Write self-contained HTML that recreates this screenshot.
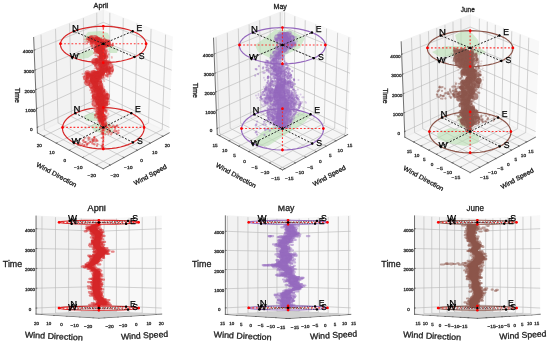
<!DOCTYPE html><html><head><meta charset="utf-8"><title>Wind rose time series: April, May, June</title><style>html,body{margin:0;padding:0;background:#fff;overflow:hidden;font-family:"Liberation Sans",sans-serif}svg{display:block;will-change:transform}svg text{font-family:"Liberation Sans",sans-serif}</style></head><body><svg width="550" height="343" viewBox="0 0 396 246.96" version="1.1"><defs><style type="text/css">*{stroke-linejoin: round; stroke-linecap: butt}</style></defs><g id="figure_1"><g id="patch_1"><path d="M 0 246.96 L 396 246.96 L 396 0 L 0 0 z " style="fill: #ffffff"/></g><g id="patch_2"><path d="M 12.2805 124.38558 L 133.207596 124.38558 L 133.207596 3.458484 L 12.2805 3.458484 z " style="fill: #ffffff"/></g><g id="pane3d_1"><g id="patch_3"><path d="M 121.82124 95.666407 L 74.378198 72.889933 L 74.378198 7.389167 L 124.516092 27.013395 " style="fill: #f2f2f2; opacity: 0.5; stroke: #f2f2f2; stroke-linejoin: miter"/></g></g><g id="pane3d_2"><g id="patch_4"><path d="M 26.935155 95.666407 L 74.378198 72.889933 L 74.378198 7.389167 L 24.240303 27.013395 " style="fill: #e6e6e6; opacity: 0.5; stroke: #e6e6e6; stroke-linejoin: miter"/></g></g><g id="pane3d_3"><g id="patch_5"><path d="M 74.378198 121.569504 L 121.82124 95.666407 L 74.378198 72.889933 L 26.935155 95.666407 " style="fill: #ececec; opacity: 0.5; stroke: #ececec; stroke-linejoin: miter"/></g></g><g id="grid3d_1"><g id="Line3DCollection_1"><path d="M 79.395223 118.830293 L 31.933664 93.266721 L 29.538932 24.939485 " style="fill: none; stroke: #b8b8b8; stroke-width: 0.45"/><path d="M 89.272217 113.437622 L 41.786966 88.536344 L 39.972647 20.855676 " style="fill: none; stroke: #b8b8b8; stroke-width: 0.45"/><path d="M 98.886796 108.188225 L 51.394774 83.923824 L 50.132125 16.879204 " style="fill: none; stroke: #b8b8b8; stroke-width: 0.45"/><path d="M 108.249282 103.076467 L 60.766149 79.424811 L 60.028039 13.005893 " style="fill: none; stroke: #b8b8b8; stroke-width: 0.45"/><path d="M 117.36946 98.097004 L 69.909714 75.035165 L 69.670514 9.231779 " style="fill: none; stroke: #b8b8b8; stroke-width: 0.45"/></g></g><g id="grid3d_2"><g id="Line3DCollection_2"><path d="M 119.217464 24.939485 L 116.822731 93.266721 L 69.361173 118.830293 " style="fill: none; stroke: #b8b8b8; stroke-width: 0.45"/><path d="M 108.783749 20.855676 L 106.96943 88.536344 L 59.484179 113.437622 " style="fill: none; stroke: #b8b8b8; stroke-width: 0.45"/><path d="M 98.624271 16.879204 L 97.361622 83.923824 L 49.8696 108.188225 " style="fill: none; stroke: #b8b8b8; stroke-width: 0.45"/><path d="M 88.728357 13.005893 L 87.990247 79.424811 L 40.507114 103.076467 " style="fill: none; stroke: #b8b8b8; stroke-width: 0.45"/><path d="M 79.085882 9.231779 L 78.846682 75.035165 L 31.386936 98.097004 " style="fill: none; stroke: #b8b8b8; stroke-width: 0.45"/></g></g><g id="grid3d_3"><g id="Line3DCollection_3"><path d="M 26.78089 91.736401 L 74.378198 69.12826 L 121.975506 91.736401 " style="fill: none; stroke: #b8b8b8; stroke-width: 0.45"/><path d="M 26.253651 78.304659 L 74.378198 56.282972 L 122.502745 78.304659 " style="fill: none; stroke: #b8b8b8; stroke-width: 0.45"/><path d="M 25.7146 64.572014 L 74.378198 43.167706 L 123.041796 64.572014 " style="fill: none; stroke: #b8b8b8; stroke-width: 0.45"/><path d="M 25.163337 50.528241 L 74.378198 29.77386 L 123.593059 50.528241 " style="fill: none; stroke: #b8b8b8; stroke-width: 0.45"/><path d="M 24.599441 36.162645 L 74.378198 16.092464 L 124.156955 36.162645 " style="fill: none; stroke: #b8b8b8; stroke-width: 0.45"/></g></g><g id="axis3d_1"><g id="line2d_1"><path d="M 121.82124 95.666407 L 74.378198 121.569504 " style="fill: none; stroke: #555555; stroke-width: 0.6; stroke-linecap: square"/></g><g id="xtick_1"><g id="line2d_2"><path d="M 78.787356 118.502886 L 79.395223 118.830293 " style="fill: none; stroke: #333333; stroke-width: 0.4; stroke-linecap: square"/></g><g id="text_1"><text style="stroke: #333333; stroke-width: 0.216; font-size: 3.12912px; font-family: 'Liberation Sans'; text-anchor: middle; fill: #333333" x="82.599046" y="127.131459" transform="rotate(-0 82.599046 127.131459)" textLength="6.23" lengthAdjust="spacingAndGlyphs">−20</text></g></g><g id="xtick_2"><g id="line2d_3"><path d="M 88.664562 113.118968 L 89.272217 113.437622 " style="fill: none; stroke: #333333; stroke-width: 0.4; stroke-linecap: square"/></g><g id="text_2"><text style="stroke: #333333; stroke-width: 0.216; font-size: 3.12912px; font-family: 'Liberation Sans'; text-anchor: middle; fill: #333333" x="92.439765" y="121.653741" transform="rotate(-0 92.439765 121.653741)" textLength="6.23" lengthAdjust="spacingAndGlyphs">−10</text></g></g><g id="xtick_3"><g id="line2d_4"><path d="M 98.279557 107.877977 L 98.886796 108.188225 " style="fill: none; stroke: #333333; stroke-width: 0.4; stroke-linecap: square"/></g><g id="text_3"><text style="stroke: #333333; stroke-width: 0.216; font-size: 3.12912px; font-family: 'Liberation Sans'; text-anchor: middle; fill: #333333" x="102.018853" y="116.321657" transform="rotate(-0 102.018853 116.321657)" textLength="1.88" lengthAdjust="spacingAndGlyphs">0</text></g></g><g id="xtick_4"><g id="line2d_5"><path d="M 107.642645 102.774297 L 108.249282 103.076467 " style="fill: none; stroke: #333333; stroke-width: 0.4; stroke-linecap: square"/></g><g id="text_4"><text style="stroke: #333333; stroke-width: 0.216; font-size: 3.12912px; font-family: 'Liberation Sans'; text-anchor: middle; fill: #333333" x="111.346608" y="111.129475" transform="rotate(-0 111.346608 111.129475)" textLength="3.76" lengthAdjust="spacingAndGlyphs">10</text></g></g><g id="xtick_5"><g id="line2d_6"><path d="M 116.763598 97.802601 L 117.36946 98.097004 " style="fill: none; stroke: #333333; stroke-width: 0.4; stroke-linecap: square"/></g><g id="text_5"><text style="stroke: #333333; stroke-width: 0.216; font-size: 3.12912px; font-family: 'Liberation Sans'; text-anchor: middle; fill: #333333" x="120.432792" y="106.071759" transform="rotate(-0 120.432792 106.071759)" textLength="3.76" lengthAdjust="spacingAndGlyphs">20</text></g></g></g><g id="axis3d_2"><g id="line2d_7"><path d="M 26.935155 95.666407 L 74.378198 121.569504 " style="fill: none; stroke: #555555; stroke-width: 0.6; stroke-linecap: square"/></g><g id="xtick_6"><g id="line2d_8"><path d="M 69.96904 118.502886 L 69.361173 118.830293 " style="fill: none; stroke: #333333; stroke-width: 0.4; stroke-linecap: square"/></g><g id="text_6"><text style="stroke: #333333; stroke-width: 0.216; font-size: 3.12912px; font-family: 'Liberation Sans'; text-anchor: middle; fill: #333333" x="66.15735" y="127.131459" transform="rotate(-0 66.15735 127.131459)" textLength="6.23" lengthAdjust="spacingAndGlyphs">−20</text></g></g><g id="xtick_7"><g id="line2d_9"><path d="M 60.091834 113.118968 L 59.484179 113.437622 " style="fill: none; stroke: #333333; stroke-width: 0.4; stroke-linecap: square"/></g><g id="text_7"><text style="stroke: #333333; stroke-width: 0.216; font-size: 3.12912px; font-family: 'Liberation Sans'; text-anchor: middle; fill: #333333" x="56.316631" y="121.653741" transform="rotate(-0 56.316631 121.653741)" textLength="6.23" lengthAdjust="spacingAndGlyphs">−10</text></g></g><g id="xtick_8"><g id="line2d_10"><path d="M 50.476839 107.877977 L 49.8696 108.188225 " style="fill: none; stroke: #333333; stroke-width: 0.4; stroke-linecap: square"/></g><g id="text_8"><text style="stroke: #333333; stroke-width: 0.216; font-size: 3.12912px; font-family: 'Liberation Sans'; text-anchor: middle; fill: #333333" x="46.737543" y="116.321657" transform="rotate(-0 46.737543 116.321657)" textLength="1.88" lengthAdjust="spacingAndGlyphs">0</text></g></g><g id="xtick_9"><g id="line2d_11"><path d="M 41.113751 102.774297 L 40.507114 103.076467 " style="fill: none; stroke: #333333; stroke-width: 0.4; stroke-linecap: square"/></g><g id="text_9"><text style="stroke: #333333; stroke-width: 0.216; font-size: 3.12912px; font-family: 'Liberation Sans'; text-anchor: middle; fill: #333333" x="37.409788" y="111.129475" transform="rotate(-0 37.409788 111.129475)" textLength="3.76" lengthAdjust="spacingAndGlyphs">10</text></g></g><g id="xtick_10"><g id="line2d_12"><path d="M 31.992798 97.802601 L 31.386936 98.097004 " style="fill: none; stroke: #333333; stroke-width: 0.4; stroke-linecap: square"/></g><g id="text_10"><text style="stroke: #333333; stroke-width: 0.216; font-size: 3.12912px; font-family: 'Liberation Sans'; text-anchor: middle; fill: #333333" x="28.323604" y="106.071759" transform="rotate(-0 28.323604 106.071759)" textLength="3.76" lengthAdjust="spacingAndGlyphs">20</text></g></g></g><g id="axis3d_3"><g id="line2d_13"><path d="M 26.935155 95.666407 L 24.240303 27.013395 " style="fill: none; stroke: #555555; stroke-width: 0.6; stroke-linecap: square"/></g><g id="xtick_11"><g id="line2d_14"><path d="M 27.388393 91.447845 L 26.78089 91.736401 " style="fill: none; stroke: #333333; stroke-width: 0.4; stroke-linecap: square"/></g><g id="text_11"><text style="stroke: #333333; stroke-width: 0.216; font-size: 3.12912px; font-family: 'Liberation Sans'; text-anchor: middle; fill: #333333" x="22.548867" y="94.004036" transform="rotate(-0 22.548867 94.004036)" textLength="1.88" lengthAdjust="spacingAndGlyphs">0</text></g></g><g id="xtick_12"><g id="line2d_15"><path d="M 26.868289 78.023401 L 26.253651 78.304659 " style="fill: none; stroke: #333333; stroke-width: 0.4; stroke-linecap: square"/></g><g id="text_12"><text style="stroke: #333333; stroke-width: 0.216; font-size: 3.12912px; font-family: 'Liberation Sans'; text-anchor: middle; fill: #333333" x="21.974749" y="80.572293" transform="rotate(-0 21.974749 80.572293)" textLength="7.51" lengthAdjust="spacingAndGlyphs">1000</text></g></g><g id="xtick_13"><g id="line2d_16"><path d="M 26.336544 64.298457 L 25.7146 64.572014 " style="fill: none; stroke: #333333; stroke-width: 0.4; stroke-linecap: square"/></g><g id="text_13"><text style="stroke: #333333; stroke-width: 0.216; font-size: 3.12912px; font-family: 'Liberation Sans'; text-anchor: middle; fill: #333333" x="21.38777" y="66.839648" transform="rotate(-0 21.38777 66.839648)" textLength="7.51" lengthAdjust="spacingAndGlyphs">2000</text></g></g><g id="xtick_14"><g id="line2d_17"><path d="M 25.792761 50.262807 L 25.163337 50.528241 " style="fill: none; stroke: #333333; stroke-width: 0.4; stroke-linecap: square"/></g><g id="text_14"><text style="stroke: #333333; stroke-width: 0.216; font-size: 3.12912px; font-family: 'Liberation Sans'; text-anchor: middle; fill: #333333" x="20.787492" y="52.795875" transform="rotate(-0 20.787492 52.795875)" textLength="7.51" lengthAdjust="spacingAndGlyphs">3000</text></g></g><g id="xtick_15"><g id="line2d_18"><path d="M 25.236526 35.90578 L 24.599441 36.162645 " style="fill: none; stroke: #333333; stroke-width: 0.4; stroke-linecap: square"/></g><g id="text_15"><text style="stroke: #333333; stroke-width: 0.216; font-size: 3.12912px; font-family: 'Liberation Sans'; text-anchor: middle; fill: #333333" x="20.173459" y="38.430279" transform="rotate(-0 20.173459 38.430279)" textLength="7.51" lengthAdjust="spacingAndGlyphs">4000</text></g></g></g><g id="axes_1"/><g id="patch_6"><path d="M 141.453792 125.052192 L 262.018656 125.052192 L 262.018656 4.487328 L 141.453792 4.487328 z " style="fill: #ffffff"/></g><g id="pane3d_4"><g id="patch_7"><path d="M 250.309485 96.85353 L 203.365479 74.398826 L 203.365479 8.22967 L 252.991628 27.501289 " style="fill: #f2f2f2; opacity: 0.5; stroke: #f2f2f2; stroke-linejoin: miter"/></g></g><g id="pane3d_5"><g id="patch_8"><path d="M 156.421473 96.85353 L 203.365479 74.398826 L 203.365479 8.22967 L 153.73933 27.501289 " style="fill: #e6e6e6; opacity: 0.5; stroke: #e6e6e6; stroke-linejoin: miter"/></g></g><g id="pane3d_6"><g id="patch_9"><path d="M 203.365479 122.371086 L 250.309485 96.85353 L 203.365479 74.398826 L 156.421473 96.85353 " style="fill: #ececec; opacity: 0.5; stroke: #ececec; stroke-linejoin: miter"/></g></g><g id="grid3d_4"><g id="Line3DCollection_4"><path d="M 205.07174 121.443606 L 158.12103 96.040581 L 155.541928 26.801275 " style="fill: none; stroke: #b8b8b8; stroke-width: 0.45"/><path d="M 212.742113 117.274188 L 165.767494 92.383052 L 163.64645 23.653998 " style="fill: none; stroke: #b8b8b8; stroke-width: 0.45"/><path d="M 220.253738 113.191062 L 173.265591 88.796491 L 171.584936 20.571198 " style="fill: none; stroke: #b8b8b8; stroke-width: 0.45"/><path d="M 227.611491 109.191576 L 180.619597 85.278853 L 179.362437 17.550914 " style="fill: none; stroke: #b8b8b8; stroke-width: 0.45"/><path d="M 234.820054 105.273186 L 187.833625 81.82817 L 186.983801 14.591265 " style="fill: none; stroke: #b8b8b8; stroke-width: 0.45"/><path d="M 241.883918 101.433451 L 194.911636 78.442549 L 194.453681 11.690442 " style="fill: none; stroke: #b8b8b8; stroke-width: 0.45"/><path d="M 248.807397 97.670026 L 201.85744 75.120166 L 201.776552 8.846708 " style="fill: none; stroke: #b8b8b8; stroke-width: 0.45"/></g></g><g id="grid3d_5"><g id="Line3DCollection_5"><path d="M 251.18903 26.801275 L 248.609927 96.040581 L 201.659218 121.443606 " style="fill: none; stroke: #b8b8b8; stroke-width: 0.45"/><path d="M 243.084508 23.653998 L 240.963463 92.383052 L 193.988845 117.274188 " style="fill: none; stroke: #b8b8b8; stroke-width: 0.45"/><path d="M 235.146021 20.571198 L 233.465367 88.796491 L 186.47722 113.191062 " style="fill: none; stroke: #b8b8b8; stroke-width: 0.45"/><path d="M 227.368521 17.550914 L 226.111361 85.278853 L 179.119467 109.191576 " style="fill: none; stroke: #b8b8b8; stroke-width: 0.45"/><path d="M 219.747157 14.591265 L 218.897332 81.82817 L 171.910904 105.273186 " style="fill: none; stroke: #b8b8b8; stroke-width: 0.45"/><path d="M 212.277276 11.690442 L 211.819321 78.442549 L 164.84704 101.433451 " style="fill: none; stroke: #b8b8b8; stroke-width: 0.45"/><path d="M 204.954406 8.846708 L 204.873518 75.120166 L 157.923561 97.670026 " style="fill: none; stroke: #b8b8b8; stroke-width: 0.45"/></g></g><g id="grid3d_6"><g id="Line3DCollection_6"><path d="M 156.254953 92.547811 L 203.365479 70.27752 L 250.476005 92.547811 " style="fill: none; stroke: #b8b8b8; stroke-width: 0.45"/><path d="M 155.753044 79.569939 L 203.365479 57.866091 L 250.977914 79.569939 " style="fill: none; stroke: #b8b8b8; stroke-width: 0.45"/><path d="M 155.240325 66.312561 L 203.365479 45.203776 L 251.490633 66.312561 " style="fill: none; stroke: #b8b8b8; stroke-width: 0.45"/><path d="M 154.716444 52.766548 L 203.365479 32.28289 L 252.014514 52.766548 " style="fill: none; stroke: #b8b8b8; stroke-width: 0.45"/><path d="M 154.181031 38.92237 L 203.365479 19.095432 L 252.549927 38.92237 " style="fill: none; stroke: #b8b8b8; stroke-width: 0.45"/></g></g><g id="axis3d_4"><g id="line2d_19"><path d="M 250.309485 96.85353 L 203.365479 122.371086 " style="fill: none; stroke: #555555; stroke-width: 0.6; stroke-linecap: square"/></g><g id="xtick_16"><g id="line2d_20"><path d="M 204.470486 121.118294 L 205.07174 121.443606 " style="fill: none; stroke: #333333; stroke-width: 0.4; stroke-linecap: square"/></g><g id="text_16"><text style="stroke: #333333; stroke-width: 0.216; font-size: 3.12912px; font-family: 'Liberation Sans'; text-anchor: middle; fill: #333333" x="208.261868" y="129.806987" transform="rotate(-0 208.261868 129.806987)" textLength="6.23" lengthAdjust="spacingAndGlyphs">−15</text></g></g><g id="xtick_17"><g id="line2d_21"><path d="M 212.140949 116.955641 L 212.742113 117.274188 " style="fill: none; stroke: #333333; stroke-width: 0.4; stroke-linecap: square"/></g><g id="text_17"><text style="stroke: #333333; stroke-width: 0.216; font-size: 3.12912px; font-family: 'Liberation Sans'; text-anchor: middle; fill: #333333" x="215.903915" y="125.571041" transform="rotate(-0 215.903915 125.571041)" textLength="6.23" lengthAdjust="spacingAndGlyphs">−10</text></g></g><g id="xtick_18"><g id="line2d_22"><path d="M 219.652788 112.87907 L 220.253738 113.191062 " style="fill: none; stroke: #333333; stroke-width: 0.4; stroke-linecap: square"/></g><g id="text_18"><text style="stroke: #333333; stroke-width: 0.216; font-size: 3.12912px; font-family: 'Liberation Sans'; text-anchor: middle; fill: #333333" x="223.387696" y="121.422821" transform="rotate(-0 223.387696 121.422821)" textLength="4.35" lengthAdjust="spacingAndGlyphs">−5</text></g></g><g id="xtick_19"><g id="line2d_23"><path d="M 227.010873 108.88594 L 227.611491 109.191576 " style="fill: none; stroke: #333333; stroke-width: 0.4; stroke-linecap: square"/></g><g id="text_19"><text style="stroke: #333333; stroke-width: 0.216; font-size: 3.12912px; font-family: 'Liberation Sans'; text-anchor: middle; fill: #333333" x="230.718078" y="117.359629" transform="rotate(-0 230.718078 117.359629)" textLength="1.88" lengthAdjust="spacingAndGlyphs">0</text></g></g><g id="xtick_20"><g id="line2d_24"><path d="M 234.219878 104.973714 L 234.820054 105.273186 " style="fill: none; stroke: #333333; stroke-width: 0.4; stroke-linecap: square"/></g><g id="text_20"><text style="stroke: #333333; stroke-width: 0.216; font-size: 3.12912px; font-family: 'Liberation Sans'; text-anchor: middle; fill: #333333" x="237.899729" y="113.378878" transform="rotate(-0 237.899729 113.378878)" textLength="1.88" lengthAdjust="spacingAndGlyphs">5</text></g></g><g id="xtick_21"><g id="line2d_25"><path d="M 241.284287 101.139958 L 241.883918 101.433451 " style="fill: none; stroke: #333333; stroke-width: 0.4; stroke-linecap: square"/></g><g id="text_21"><text style="stroke: #333333; stroke-width: 0.216; font-size: 3.12912px; font-family: 'Liberation Sans'; text-anchor: middle; fill: #333333" x="244.93713" y="109.478084" transform="rotate(-0 244.93713 109.478084)" textLength="3.76" lengthAdjust="spacingAndGlyphs">10</text></g></g><g id="xtick_22"><g id="line2d_26"><path d="M 248.208408 97.382334 L 248.807397 97.670026 " style="fill: none; stroke: #333333; stroke-width: 0.4; stroke-linecap: square"/></g><g id="text_22"><text style="stroke: #333333; stroke-width: 0.216; font-size: 3.12912px; font-family: 'Liberation Sans'; text-anchor: middle; fill: #333333" x="251.834584" y="105.654862" transform="rotate(-0 251.834584 105.654862)" textLength="3.76" lengthAdjust="spacingAndGlyphs">15</text></g></g></g><g id="axis3d_5"><g id="line2d_27"><path d="M 156.421473 96.85353 L 203.365479 122.371086 " style="fill: none; stroke: #555555; stroke-width: 0.6; stroke-linecap: square"/></g><g id="xtick_23"><g id="line2d_28"><path d="M 202.260471 121.118294 L 201.659218 121.443606 " style="fill: none; stroke: #333333; stroke-width: 0.4; stroke-linecap: square"/></g><g id="text_23"><text style="stroke: #333333; stroke-width: 0.216; font-size: 3.12912px; font-family: 'Liberation Sans'; text-anchor: middle; fill: #333333" x="198.46909" y="129.806987" transform="rotate(-0 198.46909 129.806987)" textLength="6.23" lengthAdjust="spacingAndGlyphs">−15</text></g></g><g id="xtick_24"><g id="line2d_29"><path d="M 194.590009 116.955641 L 193.988845 117.274188 " style="fill: none; stroke: #333333; stroke-width: 0.4; stroke-linecap: square"/></g><g id="text_24"><text style="stroke: #333333; stroke-width: 0.216; font-size: 3.12912px; font-family: 'Liberation Sans'; text-anchor: middle; fill: #333333" x="190.827043" y="125.571041" transform="rotate(-0 190.827043 125.571041)" textLength="6.23" lengthAdjust="spacingAndGlyphs">−10</text></g></g><g id="xtick_25"><g id="line2d_30"><path d="M 187.07817 112.87907 L 186.47722 113.191062 " style="fill: none; stroke: #333333; stroke-width: 0.4; stroke-linecap: square"/></g><g id="text_25"><text style="stroke: #333333; stroke-width: 0.216; font-size: 3.12912px; font-family: 'Liberation Sans'; text-anchor: middle; fill: #333333" x="183.343262" y="121.422821" transform="rotate(-0 183.343262 121.422821)" textLength="4.35" lengthAdjust="spacingAndGlyphs">−5</text></g></g><g id="xtick_26"><g id="line2d_31"><path d="M 179.720084 108.88594 L 179.119467 109.191576 " style="fill: none; stroke: #333333; stroke-width: 0.4; stroke-linecap: square"/></g><g id="text_26"><text style="stroke: #333333; stroke-width: 0.216; font-size: 3.12912px; font-family: 'Liberation Sans'; text-anchor: middle; fill: #333333" x="176.01288" y="117.359629" transform="rotate(-0 176.01288 117.359629)" textLength="1.88" lengthAdjust="spacingAndGlyphs">0</text></g></g><g id="xtick_27"><g id="line2d_32"><path d="M 172.51108 104.973714 L 171.910904 105.273186 " style="fill: none; stroke: #333333; stroke-width: 0.4; stroke-linecap: square"/></g><g id="text_27"><text style="stroke: #333333; stroke-width: 0.216; font-size: 3.12912px; font-family: 'Liberation Sans'; text-anchor: middle; fill: #333333" x="168.831229" y="113.378878" transform="rotate(-0 168.831229 113.378878)" textLength="1.88" lengthAdjust="spacingAndGlyphs">5</text></g></g><g id="xtick_28"><g id="line2d_33"><path d="M 165.446671 101.139958 L 164.84704 101.433451 " style="fill: none; stroke: #333333; stroke-width: 0.4; stroke-linecap: square"/></g><g id="text_28"><text style="stroke: #333333; stroke-width: 0.216; font-size: 3.12912px; font-family: 'Liberation Sans'; text-anchor: middle; fill: #333333" x="161.793828" y="109.478084" transform="rotate(-0 161.793828 109.478084)" textLength="3.76" lengthAdjust="spacingAndGlyphs">10</text></g></g><g id="xtick_29"><g id="line2d_34"><path d="M 158.52255 97.382334 L 157.923561 97.670026 " style="fill: none; stroke: #333333; stroke-width: 0.4; stroke-linecap: square"/></g><g id="text_29"><text style="stroke: #333333; stroke-width: 0.216; font-size: 3.12912px; font-family: 'Liberation Sans'; text-anchor: middle; fill: #333333" x="154.896374" y="105.654862" transform="rotate(-0 154.896374 105.654862)" textLength="3.76" lengthAdjust="spacingAndGlyphs">15</text></g></g></g><g id="axis3d_6"><g id="line2d_35"><path d="M 156.421473 96.85353 L 153.73933 27.501289 " style="fill: none; stroke: #555555; stroke-width: 0.6; stroke-linecap: square"/></g><g id="xtick_30"><g id="line2d_36"><path d="M 156.856039 92.263663 L 156.254953 92.547811 " style="fill: none; stroke: #333333; stroke-width: 0.4; stroke-linecap: square"/></g><g id="text_30"><text style="stroke: #333333; stroke-width: 0.216; font-size: 3.12912px; font-family: 'Liberation Sans'; text-anchor: middle; fill: #333333" x="152.053626" y="94.815445" transform="rotate(-0 152.053626 94.815445)" textLength="1.88" lengthAdjust="spacingAndGlyphs">0</text></g></g><g id="xtick_31"><g id="line2d_37"><path d="M 156.360919 79.292843 L 155.753044 79.569939 " style="fill: none; stroke: #333333; stroke-width: 0.4; stroke-linecap: square"/></g><g id="text_31"><text style="stroke: #333333; stroke-width: 0.216; font-size: 3.12912px; font-family: 'Liberation Sans'; text-anchor: middle; fill: #333333" x="151.506957" y="81.837574" transform="rotate(-0 151.506957 81.837574)" textLength="7.51" lengthAdjust="spacingAndGlyphs">1000</text></g></g><g id="xtick_32"><g id="line2d_38"><path d="M 155.855143 66.042888 L 155.240325 66.312561 " style="fill: none; stroke: #333333; stroke-width: 0.4; stroke-linecap: square"/></g><g id="text_32"><text style="stroke: #333333; stroke-width: 0.216; font-size: 3.12912px; font-family: 'Liberation Sans'; text-anchor: middle; fill: #333333" x="150.948514" y="68.580195" transform="rotate(-0 150.948514 68.580195)" textLength="7.51" lengthAdjust="spacingAndGlyphs">2000</text></g></g><g id="xtick_33"><g id="line2d_39"><path d="M 155.338365 52.504688 L 154.716444 52.766548 " style="fill: none; stroke: #333333; stroke-width: 0.4; stroke-linecap: square"/></g><g id="text_33"><text style="stroke: #333333; stroke-width: 0.216; font-size: 3.12912px; font-family: 'Liberation Sans'; text-anchor: middle; fill: #333333" x="150.377913" y="55.034182" transform="rotate(-0 150.377913 55.034182)" textLength="7.51" lengthAdjust="spacingAndGlyphs">3000</text></g></g><g id="xtick_34"><g id="line2d_40"><path d="M 154.810221 38.668735 L 154.181031 38.92237 " style="fill: none; stroke: #333333; stroke-width: 0.4; stroke-linecap: square"/></g><g id="text_34"><text style="stroke: #333333; stroke-width: 0.216; font-size: 3.12912px; font-family: 'Liberation Sans'; text-anchor: middle; fill: #333333" x="149.794752" y="41.190004" transform="rotate(-0 149.794752 41.190004)" textLength="7.51" lengthAdjust="spacingAndGlyphs">4000</text></g></g></g><g id="axes_2"/><g id="patch_10"><path d="M 276.810768 127.079568 L 396.9432 127.079568 L 396.9432 6.947136 L 276.810768 6.947136 z " style="fill: #ffffff"/></g><g id="pane3d_7"><g id="patch_11"><path d="M 385.506136 98.789312 L 338.500395 76.402145 L 338.500395 10.896877 L 388.161589 30.10377 " style="fill: #f2f2f2; opacity: 0.5; stroke: #f2f2f2; stroke-linejoin: miter"/></g></g><g id="pane3d_8"><g id="patch_12"><path d="M 291.494654 98.789312 L 338.500395 76.402145 L 338.500395 10.896877 L 288.839202 30.10377 " style="fill: #e6e6e6; opacity: 0.5; stroke: #e6e6e6; stroke-linejoin: miter"/></g></g><g id="pane3d_9"><g id="patch_13"><path d="M 338.500395 124.249643 L 385.506136 98.789312 L 338.500395 76.402145 L 291.494654 98.789312 " style="fill: #ececec; opacity: 0.5; stroke: #ececec; stroke-linejoin: miter"/></g></g><g id="grid3d_7"><g id="Line3DCollection_7"><path d="M 345.542274 120.435458 L 298.51182 95.447284 L 296.274273 27.228192 " style="fill: none; stroke: #b8b8b8; stroke-width: 0.45"/><path d="M 351.381812 117.272513 L 304.33745 92.672743 L 302.441104 24.843117 " style="fill: none; stroke: #b8b8b8; stroke-width: 0.45"/><path d="M 357.128009 114.160126 L 310.0758 89.939771 L 308.510453 22.495744 " style="fill: none; stroke: #b8b8b8; stroke-width: 0.45"/><path d="M 362.783084 111.097094 L 315.728815 87.247441 L 314.484614 20.185186 " style="fill: none; stroke: #b8b8b8; stroke-width: 0.45"/><path d="M 368.349188 108.082253 L 321.298385 84.594852 L 320.365809 17.910584 " style="fill: none; stroke: #b8b8b8; stroke-width: 0.45"/><path d="M 373.828403 105.114474 L 326.786344 81.981132 L 326.156191 15.671104 " style="fill: none; stroke: #b8b8b8; stroke-width: 0.45"/><path d="M 379.22275 102.192664 L 332.194472 79.405432 L 331.857847 13.46594 " style="fill: none; stroke: #b8b8b8; stroke-width: 0.45"/></g></g><g id="grid3d_8"><g id="Line3DCollection_8"><path d="M 380.726517 27.228192 L 378.488971 95.447284 L 331.458517 120.435458 " style="fill: none; stroke: #b8b8b8; stroke-width: 0.45"/><path d="M 374.559686 24.843117 L 372.66334 92.672743 L 325.618978 117.272513 " style="fill: none; stroke: #b8b8b8; stroke-width: 0.45"/><path d="M 368.490337 22.495744 L 366.924991 89.939771 L 319.872781 114.160126 " style="fill: none; stroke: #b8b8b8; stroke-width: 0.45"/><path d="M 362.516176 20.185186 L 361.271976 87.247441 L 314.217707 111.097094 " style="fill: none; stroke: #b8b8b8; stroke-width: 0.45"/><path d="M 356.634981 17.910584 L 355.702406 84.594852 L 308.651603 108.082253 " style="fill: none; stroke: #b8b8b8; stroke-width: 0.45"/><path d="M 350.8446 15.671104 L 350.214447 81.981132 L 303.172387 105.114474 " style="fill: none; stroke: #b8b8b8; stroke-width: 0.45"/><path d="M 345.142944 13.46594 L 344.806318 79.405432 L 297.77804 102.192664 " style="fill: none; stroke: #b8b8b8; stroke-width: 0.45"/></g></g><g id="grid3d_9"><g id="Line3DCollection_9"><path d="M 291.337542 94.725474 L 338.500395 72.514042 L 385.663248 94.725474 " style="fill: none; stroke: #b8b8b8; stroke-width: 0.45"/><path d="M 290.818033 81.287943 L 338.500395 59.668754 L 386.182757 81.287943 " style="fill: none; stroke: #b8b8b8; stroke-width: 0.45"/><path d="M 290.286953 67.551081 L 338.500395 46.555013 L 386.713838 67.551081 " style="fill: none; stroke: #b8b8b8; stroke-width: 0.45"/><path d="M 289.743908 53.504772 L 338.500395 33.164314 L 387.256882 53.504772 " style="fill: none; stroke: #b8b8b8; stroke-width: 0.45"/><path d="M 289.188491 39.138442 L 338.500395 19.487789 L 387.812299 39.138442 " style="fill: none; stroke: #b8b8b8; stroke-width: 0.45"/></g></g><g id="axis3d_7"><g id="line2d_41"><path d="M 385.506136 98.789312 L 338.500395 124.249643 " style="fill: none; stroke: #555555; stroke-width: 0.6; stroke-linecap: square"/></g><g id="xtick_35"><g id="line2d_42"><path d="M 344.940036 120.115478 L 345.542274 120.435458 " style="fill: none; stroke: #333333; stroke-width: 0.4; stroke-linecap: square"/></g><g id="text_35"><text style="stroke: #333333; stroke-width: 0.216; font-size: 3.12912px; font-family: 'Liberation Sans'; text-anchor: middle; fill: #333333" x="348.730128" y="128.734008" transform="rotate(-0 348.730128 128.734008)" textLength="6.23" lengthAdjust="spacingAndGlyphs">−15</text></g></g><g id="xtick_36"><g id="line2d_43"><path d="M 350.779702 116.957666 L 351.381812 117.272513 " style="fill: none; stroke: #333333; stroke-width: 0.4; stroke-linecap: square"/></g><g id="text_36"><text style="stroke: #333333; stroke-width: 0.216; font-size: 3.12912px; font-family: 'Liberation Sans'; text-anchor: middle; fill: #333333" x="354.548184" y="125.520154" transform="rotate(-0 354.548184 125.520154)" textLength="6.23" lengthAdjust="spacingAndGlyphs">−10</text></g></g><g id="xtick_37"><g id="line2d_44"><path d="M 356.526098 113.850289 L 357.128009 114.160126 " style="fill: none; stroke: #333333; stroke-width: 0.4; stroke-linecap: square"/></g><g id="text_37"><text style="stroke: #333333; stroke-width: 0.216; font-size: 3.12912px; font-family: 'Liberation Sans'; text-anchor: middle; fill: #333333" x="360.273174" y="122.357708" transform="rotate(-0 360.273174 122.357708)" textLength="4.35" lengthAdjust="spacingAndGlyphs">−5</text></g></g><g id="xtick_38"><g id="line2d_45"><path d="M 362.181442 110.792149 L 362.783084 111.097094 " style="fill: none; stroke: #333333; stroke-width: 0.4; stroke-linecap: square"/></g><g id="text_38"><text style="stroke: #333333; stroke-width: 0.216; font-size: 3.12912px; font-family: 'Liberation Sans'; text-anchor: middle; fill: #333333" x="365.907314" y="119.245448" transform="rotate(-0 365.907314 119.245448)" textLength="1.88" lengthAdjust="spacingAndGlyphs">0</text></g></g><g id="xtick_39"><g id="line2d_46"><path d="M 367.747881 107.782085 L 368.349188 108.082253 " style="fill: none; stroke: #333333; stroke-width: 0.4; stroke-linecap: square"/></g><g id="text_39"><text style="stroke: #333333; stroke-width: 0.216; font-size: 3.12912px; font-family: 'Liberation Sans'; text-anchor: middle; fill: #333333" x="371.45275" y="116.182186" transform="rotate(-0 371.45275 116.182186)" textLength="1.88" lengthAdjust="spacingAndGlyphs">5</text></g></g><g id="xtick_40"><g id="line2d_47"><path d="M 373.227494 104.818972 L 373.828403 105.114474 " style="fill: none; stroke: #333333; stroke-width: 0.4; stroke-linecap: square"/></g><g id="text_40"><text style="stroke: #333333; stroke-width: 0.216; font-size: 3.12912px; font-family: 'Liberation Sans'; text-anchor: middle; fill: #333333" x="376.911561" y="113.166777" transform="rotate(-0 376.911561 113.166777)" textLength="3.76" lengthAdjust="spacingAndGlyphs">10</text></g></g><g id="xtick_41"><g id="line2d_48"><path d="M 378.622299 101.901719 L 379.22275 102.192664 " style="fill: none; stroke: #333333; stroke-width: 0.4; stroke-linecap: square"/></g><g id="text_41"><text style="stroke: #333333; stroke-width: 0.216; font-size: 3.12912px; font-family: 'Liberation Sans'; text-anchor: middle; fill: #333333" x="382.285759" y="110.198106" transform="rotate(-0 382.285759 110.198106)" textLength="3.76" lengthAdjust="spacingAndGlyphs">15</text></g></g></g><g id="axis3d_8"><g id="line2d_49"><path d="M 291.494654 98.789312 L 338.500395 124.249643 " style="fill: none; stroke: #555555; stroke-width: 0.6; stroke-linecap: square"/></g><g id="xtick_42"><g id="line2d_50"><path d="M 332.060754 120.115478 L 331.458517 120.435458 " style="fill: none; stroke: #333333; stroke-width: 0.4; stroke-linecap: square"/></g><g id="text_42"><text style="stroke: #333333; stroke-width: 0.216; font-size: 3.12912px; font-family: 'Liberation Sans'; text-anchor: middle; fill: #333333" x="328.270662" y="128.734008" transform="rotate(-0 328.270662 128.734008)" textLength="6.23" lengthAdjust="spacingAndGlyphs">−15</text></g></g><g id="xtick_43"><g id="line2d_51"><path d="M 326.221089 116.957666 L 325.618978 117.272513 " style="fill: none; stroke: #333333; stroke-width: 0.4; stroke-linecap: square"/></g><g id="text_43"><text style="stroke: #333333; stroke-width: 0.216; font-size: 3.12912px; font-family: 'Liberation Sans'; text-anchor: middle; fill: #333333" x="322.452607" y="125.520154" transform="rotate(-0 322.452607 125.520154)" textLength="6.23" lengthAdjust="spacingAndGlyphs">−10</text></g></g><g id="xtick_44"><g id="line2d_52"><path d="M 320.474693 113.850289 L 319.872781 114.160126 " style="fill: none; stroke: #333333; stroke-width: 0.4; stroke-linecap: square"/></g><g id="text_44"><text style="stroke: #333333; stroke-width: 0.216; font-size: 3.12912px; font-family: 'Liberation Sans'; text-anchor: middle; fill: #333333" x="316.727617" y="122.357708" transform="rotate(-0 316.727617 122.357708)" textLength="4.35" lengthAdjust="spacingAndGlyphs">−5</text></g></g><g id="xtick_45"><g id="line2d_53"><path d="M 314.819349 110.792149 L 314.217707 111.097094 " style="fill: none; stroke: #333333; stroke-width: 0.4; stroke-linecap: square"/></g><g id="text_45"><text style="stroke: #333333; stroke-width: 0.216; font-size: 3.12912px; font-family: 'Liberation Sans'; text-anchor: middle; fill: #333333" x="311.093476" y="119.245448" transform="rotate(-0 311.093476 119.245448)" textLength="1.88" lengthAdjust="spacingAndGlyphs">0</text></g></g><g id="xtick_46"><g id="line2d_54"><path d="M 309.25291 107.782085 L 308.651603 108.082253 " style="fill: none; stroke: #333333; stroke-width: 0.4; stroke-linecap: square"/></g><g id="text_46"><text style="stroke: #333333; stroke-width: 0.216; font-size: 3.12912px; font-family: 'Liberation Sans'; text-anchor: middle; fill: #333333" x="305.54804" y="116.182186" transform="rotate(-0 305.54804 116.182186)" textLength="1.88" lengthAdjust="spacingAndGlyphs">5</text></g></g><g id="xtick_47"><g id="line2d_55"><path d="M 303.773296 104.818972 L 303.172387 105.114474 " style="fill: none; stroke: #333333; stroke-width: 0.4; stroke-linecap: square"/></g><g id="text_47"><text style="stroke: #333333; stroke-width: 0.216; font-size: 3.12912px; font-family: 'Liberation Sans'; text-anchor: middle; fill: #333333" x="300.08923" y="113.166777" transform="rotate(-0 300.08923 113.166777)" textLength="3.76" lengthAdjust="spacingAndGlyphs">10</text></g></g><g id="xtick_48"><g id="line2d_56"><path d="M 298.378492 101.901719 L 297.77804 102.192664 " style="fill: none; stroke: #333333; stroke-width: 0.4; stroke-linecap: square"/></g><g id="text_48"><text style="stroke: #333333; stroke-width: 0.216; font-size: 3.12912px; font-family: 'Liberation Sans'; text-anchor: middle; fill: #333333" x="294.715032" y="110.198106" transform="rotate(-0 294.715032 110.198106)" textLength="3.76" lengthAdjust="spacingAndGlyphs">15</text></g></g></g><g id="axis3d_9"><g id="line2d_57"><path d="M 291.494654 98.789312 L 288.839202 30.10377 " style="fill: none; stroke: #555555; stroke-width: 0.6; stroke-linecap: square"/></g><g id="xtick_49"><g id="line2d_58"><path d="M 291.939503 94.44198 L 291.337542 94.725474 " style="fill: none; stroke: #333333; stroke-width: 0.4; stroke-linecap: square"/></g><g id="text_49"><text style="stroke: #333333; stroke-width: 0.216; font-size: 3.12912px; font-family: 'Liberation Sans'; text-anchor: middle; fill: #333333" x="287.116409" y="96.993109" transform="rotate(-0 287.116409 96.993109)" textLength="1.88" lengthAdjust="spacingAndGlyphs">0</text></g></g><g id="xtick_50"><g id="line2d_59"><path d="M 291.427025 81.011826 L 290.818033 81.287943 " style="fill: none; stroke: #333333; stroke-width: 0.4; stroke-linecap: square"/></g><g id="text_50"><text style="stroke: #333333; stroke-width: 0.216; font-size: 3.12912px; font-family: 'Liberation Sans'; text-anchor: middle; fill: #333333" x="286.550404" y="83.555578" transform="rotate(-0 286.550404 83.555578)" textLength="7.51" lengthAdjust="spacingAndGlyphs">1000</text></g></g><g id="xtick_51"><g id="line2d_60"><path d="M 290.903141 67.282742 L 290.286953 67.551081 " style="fill: none; stroke: #333333; stroke-width: 0.4; stroke-linecap: square"/></g><g id="text_51"><text style="stroke: #333333; stroke-width: 0.216; font-size: 3.12912px; font-family: 'Liberation Sans'; text-anchor: middle; fill: #333333" x="285.97179" y="69.818715" transform="rotate(-0 285.97179 69.818715)" textLength="7.51" lengthAdjust="spacingAndGlyphs">2000</text></g></g><g id="xtick_52"><g id="line2d_61"><path d="M 290.367466 53.244634 L 289.743908 53.504772 " style="fill: none; stroke: #333333; stroke-width: 0.4; stroke-linecap: square"/></g><g id="text_52"><text style="stroke: #333333; stroke-width: 0.216; font-size: 3.12912px; font-family: 'Liberation Sans'; text-anchor: middle; fill: #333333" x="285.380143" y="55.772406" transform="rotate(-0 285.380143 55.772406)" textLength="7.51" lengthAdjust="spacingAndGlyphs">3000</text></g></g><g id="xtick_53"><g id="line2d_62"><path d="M 289.819595 38.886949 L 289.188491 39.138442 " style="fill: none; stroke: #333333; stroke-width: 0.4; stroke-linecap: square"/></g><g id="text_53"><text style="stroke: #333333; stroke-width: 0.216; font-size: 3.12912px; font-family: 'Liberation Sans'; text-anchor: middle; fill: #333333" x="284.775015" y="41.406077" transform="rotate(-0 284.775015 41.406077)" textLength="7.51" lengthAdjust="spacingAndGlyphs">4000</text></g></g></g><g id="axes_3"/><g id="patch_14"><path d="M 13.994712 248.049216 L 125.36244 248.049216 L 125.36244 136.681488 L 13.994712 136.681488 z " style="fill: #ffffff"/></g><g id="pane3d_10"><g id="patch_15"><path d="M 116.408085 226.139137 L 71.183545 223.637295 L 71.183545 158.006928 L 116.412711 155.57802 " style="fill: #f2f2f2; opacity: 0.5; stroke: #f2f2f2; stroke-linejoin: miter"/></g></g><g id="pane3d_11"><g id="patch_16"><path d="M 25.959006 226.139137 L 71.183545 223.637295 L 71.183545 158.006928 L 25.95438 155.57802 " style="fill: #e6e6e6; opacity: 0.5; stroke: #e6e6e6; stroke-linejoin: miter"/></g></g><g id="pane3d_12"><g id="patch_17"><path d="M 71.183545 229.047416 L 116.408085 226.139137 L 71.183545 223.637295 L 25.959006 226.139137 " style="fill: #ececec; opacity: 0.5; stroke: #ececec; stroke-linejoin: miter"/></g></g><g id="grid3d_10"><g id="Line3DCollection_10"><path d="M 75.490525 228.770445 L 30.243981 225.90209 L 30.239821 155.808157 " style="fill: none; stroke: #b8b8b8; stroke-width: 0.45"/><path d="M 85.240946 228.143419 L 39.961634 225.364505 L 39.95851 156.330073 " style="fill: none; stroke: #b8b8b8; stroke-width: 0.45"/><path d="M 94.678342 227.536523 L 49.389903 224.842929 L 49.387754 156.836445 " style="fill: none; stroke: #b8b8b8; stroke-width: 0.45"/><path d="M 103.817548 226.948804 L 58.541523 224.336657 L 58.540295 157.327957 " style="fill: none; stroke: #b8b8b8; stroke-width: 0.45"/><path d="M 112.672478 226.379365 L 67.428496 223.845026 L 67.428136 157.805255 " style="fill: none; stroke: #b8b8b8; stroke-width: 0.45"/></g></g><g id="grid3d_11"><g id="Line3DCollection_11"><path d="M 112.127269 155.808157 L 112.123109 225.90209 L 66.876565 228.770445 " style="fill: none; stroke: #b8b8b8; stroke-width: 0.45"/><path d="M 102.408581 156.330073 L 102.405456 225.364505 L 57.126144 228.143419 " style="fill: none; stroke: #b8b8b8; stroke-width: 0.45"/><path d="M 92.979336 156.836445 L 92.977188 224.842929 L 47.688748 227.536523 " style="fill: none; stroke: #b8b8b8; stroke-width: 0.45"/><path d="M 83.826795 157.327957 L 83.825567 224.336657 L 38.549542 226.948804 " style="fill: none; stroke: #b8b8b8; stroke-width: 0.45"/><path d="M 74.938954 157.805255 L 74.938595 223.845026 L 29.694613 226.379365 " style="fill: none; stroke: #b8b8b8; stroke-width: 0.45"/></g></g><g id="grid3d_12"><g id="Line3DCollection_12"><path d="M 25.958723 221.821211 L 71.183545 219.621075 L 116.408368 221.821211 " style="fill: none; stroke: #b8b8b8; stroke-width: 0.45"/><path d="M 25.957786 207.538472 L 71.183545 206.336337 L 116.409304 207.538472 " style="fill: none; stroke: #b8b8b8; stroke-width: 0.45"/><path d="M 25.95685 193.25514 L 71.183545 193.051087 L 116.410241 193.25514 " style="fill: none; stroke: #b8b8b8; stroke-width: 0.45"/><path d="M 25.955913 178.971218 L 71.183545 179.765326 L 116.411177 178.971218 " style="fill: none; stroke: #b8b8b8; stroke-width: 0.45"/><path d="M 25.954977 164.686703 L 71.183545 166.479052 L 116.412114 164.686703 " style="fill: none; stroke: #b8b8b8; stroke-width: 0.45"/></g></g><g id="axis3d_10"><g id="line2d_63"><path d="M 116.408085 226.139137 L 71.183545 229.047416 " style="fill: none; stroke: #555555; stroke-width: 0.6; stroke-linecap: square"/></g><g id="xtick_54"><g id="line2d_64"><path d="M 74.904347 228.733285 L 75.490525 228.770445 " style="fill: none; stroke: #333333; stroke-width: 0.4; stroke-linecap: square"/></g><g id="text_54"><text style="stroke: #333333; stroke-width: 0.216; font-size: 2.97648px; font-family: 'Liberation Sans'; text-anchor: middle; fill: #333333" x="78.881195" y="236.394582" transform="rotate(-0 78.881195 236.394582)" textLength="5.93" lengthAdjust="spacingAndGlyphs">−20</text></g></g><g id="xtick_55"><g id="line2d_65"><path d="M 84.655048 228.107461 L 85.240946 228.143419 " style="fill: none; stroke: #333333; stroke-width: 0.4; stroke-linecap: square"/></g><g id="text_55"><text style="stroke: #333333; stroke-width: 0.216; font-size: 2.97648px; font-family: 'Liberation Sans'; text-anchor: middle; fill: #333333" x="88.629559" y="235.674432" transform="rotate(-0 88.629559 235.674432)" textLength="5.93" lengthAdjust="spacingAndGlyphs">−10</text></g></g><g id="xtick_56"><g id="line2d_66"><path d="M 94.093008 227.50171 L 94.678342 227.536523 " style="fill: none; stroke: #333333; stroke-width: 0.4; stroke-linecap: square"/></g><g id="text_56"><text style="stroke: #333333; stroke-width: 0.216; font-size: 2.97648px; font-family: 'Liberation Sans'; text-anchor: middle; fill: #333333" x="98.063273" y="234.977528" transform="rotate(-0 98.063273 234.977528)" textLength="1.79" lengthAdjust="spacingAndGlyphs">0</text></g></g><g id="xtick_57"><g id="line2d_67"><path d="M 103.233035 226.915081 L 103.817548 226.948804 " style="fill: none; stroke: #333333; stroke-width: 0.4; stroke-linecap: square"/></g><g id="text_57"><text style="stroke: #333333; stroke-width: 0.216; font-size: 2.97648px; font-family: 'Liberation Sans'; text-anchor: middle; fill: #333333" x="107.197328" y="234.30276" transform="rotate(-0 107.197328 234.30276)" textLength="3.57" lengthAdjust="spacingAndGlyphs">10</text></g></g><g id="xtick_58"><g id="line2d_68"><path d="M 112.089018 226.346682 L 112.672478 226.379365 " style="fill: none; stroke: #333333; stroke-width: 0.4; stroke-linecap: square"/></g><g id="text_58"><text style="stroke: #333333; stroke-width: 0.216; font-size: 2.97648px; font-family: 'Liberation Sans'; text-anchor: middle; fill: #333333" x="116.045779" y="233.649091" transform="rotate(-0 116.045779 233.649091)" textLength="3.57" lengthAdjust="spacingAndGlyphs">20</text></g></g></g><g id="axis3d_11"><g id="line2d_69"><path d="M 25.959006 226.139137 L 71.183545 229.047416 " style="fill: none; stroke: #555555; stroke-width: 0.6; stroke-linecap: square"/></g><g id="xtick_59"><g id="line2d_70"><path d="M 67.462744 228.733285 L 66.876565 228.770445 " style="fill: none; stroke: #333333; stroke-width: 0.4; stroke-linecap: square"/></g><g id="text_59"><text style="stroke: #333333; stroke-width: 0.216; font-size: 2.97648px; font-family: 'Liberation Sans'; text-anchor: middle; fill: #333333" x="63.485896" y="236.394582" transform="rotate(-0 63.485896 236.394582)" textLength="5.93" lengthAdjust="spacingAndGlyphs">−20</text></g></g><g id="xtick_60"><g id="line2d_71"><path d="M 57.712043 228.107461 L 57.126144 228.143419 " style="fill: none; stroke: #333333; stroke-width: 0.4; stroke-linecap: square"/></g><g id="text_60"><text style="stroke: #333333; stroke-width: 0.216; font-size: 2.97648px; font-family: 'Liberation Sans'; text-anchor: middle; fill: #333333" x="53.737532" y="235.674432" transform="rotate(-0 53.737532 235.674432)" textLength="5.93" lengthAdjust="spacingAndGlyphs">−10</text></g></g><g id="xtick_61"><g id="line2d_72"><path d="M 48.274083 227.50171 L 47.688748 227.536523 " style="fill: none; stroke: #333333; stroke-width: 0.4; stroke-linecap: square"/></g><g id="text_61"><text style="stroke: #333333; stroke-width: 0.216; font-size: 2.97648px; font-family: 'Liberation Sans'; text-anchor: middle; fill: #333333" x="44.303818" y="234.977528" transform="rotate(-0 44.303818 234.977528)" textLength="1.79" lengthAdjust="spacingAndGlyphs">0</text></g></g><g id="xtick_62"><g id="line2d_73"><path d="M 39.134055 226.915081 L 38.549542 226.948804 " style="fill: none; stroke: #333333; stroke-width: 0.4; stroke-linecap: square"/></g><g id="text_62"><text style="stroke: #333333; stroke-width: 0.216; font-size: 2.97648px; font-family: 'Liberation Sans'; text-anchor: middle; fill: #333333" x="35.169763" y="234.30276" transform="rotate(-0 35.169763 234.30276)" textLength="3.57" lengthAdjust="spacingAndGlyphs">10</text></g></g><g id="xtick_63"><g id="line2d_74"><path d="M 30.278072 226.346682 L 29.694613 226.379365 " style="fill: none; stroke: #333333; stroke-width: 0.4; stroke-linecap: square"/></g><g id="text_63"><text style="stroke: #333333; stroke-width: 0.216; font-size: 2.97648px; font-family: 'Liberation Sans'; text-anchor: middle; fill: #333333" x="26.321312" y="233.649091" transform="rotate(-0 26.321312 233.649091)" textLength="3.57" lengthAdjust="spacingAndGlyphs">20</text></g></g></g><g id="axis3d_12"><g id="line2d_75"><path d="M 25.959006 226.139137 L 25.95438 155.57802 " style="fill: none; stroke: #555555; stroke-width: 0.6; stroke-linecap: square"/></g><g id="xtick_64"><g id="line2d_76"><path d="M 26.541666 221.792852 L 25.958723 221.821211 " style="fill: none; stroke: #333333; stroke-width: 0.4; stroke-linecap: square"/></g><g id="text_64"><text style="stroke: #333333; stroke-width: 0.216; font-size: 2.97648px; font-family: 'Liberation Sans'; text-anchor: middle; fill: #333333" x="21.592491" y="223.978229" transform="rotate(-0 21.592491 223.978229)" textLength="1.79" lengthAdjust="spacingAndGlyphs">0</text></g></g><g id="xtick_65"><g id="line2d_77"><path d="M 26.540742 207.522976 L 25.957786 207.538472 " style="fill: none; stroke: #333333; stroke-width: 0.4; stroke-linecap: square"/></g><g id="text_65"><text style="stroke: #333333; stroke-width: 0.216; font-size: 2.97648px; font-family: 'Liberation Sans'; text-anchor: middle; fill: #333333" x="21.591464" y="209.695489" transform="rotate(-0 21.591464 209.695489)" textLength="7.15" lengthAdjust="spacingAndGlyphs">1000</text></g></g><g id="xtick_66"><g id="line2d_78"><path d="M 26.539819 193.25251 L 25.95685 193.25514 " style="fill: none; stroke: #333333; stroke-width: 0.4; stroke-linecap: square"/></g><g id="text_66"><text style="stroke: #333333; stroke-width: 0.216; font-size: 2.97648px; font-family: 'Liberation Sans'; text-anchor: middle; fill: #333333" x="21.590437" y="195.412158" transform="rotate(-0 21.590437 195.412158)" textLength="7.15" lengthAdjust="spacingAndGlyphs">2000</text></g></g><g id="xtick_67"><g id="line2d_79"><path d="M 26.538895 178.981454 L 25.955913 178.971218 " style="fill: none; stroke: #333333; stroke-width: 0.4; stroke-linecap: square"/></g><g id="text_67"><text style="stroke: #333333; stroke-width: 0.216; font-size: 2.97648px; font-family: 'Liberation Sans'; text-anchor: middle; fill: #333333" x="21.589411" y="181.128235" transform="rotate(-0 21.589411 181.128235)" textLength="7.15" lengthAdjust="spacingAndGlyphs">3000</text></g></g><g id="xtick_68"><g id="line2d_80"><path d="M 26.537971 164.709806 L 25.954977 164.686703 " style="fill: none; stroke: #333333; stroke-width: 0.4; stroke-linecap: square"/></g><g id="text_68"><text style="stroke: #333333; stroke-width: 0.216; font-size: 2.97648px; font-family: 'Liberation Sans'; text-anchor: middle; fill: #333333" x="21.588384" y="166.843721" transform="rotate(-0 21.588384 166.843721)" textLength="7.15" lengthAdjust="spacingAndGlyphs">4000</text></g></g></g><g id="axes_4"/><g id="patch_18"><path d="M 150.169968 248.139288 L 261.64728 248.139288 L 261.64728 136.661976 L 150.169968 136.661976 z " style="fill: #ffffff"/></g><g id="pane3d_13"><g id="patch_19"><path d="M 252.568506 226.355332 L 207.415074 223.846683 L 207.415074 157.865211 L 252.573144 155.429389 " style="fill: #f2f2f2; opacity: 0.5; stroke: #f2f2f2; stroke-linejoin: miter"/></g></g><g id="pane3d_14"><g id="patch_20"><path d="M 162.261643 226.355332 L 207.415074 223.846683 L 207.415074 157.865211 L 162.257004 155.429389 " style="fill: #e6e6e6; opacity: 0.5; stroke: #e6e6e6; stroke-linejoin: miter"/></g></g><g id="pane3d_15"><g id="patch_21"><path d="M 207.415074 229.270399 L 252.568506 226.355332 L 207.415074 223.846683 L 162.261643 226.355332 " style="fill: #ececec; opacity: 0.5; stroke: #ececec; stroke-linejoin: miter"/></g></g><g id="grid3d_13"><g id="Line3DCollection_13"><path d="M 208.9781 229.169491 L 163.816194 226.268964 L 163.811726 155.51325 " style="fill: none; stroke: #b8b8b8; stroke-width: 0.45"/><path d="M 216.457219 228.686646 L 171.263137 225.855224 L 171.259475 155.914981 " style="fill: none; stroke: #b8b8b8; stroke-width: 0.45"/><path d="M 223.752483 228.21567 L 178.540389 225.450912 L 178.537498 156.307557 " style="fill: none; stroke: #b8b8b8; stroke-width: 0.45"/><path d="M 230.870592 227.756131 L 185.653687 225.055709 L 185.651532 156.691287 " style="fill: none; stroke: #b8b8b8; stroke-width: 0.45"/><path d="M 237.817918 227.307617 L 192.608507 224.669311 L 192.607058 157.066468 " style="fill: none; stroke: #b8b8b8; stroke-width: 0.45"/><path d="M 244.600537 226.869737 L 199.410089 224.291427 L 199.409314 157.433381 " style="fill: none; stroke: #b8b8b8; stroke-width: 0.45"/><path d="M 251.224237 226.442117 L 206.063442 223.921778 L 206.063313 157.792297 " style="fill: none; stroke: #b8b8b8; stroke-width: 0.45"/></g></g><g id="grid3d_14"><g id="Line3DCollection_14"><path d="M 251.018422 155.51325 L 251.013955 226.268964 L 205.852049 229.169491 " style="fill: none; stroke: #b8b8b8; stroke-width: 0.45"/><path d="M 243.570674 155.914981 L 243.567012 225.855224 L 198.37293 228.686646 " style="fill: none; stroke: #b8b8b8; stroke-width: 0.45"/><path d="M 236.29265 156.307557 L 236.289759 225.450912 L 191.077665 228.21567 " style="fill: none; stroke: #b8b8b8; stroke-width: 0.45"/><path d="M 229.178616 156.691287 L 229.176462 225.055709 L 183.959557 227.756131 " style="fill: none; stroke: #b8b8b8; stroke-width: 0.45"/><path d="M 222.223091 157.066468 L 222.221641 224.669311 L 177.01223 227.307617 " style="fill: none; stroke: #b8b8b8; stroke-width: 0.45"/><path d="M 215.420834 157.433381 L 215.420059 224.291427 L 170.229611 226.869737 " style="fill: none; stroke: #b8b8b8; stroke-width: 0.45"/><path d="M 208.766836 157.792297 L 208.766706 223.921778 L 163.605911 226.442117 " style="fill: none; stroke: #b8b8b8; stroke-width: 0.45"/></g></g><g id="grid3d_15"><g id="Line3DCollection_15"><path d="M 162.261337 221.674669 L 207.415074 219.492295 L 252.568812 221.674669 " style="fill: none; stroke: #b8b8b8; stroke-width: 0.45"/><path d="M 162.260435 207.884467 L 207.415074 206.66339 L 252.569714 207.884467 " style="fill: none; stroke: #b8b8b8; stroke-width: 0.45"/><path d="M 162.259533 194.093715 L 207.415074 193.834008 L 252.570615 194.093715 " style="fill: none; stroke: #b8b8b8; stroke-width: 0.45"/><path d="M 162.258631 180.302412 L 207.415074 181.004149 L 252.571517 180.302412 " style="fill: none; stroke: #b8b8b8; stroke-width: 0.45"/><path d="M 162.257729 166.510558 L 207.415074 168.173814 L 252.572419 166.510558 " style="fill: none; stroke: #b8b8b8; stroke-width: 0.45"/></g></g><g id="axis3d_13"><g id="line2d_81"><path d="M 252.568506 226.355332 L 207.415074 229.270399 " style="fill: none; stroke: #555555; stroke-width: 0.6; stroke-linecap: square"/></g><g id="xtick_69"><g id="line2d_82"><path d="M 208.392939 229.131909 L 208.9781 229.169491 " style="fill: none; stroke: #333333; stroke-width: 0.4; stroke-linecap: square"/></g><g id="text_69"><text style="stroke: #333333; stroke-width: 0.216; font-size: 2.97648px; font-family: 'Liberation Sans'; text-anchor: middle; fill: #333333" x="212.359595" y="236.840971" transform="rotate(-0 212.359595 236.840971)" textLength="5.93" lengthAdjust="spacingAndGlyphs">−15</text></g></g><g id="xtick_70"><g id="line2d_83"><path d="M 215.872178 228.649993 L 216.457219 228.686646 " style="fill: none; stroke: #333333; stroke-width: 0.4; stroke-linecap: square"/></g><g id="text_70"><text style="stroke: #333333; stroke-width: 0.216; font-size: 2.97648px; font-family: 'Liberation Sans'; text-anchor: middle; fill: #333333" x="219.837684" y="236.286459" transform="rotate(-0 219.837684 236.286459)" textLength="5.93" lengthAdjust="spacingAndGlyphs">−10</text></g></g><g id="xtick_71"><g id="line2d_84"><path d="M 223.167735 228.179912 L 223.752483 228.21567 " style="fill: none; stroke: #333333; stroke-width: 0.4; stroke-linecap: square"/></g><g id="text_71"><text style="stroke: #333333; stroke-width: 0.216; font-size: 2.97648px; font-family: 'Liberation Sans'; text-anchor: middle; fill: #333333" x="227.130941" y="235.745653" transform="rotate(-0 227.130941 235.745653)" textLength="4.14" lengthAdjust="spacingAndGlyphs">−5</text></g></g><g id="xtick_72"><g id="line2d_85"><path d="M 230.286293 227.721236 L 230.870592 227.756131 " style="fill: none; stroke: #333333; stroke-width: 0.4; stroke-linecap: square"/></g><g id="text_72"><text style="stroke: #333333; stroke-width: 0.216; font-size: 2.97648px; font-family: 'Liberation Sans'; text-anchor: middle; fill: #333333" x="234.246137" y="235.21805" transform="rotate(-0 234.246137 235.21805)" textLength="1.79" lengthAdjust="spacingAndGlyphs">0</text></g></g><g id="xtick_73"><g id="line2d_86"><path d="M 237.234216 227.273554 L 237.817918 227.307617 " style="fill: none; stroke: #333333; stroke-width: 0.4; stroke-linecap: square"/></g><g id="text_73"><text style="stroke: #333333; stroke-width: 0.216; font-size: 2.97648px; font-family: 'Liberation Sans'; text-anchor: middle; fill: #333333" x="241.189714" y="234.703173" transform="rotate(-0 241.189714 234.703173)" textLength="1.79" lengthAdjust="spacingAndGlyphs">5</text></g></g><g id="xtick_74"><g id="line2d_87"><path d="M 244.017568 226.836476 L 244.600537 226.869737 " style="fill: none; stroke: #333333; stroke-width: 0.4; stroke-linecap: square"/></g><g id="text_74"><text style="stroke: #333333; stroke-width: 0.216; font-size: 2.97648px; font-family: 'Liberation Sans'; text-anchor: middle; fill: #333333" x="247.967806" y="234.200567" transform="rotate(-0 247.967806 234.200567)" textLength="3.57" lengthAdjust="spacingAndGlyphs">10</text></g></g><g id="xtick_75"><g id="line2d_88"><path d="M 250.642126 226.40963 L 251.224237 226.442117 " style="fill: none; stroke: #333333; stroke-width: 0.4; stroke-linecap: square"/></g><g id="text_75"><text style="stroke: #333333; stroke-width: 0.216; font-size: 2.97648px; font-family: 'Liberation Sans'; text-anchor: middle; fill: #333333" x="254.58626" y="233.709798" transform="rotate(-0 254.58626 233.709798)" textLength="3.57" lengthAdjust="spacingAndGlyphs">15</text></g></g></g><g id="axis3d_14"><g id="line2d_89"><path d="M 162.261643 226.355332 L 207.415074 229.270399 " style="fill: none; stroke: #555555; stroke-width: 0.6; stroke-linecap: square"/></g><g id="xtick_76"><g id="line2d_90"><path d="M 206.43721 229.131909 L 205.852049 229.169491 " style="fill: none; stroke: #333333; stroke-width: 0.4; stroke-linecap: square"/></g><g id="text_76"><text style="stroke: #333333; stroke-width: 0.216; font-size: 2.97648px; font-family: 'Liberation Sans'; text-anchor: middle; fill: #333333" x="202.470553" y="236.840971" transform="rotate(-0 202.470553 236.840971)" textLength="5.93" lengthAdjust="spacingAndGlyphs">−15</text></g></g><g id="xtick_77"><g id="line2d_91"><path d="M 198.95797 228.649993 L 198.37293 228.686646 " style="fill: none; stroke: #333333; stroke-width: 0.4; stroke-linecap: square"/></g><g id="text_77"><text style="stroke: #333333; stroke-width: 0.216; font-size: 2.97648px; font-family: 'Liberation Sans'; text-anchor: middle; fill: #333333" x="194.992465" y="236.286459" transform="rotate(-0 194.992465 236.286459)" textLength="5.93" lengthAdjust="spacingAndGlyphs">−10</text></g></g><g id="xtick_78"><g id="line2d_92"><path d="M 191.662413 228.179912 L 191.077665 228.21567 " style="fill: none; stroke: #333333; stroke-width: 0.4; stroke-linecap: square"/></g><g id="text_78"><text style="stroke: #333333; stroke-width: 0.216; font-size: 2.97648px; font-family: 'Liberation Sans'; text-anchor: middle; fill: #333333" x="187.699207" y="235.745653" transform="rotate(-0 187.699207 235.745653)" textLength="4.14" lengthAdjust="spacingAndGlyphs">−5</text></g></g><g id="xtick_79"><g id="line2d_93"><path d="M 184.543856 227.721236 L 183.959557 227.756131 " style="fill: none; stroke: #333333; stroke-width: 0.4; stroke-linecap: square"/></g><g id="text_79"><text style="stroke: #333333; stroke-width: 0.216; font-size: 2.97648px; font-family: 'Liberation Sans'; text-anchor: middle; fill: #333333" x="180.584011" y="235.21805" transform="rotate(-0 180.584011 235.21805)" textLength="1.79" lengthAdjust="spacingAndGlyphs">0</text></g></g><g id="xtick_80"><g id="line2d_94"><path d="M 177.595932 227.273554 L 177.01223 227.307617 " style="fill: none; stroke: #333333; stroke-width: 0.4; stroke-linecap: square"/></g><g id="text_80"><text style="stroke: #333333; stroke-width: 0.216; font-size: 2.97648px; font-family: 'Liberation Sans'; text-anchor: middle; fill: #333333" x="173.640434" y="234.703173" transform="rotate(-0 173.640434 234.703173)" textLength="1.79" lengthAdjust="spacingAndGlyphs">5</text></g></g><g id="xtick_81"><g id="line2d_95"><path d="M 170.812581 226.836476 L 170.229611 226.869737 " style="fill: none; stroke: #333333; stroke-width: 0.4; stroke-linecap: square"/></g><g id="text_81"><text style="stroke: #333333; stroke-width: 0.216; font-size: 2.97648px; font-family: 'Liberation Sans'; text-anchor: middle; fill: #333333" x="166.862342" y="234.200567" transform="rotate(-0 166.862342 234.200567)" textLength="3.57" lengthAdjust="spacingAndGlyphs">10</text></g></g><g id="xtick_82"><g id="line2d_96"><path d="M 164.188023 226.40963 L 163.605911 226.442117 " style="fill: none; stroke: #333333; stroke-width: 0.4; stroke-linecap: square"/></g><g id="text_82"><text style="stroke: #333333; stroke-width: 0.216; font-size: 2.97648px; font-family: 'Liberation Sans'; text-anchor: middle; fill: #333333" x="160.243888" y="233.709798" transform="rotate(-0 160.243888 233.709798)" textLength="3.57" lengthAdjust="spacingAndGlyphs">15</text></g></g></g><g id="axis3d_15"><g id="line2d_97"><path d="M 162.261643 226.355332 L 162.257004 155.429389 " style="fill: none; stroke: #555555; stroke-width: 0.6; stroke-linecap: square"/></g><g id="xtick_83"><g id="line2d_98"><path d="M 162.843261 221.646543 L 162.261337 221.674669 " style="fill: none; stroke: #333333; stroke-width: 0.4; stroke-linecap: square"/></g><g id="text_83"><text style="stroke: #333333; stroke-width: 0.216; font-size: 2.97648px; font-family: 'Liberation Sans'; text-anchor: middle; fill: #333333" x="157.906253" y="223.831687" transform="rotate(-0 157.906253 223.831687)" textLength="1.79" lengthAdjust="spacingAndGlyphs">0</text></g></g><g id="xtick_84"><g id="line2d_99"><path d="M 162.842371 207.868731 L 162.260435 207.884467 " style="fill: none; stroke: #333333; stroke-width: 0.4; stroke-linecap: square"/></g><g id="text_84"><text style="stroke: #333333; stroke-width: 0.216; font-size: 2.97648px; font-family: 'Liberation Sans'; text-anchor: middle; fill: #333333" x="157.905264" y="210.041485" transform="rotate(-0 157.905264 210.041485)" textLength="7.15" lengthAdjust="spacingAndGlyphs">1000</text></g></g><g id="xtick_85"><g id="line2d_100"><path d="M 162.841482 194.090368 L 162.259533 194.093715 " style="fill: none; stroke: #333333; stroke-width: 0.4; stroke-linecap: square"/></g><g id="text_85"><text style="stroke: #333333; stroke-width: 0.216; font-size: 2.97648px; font-family: 'Liberation Sans'; text-anchor: middle; fill: #333333" x="157.904276" y="196.250733" transform="rotate(-0 157.904276 196.250733)" textLength="7.15" lengthAdjust="spacingAndGlyphs">2000</text></g></g><g id="xtick_86"><g id="line2d_101"><path d="M 162.840592 180.311456 L 162.258631 180.302412 " style="fill: none; stroke: #333333; stroke-width: 0.4; stroke-linecap: square"/></g><g id="text_86"><text style="stroke: #333333; stroke-width: 0.216; font-size: 2.97648px; font-family: 'Liberation Sans'; text-anchor: middle; fill: #333333" x="157.903287" y="182.45943" transform="rotate(-0 157.903287 182.45943)" textLength="7.15" lengthAdjust="spacingAndGlyphs">3000</text></g></g><g id="xtick_87"><g id="line2d_102"><path d="M 162.839703 166.531993 L 162.257729 166.510558 " style="fill: none; stroke: #333333; stroke-width: 0.4; stroke-linecap: square"/></g><g id="text_87"><text style="stroke: #333333; stroke-width: 0.216; font-size: 2.97648px; font-family: 'Liberation Sans'; text-anchor: middle; fill: #333333" x="157.902298" y="168.667576" transform="rotate(-0 157.902298 168.667576)" textLength="7.15" lengthAdjust="spacingAndGlyphs">4000</text></g></g></g><g id="axes_5"/><g id="patch_22"><path d="M 286.418304 248.144328 L 397.991088 248.144328 L 397.991088 136.571544 L 286.418304 136.571544 z " style="fill: #ffffff"/></g><g id="pane3d_16"><g id="patch_23"><path d="M 388.957719 226.273904 L 343.712436 223.765091 L 343.712436 157.858698 L 388.962358 155.422855 " style="fill: #f2f2f2; opacity: 0.5; stroke: #f2f2f2; stroke-linejoin: miter"/></g></g><g id="pane3d_17"><g id="patch_24"><path d="M 298.467154 226.273904 L 343.712436 223.765091 L 343.712436 157.858698 L 298.462515 155.422855 " style="fill: #e6e6e6; opacity: 0.5; stroke: #e6e6e6; stroke-linejoin: miter"/></g></g><g id="pane3d_18"><g id="patch_25"><path d="M 343.712436 229.189679 L 388.957719 226.273904 L 343.712436 223.765091 L 298.467154 226.273904 " style="fill: #ececec; opacity: 0.5; stroke: #ececec; stroke-linejoin: miter"/></g></g><g id="grid3d_16"><g id="Line3DCollection_16"><path d="M 350.503137 228.752061 L 305.225344 225.899168 L 305.221439 155.786694 " style="fill: none; stroke: #b8b8b8; stroke-width: 0.45"/><path d="M 356.180424 228.386196 L 310.884226 225.585388 L 310.880925 156.091349 " style="fill: none; stroke: #b8b8b8; stroke-width: 0.45"/><path d="M 361.750625 228.027231 L 316.444157 225.277094 L 316.441439 156.390676 " style="fill: none; stroke: #b8b8b8; stroke-width: 0.45"/><path d="M 367.216744 227.674974 L 321.907708 224.974145 L 321.905554 156.684814 " style="fill: none; stroke: #b8b8b8; stroke-width: 0.45"/><path d="M 372.581669 227.329238 L 327.277365 224.676402 L 327.275755 156.973897 " style="fill: none; stroke: #b8b8b8; stroke-width: 0.45"/><path d="M 377.848186 226.989844 L 332.555528 224.383732 L 332.554444 157.258053 " style="fill: none; stroke: #b8b8b8; stroke-width: 0.45"/><path d="M 383.018977 226.656619 L 337.744514 224.096007 L 337.743939 157.537408 " style="fill: none; stroke: #b8b8b8; stroke-width: 0.45"/></g></g><g id="grid3d_17"><g id="Line3DCollection_17"><path d="M 382.203434 155.786694 L 382.199529 225.899168 L 336.921735 228.752061 " style="fill: none; stroke: #b8b8b8; stroke-width: 0.45"/><path d="M 376.543948 156.091349 L 376.540647 225.585388 L 331.244449 228.386196 " style="fill: none; stroke: #b8b8b8; stroke-width: 0.45"/><path d="M 370.983434 156.390676 L 370.980716 225.277094 L 325.674247 228.027231 " style="fill: none; stroke: #b8b8b8; stroke-width: 0.45"/><path d="M 365.519319 156.684814 L 365.517164 224.974145 L 320.208129 227.674974 " style="fill: none; stroke: #b8b8b8; stroke-width: 0.45"/><path d="M 360.149117 156.973897 L 360.147507 224.676402 L 314.843204 227.329238 " style="fill: none; stroke: #b8b8b8; stroke-width: 0.45"/><path d="M 354.870429 157.258053 L 354.869345 224.383732 L 309.576687 226.989844 " style="fill: none; stroke: #b8b8b8; stroke-width: 0.45"/><path d="M 349.680933 157.537408 L 349.680359 224.096007 L 304.405896 226.656619 " style="fill: none; stroke: #b8b8b8; stroke-width: 0.45"/></g></g><g id="grid3d_18"><g id="Line3DCollection_18"><path d="M 298.466859 221.775295 L 343.712436 219.580408 L 388.958014 221.775295 " style="fill: none; stroke: #b8b8b8; stroke-width: 0.45"/><path d="M 298.465924 207.501103 L 343.712436 206.302341 L 388.958948 207.501103 " style="fill: none; stroke: #b8b8b8; stroke-width: 0.45"/><path d="M 298.46499 193.226322 L 343.712436 193.023763 L 388.959883 193.226322 " style="fill: none; stroke: #b8b8b8; stroke-width: 0.45"/><path d="M 298.464055 178.950951 L 343.712436 179.744676 L 388.960817 178.950951 " style="fill: none; stroke: #b8b8b8; stroke-width: 0.45"/><path d="M 298.463121 164.67499 L 343.712436 166.465077 L 388.961752 164.67499 " style="fill: none; stroke: #b8b8b8; stroke-width: 0.45"/></g></g><g id="axis3d_16"><g id="line2d_103"><path d="M 388.957719 226.273904 L 343.712436 229.189679 " style="fill: none; stroke: #555555; stroke-width: 0.6; stroke-linecap: square"/></g><g id="xtick_88"><g id="line2d_104"><path d="M 349.916796 228.715117 L 350.503137 228.752061 " style="fill: none; stroke: #333333; stroke-width: 0.4; stroke-linecap: square"/></g><g id="text_88"><text style="stroke: #333333; stroke-width: 0.216; font-size: 2.97648px; font-family: 'Liberation Sans'; text-anchor: middle; fill: #333333" x="353.888332" y="236.363865" transform="rotate(-0 353.888332 236.363865)" textLength="5.93" lengthAdjust="spacingAndGlyphs">−15</text></g></g><g id="xtick_89"><g id="line2d_105"><path d="M 355.594254 228.349951 L 356.180424 228.386196 " style="fill: none; stroke: #333333; stroke-width: 0.4; stroke-linecap: square"/></g><g id="text_89"><text style="stroke: #333333; stroke-width: 0.216; font-size: 2.97648px; font-family: 'Liberation Sans'; text-anchor: middle; fill: #333333" x="359.56438" y="235.943772" transform="rotate(-0 359.56438 235.943772)" textLength="5.93" lengthAdjust="spacingAndGlyphs">−10</text></g></g><g id="xtick_90"><g id="line2d_106"><path d="M 361.164724 227.991667 L 361.750625 228.027231 " style="fill: none; stroke: #333333; stroke-width: 0.4; stroke-linecap: square"/></g><g id="text_90"><text style="stroke: #333333; stroke-width: 0.216; font-size: 2.97648px; font-family: 'Liberation Sans'; text-anchor: middle; fill: #333333" x="365.132784" y="235.531646" transform="rotate(-0 365.132784 235.531646)" textLength="4.14" lengthAdjust="spacingAndGlyphs">−5</text></g></g><g id="xtick_91"><g id="line2d_107"><path d="M 366.631203 227.640071 L 367.216744 227.674974 " style="fill: none; stroke: #333333; stroke-width: 0.4; stroke-linecap: square"/></g><g id="text_91"><text style="stroke: #333333; stroke-width: 0.216; font-size: 2.97648px; font-family: 'Liberation Sans'; text-anchor: middle; fill: #333333" x="370.596578" y="235.127263" transform="rotate(-0 370.596578 235.127263)" textLength="1.79" lengthAdjust="spacingAndGlyphs">0</text></g></g><g id="xtick_92"><g id="line2d_108"><path d="M 371.996577 227.294978 L 372.581669 227.329238 " style="fill: none; stroke: #333333; stroke-width: 0.4; stroke-linecap: square"/></g><g id="text_92"><text style="stroke: #333333; stroke-width: 0.216; font-size: 2.97648px; font-family: 'Liberation Sans'; text-anchor: middle; fill: #333333" x="375.958683" y="234.730405" transform="rotate(-0 375.958683 234.730405)" textLength="1.79" lengthAdjust="spacingAndGlyphs">5</text></g></g><g id="xtick_93"><g id="line2d_109"><path d="M 377.263623 226.956209 L 377.848186 226.989844 " style="fill: none; stroke: #333333; stroke-width: 0.4; stroke-linecap: square"/></g><g id="text_93"><text style="stroke: #333333; stroke-width: 0.216; font-size: 2.97648px; font-family: 'Liberation Sans'; text-anchor: middle; fill: #333333" x="381.22191" y="234.340865" transform="rotate(-0 381.22191 234.340865)" textLength="3.57" lengthAdjust="spacingAndGlyphs">10</text></g></g><g id="xtick_94"><g id="line2d_110"><path d="M 382.435022 226.623592 L 383.018977 226.656619 " style="fill: none; stroke: #333333; stroke-width: 0.4; stroke-linecap: square"/></g><g id="text_94"><text style="stroke: #333333; stroke-width: 0.216; font-size: 2.97648px; font-family: 'Liberation Sans'; text-anchor: middle; fill: #333333" x="386.388971" y="233.958443" transform="rotate(-0 386.388971 233.958443)" textLength="3.57" lengthAdjust="spacingAndGlyphs">15</text></g></g></g><g id="axis3d_17"><g id="line2d_111"><path d="M 298.467154 226.273904 L 343.712436 229.189679 " style="fill: none; stroke: #555555; stroke-width: 0.6; stroke-linecap: square"/></g><g id="xtick_95"><g id="line2d_112"><path d="M 337.508076 228.715117 L 336.921735 228.752061 " style="fill: none; stroke: #333333; stroke-width: 0.4; stroke-linecap: square"/></g><g id="text_95"><text style="stroke: #333333; stroke-width: 0.216; font-size: 2.97648px; font-family: 'Liberation Sans'; text-anchor: middle; fill: #333333" x="333.536541" y="236.363865" transform="rotate(-0 333.536541 236.363865)" textLength="5.93" lengthAdjust="spacingAndGlyphs">−15</text></g></g><g id="xtick_96"><g id="line2d_113"><path d="M 331.830619 228.349951 L 331.244449 228.386196 " style="fill: none; stroke: #333333; stroke-width: 0.4; stroke-linecap: square"/></g><g id="text_96"><text style="stroke: #333333; stroke-width: 0.216; font-size: 2.97648px; font-family: 'Liberation Sans'; text-anchor: middle; fill: #333333" x="327.860493" y="235.943772" transform="rotate(-0 327.860493 235.943772)" textLength="5.93" lengthAdjust="spacingAndGlyphs">−10</text></g></g><g id="xtick_97"><g id="line2d_114"><path d="M 326.260149 227.991667 L 325.674247 228.027231 " style="fill: none; stroke: #333333; stroke-width: 0.4; stroke-linecap: square"/></g><g id="text_97"><text style="stroke: #333333; stroke-width: 0.216; font-size: 2.97648px; font-family: 'Liberation Sans'; text-anchor: middle; fill: #333333" x="322.292088" y="235.531646" transform="rotate(-0 322.292088 235.531646)" textLength="4.14" lengthAdjust="spacingAndGlyphs">−5</text></g></g><g id="xtick_98"><g id="line2d_115"><path d="M 320.793669 227.640071 L 320.208129 227.674974 " style="fill: none; stroke: #333333; stroke-width: 0.4; stroke-linecap: square"/></g><g id="text_98"><text style="stroke: #333333; stroke-width: 0.216; font-size: 2.97648px; font-family: 'Liberation Sans'; text-anchor: middle; fill: #333333" x="316.828294" y="235.127263" transform="rotate(-0 316.828294 235.127263)" textLength="1.79" lengthAdjust="spacingAndGlyphs">0</text></g></g><g id="xtick_99"><g id="line2d_116"><path d="M 315.428296 227.294978 L 314.843204 227.329238 " style="fill: none; stroke: #333333; stroke-width: 0.4; stroke-linecap: square"/></g><g id="text_99"><text style="stroke: #333333; stroke-width: 0.216; font-size: 2.97648px; font-family: 'Liberation Sans'; text-anchor: middle; fill: #333333" x="311.46619" y="234.730405" transform="rotate(-0 311.46619 234.730405)" textLength="1.79" lengthAdjust="spacingAndGlyphs">5</text></g></g><g id="xtick_100"><g id="line2d_117"><path d="M 310.161249 226.956209 L 309.576687 226.989844 " style="fill: none; stroke: #333333; stroke-width: 0.4; stroke-linecap: square"/></g><g id="text_100"><text style="stroke: #333333; stroke-width: 0.216; font-size: 2.97648px; font-family: 'Liberation Sans'; text-anchor: middle; fill: #333333" x="306.202962" y="234.340865" transform="rotate(-0 306.202962 234.340865)" textLength="3.57" lengthAdjust="spacingAndGlyphs">10</text></g></g><g id="xtick_101"><g id="line2d_118"><path d="M 304.989851 226.623592 L 304.405896 226.656619 " style="fill: none; stroke: #333333; stroke-width: 0.4; stroke-linecap: square"/></g><g id="text_101"><text style="stroke: #333333; stroke-width: 0.216; font-size: 2.97648px; font-family: 'Liberation Sans'; text-anchor: middle; fill: #333333" x="301.035902" y="233.958443" transform="rotate(-0 301.035902 233.958443)" textLength="3.57" lengthAdjust="spacingAndGlyphs">15</text></g></g></g><g id="axis3d_18"><g id="line2d_119"><path d="M 298.467154 226.273904 L 298.462515 155.422855 " style="fill: none; stroke: #555555; stroke-width: 0.6; stroke-linecap: square"/></g><g id="xtick_102"><g id="line2d_120"><path d="M 299.050014 221.747005 L 298.466859 221.775295 " style="fill: none; stroke: #333333; stroke-width: 0.4; stroke-linecap: square"/></g><g id="text_102"><text style="stroke: #333333; stroke-width: 0.216; font-size: 2.97648px; font-family: 'Liberation Sans'; text-anchor: middle; fill: #333333" x="294.106652" y="223.932312" transform="rotate(-0 294.106652 223.932312)" textLength="1.79" lengthAdjust="spacingAndGlyphs">0</text></g></g><g id="xtick_103"><g id="line2d_121"><path d="M 299.049092 207.485653 L 298.465924 207.501103 " style="fill: none; stroke: #333333; stroke-width: 0.4; stroke-linecap: square"/></g><g id="text_103"><text style="stroke: #333333; stroke-width: 0.216; font-size: 2.97648px; font-family: 'Liberation Sans'; text-anchor: middle; fill: #333333" x="294.105627" y="209.658121" transform="rotate(-0 294.105627 209.658121)" textLength="7.15" lengthAdjust="spacingAndGlyphs">1000</text></g></g><g id="xtick_104"><g id="line2d_122"><path d="M 299.048171 193.223711 L 298.46499 193.226322 " style="fill: none; stroke: #333333; stroke-width: 0.4; stroke-linecap: square"/></g><g id="text_104"><text style="stroke: #333333; stroke-width: 0.216; font-size: 2.97648px; font-family: 'Liberation Sans'; text-anchor: middle; fill: #333333" x="294.104603" y="195.38334" transform="rotate(-0 294.104603 195.38334)" textLength="7.15" lengthAdjust="spacingAndGlyphs">2000</text></g></g><g id="xtick_105"><g id="line2d_123"><path d="M 299.047249 178.961181 L 298.464055 178.950951 " style="fill: none; stroke: #333333; stroke-width: 0.4; stroke-linecap: square"/></g><g id="text_105"><text style="stroke: #333333; stroke-width: 0.216; font-size: 2.97648px; font-family: 'Liberation Sans'; text-anchor: middle; fill: #333333" x="294.103578" y="181.107969" transform="rotate(-0 294.103578 181.107969)" textLength="7.15" lengthAdjust="spacingAndGlyphs">3000</text></g></g><g id="xtick_106"><g id="line2d_124"><path d="M 299.046327 164.698062 L 298.463121 164.67499 " style="fill: none; stroke: #333333; stroke-width: 0.4; stroke-linecap: square"/></g><g id="text_106"><text style="stroke: #333333; stroke-width: 0.216; font-size: 2.97648px; font-family: 'Liberation Sans'; text-anchor: middle; fill: #333333" x="294.102553" y="166.832008" transform="rotate(-0 294.102553 166.832008)" textLength="7.15" lengthAdjust="spacingAndGlyphs">4000</text></g></g></g><g id="axes_6"/><g id="text_107"><text style="stroke: #222222; stroke-width: 0.216; font-size: 4.88448px; font-family: 'Liberation Sans'; text-anchor: middle; fill: #222222" x="72.684" y="5.472" transform="rotate(-0 72.684 5.472)" textLength="10.53" lengthAdjust="spacingAndGlyphs">April</text></g><g id="text_108"><text style="stroke: #222222; stroke-width: 0.216; font-size: 4.73184px; font-family: 'Liberation Sans'; text-anchor: middle; fill: #222222" x="10.944376" y="68.616" transform="rotate(-270 10.944376 68.616)" textLength="10.92" lengthAdjust="spacingAndGlyphs">Time</text></g><g id="text_109"><text style="stroke: #222222; stroke-width: 0.216; font-size: 4.65552px; font-family: 'Liberation Sans'; text-anchor: middle; fill: #222222" x="39.957865" y="127.199986" transform="rotate(-331.3 39.957865 127.199986)" textLength="32.28" lengthAdjust="spacingAndGlyphs">Wind Direction</text></g><g id="text_110"><text style="stroke: #222222; stroke-width: 0.216; font-size: 4.65552px; font-family: 'Liberation Sans'; text-anchor: middle; fill: #222222" x="108.938135" y="127.271986" transform="rotate(-28.7 108.938135 127.271986)" textLength="26.20" lengthAdjust="spacingAndGlyphs">Wind Speed</text></g><g id="text_111"><text style="stroke: #222222; stroke-width: 0.216; font-size: 4.88448px; font-family: 'Liberation Sans'; text-anchor: middle; fill: #222222" x="201.78" y="6.408" transform="rotate(-0 201.78 6.408)" textLength="9.53" lengthAdjust="spacingAndGlyphs">May</text></g><g id="text_112"><text style="stroke: #222222; stroke-width: 0.216; font-size: 4.73184px; font-family: 'Liberation Sans'; text-anchor: middle; fill: #222222" x="139.212376" y="64.98" transform="rotate(-270 139.212376 64.98)" textLength="10.92" lengthAdjust="spacingAndGlyphs">Time</text></g><g id="text_113"><text style="stroke: #222222; stroke-width: 0.216; font-size: 4.65552px; font-family: 'Liberation Sans'; text-anchor: middle; fill: #222222" x="169.197865" y="127.703986" transform="rotate(-331.3 169.197865 127.703986)" textLength="32.28" lengthAdjust="spacingAndGlyphs">Wind Direction</text></g><g id="text_114"><text style="stroke: #222222; stroke-width: 0.216; font-size: 4.65552px; font-family: 'Liberation Sans'; text-anchor: middle; fill: #222222" x="237.746135" y="127.919986" transform="rotate(-28.7 237.746135 127.919986)" textLength="26.20" lengthAdjust="spacingAndGlyphs">Wind Speed</text></g><g id="text_115"><text style="stroke: #222222; stroke-width: 0.216; font-size: 4.88448px; font-family: 'Liberation Sans'; text-anchor: middle; fill: #222222" x="336.78" y="8.352" transform="rotate(-0 336.78 8.352)" textLength="10.04" lengthAdjust="spacingAndGlyphs">June</text></g><g id="text_116"><text style="stroke: #222222; stroke-width: 0.216; font-size: 4.73184px; font-family: 'Liberation Sans'; text-anchor: middle; fill: #222222" x="275.868376" y="69.084" transform="rotate(-270 275.868376 69.084)" textLength="10.92" lengthAdjust="spacingAndGlyphs">Time</text></g><g id="text_117"><text style="stroke: #222222; stroke-width: 0.216; font-size: 4.65552px; font-family: 'Liberation Sans'; text-anchor: middle; fill: #222222" x="304.197865" y="129.863986" transform="rotate(-331.3 304.197865 129.863986)" textLength="32.28" lengthAdjust="spacingAndGlyphs">Wind Direction</text></g><g id="text_118"><text style="stroke: #222222; stroke-width: 0.216; font-size: 4.65552px; font-family: 'Liberation Sans'; text-anchor: middle; fill: #222222" x="373.106135" y="129.935986" transform="rotate(-28.7 373.106135 129.935986)" textLength="26.20" lengthAdjust="spacingAndGlyphs">Wind Speed</text></g><g id="text_119"><text style="stroke: #222222; stroke-width: 0.216; font-size: 6.1056px; font-family: 'Liberation Sans'; text-anchor: middle; fill: #222222" x="69.624" y="151.92" transform="rotate(-0 69.624 151.92)" textLength="13.17" lengthAdjust="spacingAndGlyphs">April</text></g><g id="text_120"><text style="stroke: #222222; stroke-width: 0.216; font-size: 6.02928px; font-family: 'Liberation Sans'; text-anchor: middle; fill: #222222" x="9" y="192.431134" transform="rotate(-0 9 192.431134)" textLength="13.92" lengthAdjust="spacingAndGlyphs">Time</text></g><g id="text_121"><text style="stroke: #222222; stroke-width: 0.216; font-size: 6.02928px; font-family: 'Liberation Sans'; text-anchor: middle; fill: #222222" x="38.615684" y="244.124853" transform="rotate(-356.9 38.615684 244.124853)" textLength="41.80" lengthAdjust="spacingAndGlyphs">Wind Direction</text></g><g id="text_122"><text style="stroke: #222222; stroke-width: 0.216; font-size: 6.02928px; font-family: 'Liberation Sans'; text-anchor: middle; fill: #222222" x="104.207183" y="243.548226" transform="rotate(-3.5 104.207183 243.548226)" textLength="33.93" lengthAdjust="spacingAndGlyphs">Wind Speed</text></g><g id="text_123"><text style="stroke: #222222; stroke-width: 0.216; font-size: 6.1056px; font-family: 'Liberation Sans'; text-anchor: middle; fill: #222222" x="206.028" y="151.92" transform="rotate(-0 206.028 151.92)" textLength="11.91" lengthAdjust="spacingAndGlyphs">May</text></g><g id="text_124"><text style="stroke: #222222; stroke-width: 0.216; font-size: 6.02928px; font-family: 'Liberation Sans'; text-anchor: middle; fill: #222222" x="145.224" y="192.431134" transform="rotate(-0 145.224 192.431134)" textLength="13.92" lengthAdjust="spacingAndGlyphs">Time</text></g><g id="text_125"><text style="stroke: #222222; stroke-width: 0.216; font-size: 6.02928px; font-family: 'Liberation Sans'; text-anchor: middle; fill: #222222" x="174.587684" y="243.908853" transform="rotate(-356.9 174.587684 243.908853)" textLength="41.80" lengthAdjust="spacingAndGlyphs">Wind Direction</text></g><g id="text_126"><text style="stroke: #222222; stroke-width: 0.216; font-size: 6.02928px; font-family: 'Liberation Sans'; text-anchor: middle; fill: #222222" x="240.359183" y="243.332226" transform="rotate(-3.5 240.359183 243.332226)" textLength="33.93" lengthAdjust="spacingAndGlyphs">Wind Speed</text></g><g id="text_127"><text style="stroke: #222222; stroke-width: 0.216; font-size: 6.1056px; font-family: 'Liberation Sans'; text-anchor: middle; fill: #222222" x="342.108" y="151.92" transform="rotate(-0 342.108 151.92)" textLength="12.54" lengthAdjust="spacingAndGlyphs">June</text></g><g id="text_128"><text style="stroke: #222222; stroke-width: 0.216; font-size: 6.02928px; font-family: 'Liberation Sans'; text-anchor: middle; fill: #222222" x="281.52" y="192.431134" transform="rotate(-0 281.52 192.431134)" textLength="13.92" lengthAdjust="spacingAndGlyphs">Time</text></g><g id="text_129"><text style="stroke: #222222; stroke-width: 0.216; font-size: 6.02928px; font-family: 'Liberation Sans'; text-anchor: middle; fill: #222222" x="310.955684" y="243.908853" transform="rotate(-356.9 310.955684 243.908853)" textLength="41.80" lengthAdjust="spacingAndGlyphs">Wind Direction</text></g><g id="text_130"><text style="stroke: #222222; stroke-width: 0.216; font-size: 6.02928px; font-family: 'Liberation Sans'; text-anchor: middle; fill: #222222" x="376.655183" y="243.332226" transform="rotate(-3.5 376.655183 243.332226)" textLength="33.93" lengthAdjust="spacingAndGlyphs">Wind Speed</text></g></g><g transform="scale(0.72)"><path d="M36.1 314.1L99.1 311.3L161.8 314.1L99.1 317.7Z" fill="#d0d0d0"/><path d="M225.2 314.4L288.1 311.3L350.7 314.4L288.1 317.9Z" fill="#d0d0d0"/><path d="M414.5 314.4L477.8 311.3L540.2 314.4L477.8 317.4Z" fill="#d0d0d0"/><path d="M84 37 L88 32 L100 31 L108 33 L110 38 L104 42 L92 42 L85 41Z" fill="#b9dfb3" fill-opacity="0.6"/><path d="M77 56 L84 51 L92 50 L95 53 L88 58 L80 59Z" fill="#b9dfb3" fill-opacity="0.6"/><path d="M106 46 L112 46 L118 49 L117 53 L110 53Z" fill="#b9dfb3" fill-opacity="0.6"/><path d="M84 116 L90 113 L100 113 L102 118 L97 121 L86 121Z" fill="#b9dfb3" fill-opacity="0.6"/><path d="M90 126 L97 123 L106 122 L113 126 L113 132 L104 134 L94 131Z" fill="#b9dfb3" fill-opacity="0.6"/><path d="M262 40 L275 30 L290 30 L305 38 L300 48 L285 55 L270 58 L258 52 L255 45Z" fill="#b9dfb3" fill-opacity="0.6"/><path d="M255 140 L262 132 L300 112 L312 114 L305 122 L268 146 L258 146Z" fill="#b9dfb3" fill-opacity="0.6"/><path d="M455 35 L462 31 L472 33 L478 40 L480 47 L470 48 L458 45Z" fill="#b9dfb3" fill-opacity="0.6"/><path d="M432 52 L445 46 L468 46 L470 50 L455 56 L440 57Z" fill="#b9dfb3" fill-opacity="0.6"/><path d="M471 49 L480 48 L486 52 L480 55 L472 54Z" fill="#b9dfb3" fill-opacity="0.6"/><path d="M457 116 L464 114 L470 118 L470 128 L460 127Z" fill="#b9dfb3" fill-opacity="0.6"/><path d="M437 133 L450 128 L470 131 L480 136 L478 143 L465 146 L448 143 L438 139Z" fill="#b9dfb3" fill-opacity="0.6"/><path d="M91.8 37.7L91.5 39L99.4 39L98.2 37.7Z" fill="#d62728" fill-opacity="0.9"/><path d="M91.5 38.4L93.6 42L103.8 42L99.4 38.4Z" fill="#d62728" fill-opacity="0.9"/><path d="M93.6 41.4L96.4 44.9L107.6 44.9L103.8 41.4Z" fill="#d62728" fill-opacity="0.9"/><path d="M96.4 44.3L96.5 47.8L103 47.8L107.6 44.3Z" fill="#d62728" fill-opacity="0.9"/><path d="M96.5 47.2L98.4 52.2L103.3 52.2L103 47.2Z" fill="#d62728" fill-opacity="0.9"/><path d="M98.4 51.6L99.4 56.5L106 56.5L103.3 51.6Z" fill="#d62728" fill-opacity="0.9"/><path d="M99.4 55.9L98 60.9L104.5 60.9L106 55.9Z" fill="#d62728" fill-opacity="0.79"/><path d="M98 60.3L100 65.3L107.4 65.3L104.5 60.3Z" fill="#d62728" fill-opacity="0.68"/><path d="M100 64.7L101.3 69.7L108.5 69.7L107.4 64.7Z" fill="#d62728" fill-opacity="0.68"/><path d="M101.3 69.1L92.4 74L104.2 74L108.5 69.1Z" fill="#d62728" fill-opacity="0.79"/><path d="M92.4 73.4L90.8 76.9L100.8 76.9L104.2 73.4Z" fill="#d62728" fill-opacity="0.9"/><path d="M90.8 76.3L89.9 78.4L98.6 78.4L100.8 76.3Z" fill="#d62728" fill-opacity="0.9"/><path d="M89.9 77.8L90.6 81.7L97.8 81.7L98.6 77.8Z" fill="#d62728" fill-opacity="0.9"/><path d="M90.6 81.1L93.3 86.5L98.3 86.5L97.8 81.1Z" fill="#d62728" fill-opacity="0.9"/><path d="M93.3 85.9L96.1 91.3L101.9 91.3L98.3 85.9Z" fill="#d62728" fill-opacity="0.9"/><path d="M96.1 90.7L96.8 96.1L103.7 96.1L101.9 90.7Z" fill="#d62728" fill-opacity="0.9"/><path d="M96.8 95.5L97.6 100.9L104.5 100.9L103.7 95.5Z" fill="#d62728" fill-opacity="0.9"/><path d="M97.6 100.3L98.3 105.7L103.7 105.7L104.5 100.3Z" fill="#d62728" fill-opacity="0.9"/><path d="M98.3 105.1L98.7 110.6L103.4 110.6L103.7 105.1Z" fill="#d62728" fill-opacity="0.9"/><path d="M98.7 110L98.2 115.3L103.5 115.3L103.4 110Z" fill="#d62728" fill-opacity="0.9"/><path d="M98.2 114.7L99.7 120.2L103.3 120.2L103.5 114.7Z" fill="#d62728" fill-opacity="0.9"/><path d="M99.7 119.6L101.7 125L104.3 125L103.3 119.6Z" fill="#d62728" fill-opacity="0.86"/><path d="M101.7 124.4L102.6 128.3L104.4 128.3L104.3 124.4Z" fill="#d62728" fill-opacity="0.77"/><path d="M105.2 102.2h0M97.9 89.4h0M109.6 73.4h0M94.3 108.7h0M106.2 92.8h0M106 122.9h0M90.1 90.2h0M100.6 112.2h0M85.1 79.6h0M100.5 94.3h0M94.4 105.7h0M112.9 43.3h0M86.7 75.1h0M98.1 84.1h0M103.2 41.5h0M97.4 100.8h0M94.3 94.8h0M107 116.2h0M94.7 68.6h0M89.1 74.8h0M98.3 113.5h0M103.6 71.9h0M98.8 104.9h0M88 72.4h0M105.3 65.1h0M106.3 58.7h0M104.4 52.7h0M99 73h0M96 47.5h0M92.6 104.3h0M102.4 121.7h0M105.1 43.6h0M96.6 41.4h0M104 38.1h0M96.5 115.7h0M109.3 42.4h0M103.1 91.7h0M109.9 61.6h0M107.3 51h0M97.5 55.9h0M107.2 92.6h0M93.5 39.1h0M103.7 108.2h0M104.3 80.9h0M103.9 54.9h0M102.2 52.2h0M90.7 89.2h0M97.5 86.5h0M97.2 63.1h0M101.1 64.7h0M93.4 74.6h0M108.1 113.4h0M97.7 78.8h0M104.6 105.5h0M91.7 87.8h0M89.7 80.5h0M108.3 75.9h0M92.4 91.7h0M110.5 76h0M98.7 95.7h0M98.3 49.4h0M103.2 63.5h0M100.2 109.1h0M102.1 70.7h0M99.8 105.8h0M103.9 116.4h0M89.6 81.7h0M90.3 43.9h0M99.3 98.2h0M91.6 90.3h0M100.4 60.1h0M100.9 108h0M105.8 75.5h0M86.7 41.5h0M96 42.1h0M106.7 54.2h0M92.4 84.5h0M107.2 103.1h0M108.1 43.7h0M84.6 39.4h0M93.9 85.8h0M109.1 71.7h0M99.5 73.5h0M104.1 103.6h0M108.5 114.3h0M103.5 120.5h0M101.9 100h0M101.7 38.1h0M98.8 46.7h0M84.7 82.5h0M98.6 118.6h0M103 42.8h0M107.7 77.3h0M105.5 70.8h0M95.4 71.6h0M111.9 57.8h0M100.1 58h0M97.2 55.2h0M103 43.9h0M90.5 79.9h0M84.6 73.7h0M104.2 94.6h0M99.8 87.7h0M107.1 118.3h0M95.7 65.3h0M106.9 110.2h0M111 69.9h0M94.1 89.8h0M100.6 102.1h0M106.1 70.9h0M91.7 73.7h0M90.1 86.7h0M112.9 44.3h0M85.6 78.4h0M100.5 43.5h0M100.6 53.9h0M102 85.8h0M102.5 121.3h0M103 127.8h0M111.8 57.1h0M96.9 46.4h0M101.1 77.6h0M89.4 73.5h0M110.4 69.3h0M106 99.1h0M106.3 94.3h0M93.9 80.5h0M91.2 85.7h0M97.1 82h0M106.3 91.4h0M97.9 115.2h0M94.9 117.5h0M99.5 122.7h0M107.6 107.6h0M85.1 44h0M82.5 74h0M92.7 100.2h0M109 60.5h0M93 84.2h0M104.1 41.4h0M103.9 51.6h0M100.5 71.1h0M106.5 42.2h0M98.7 72.6h0M102.7 54.4h0M98.1 107.8h0M92.1 63.2h0M106.8 69.5h0M96.5 101.9h0M89 80.3h0M109.1 41.1h0M99.2 53.2h0M88.4 84.6h0M102.7 51.2h0M103.4 56h0M88.8 85.8h0M91.5 76.2h0M104.3 57.9h0M89.1 80.3h0M103.9 87h0M105.7 40.5h0M102.1 58.3h0M110.5 62h0M94.3 109.7h0M90.1 41.2h0M113.2 66.1h0M100.7 50.7h0M93.4 93.1h0M102.3 102.7h0M105.4 41.5h0M102.6 108h0M91 93.1h0M93.9 53.1h0M99.5 114h0M91.9 60.4h0M92.5 100.7h0M104 42.5h0M95.8 74.2h0M83.3 76.8h0M106.5 111.8h0M98.8 105.1h0M103.6 79.4h0M101.4 41.2h0M103.5 72.9h0M103.1 68.9h0M104.4 126.5h0M94.6 91.7h0M94.9 71.4h0M112.7 67.8h0M94.7 99.1h0M97.1 43.6h0M105.5 103.2h0M95.9 90.8h0M94.6 73.2h0M107.9 94.4h0M94.8 70.9h0M94.1 46.1h0M112.4 72.2h0M91.5 41.2h0M94.9 43.1h0M111.9 73.4h0M97.9 104h0M108.2 51.7h0M105.6 76.5h0M105.5 122.6h0M96.3 104.2h0M96.7 112.4h0M103.4 91.2h0M101.1 82.6h0M88.7 82h0M89.5 83.7h0M88.8 74.6h0M96.4 67.4h0M100.8 55.2h0M99.1 42h0M107.4 68.3h0M91.6 99.2h0M86.9 79.8h0M92.4 47.7h0M96.8 103h0M88.7 40.6h0M107.5 115.6h0M95.5 88.9h0M85.7 80h0M106 71.9h0M109.3 104h0M101.5 38.3h0M99.4 39h0M91.4 77.7h0M99.5 60.8h0M96.7 71.2h0M102 78.7h0M106.3 40.7h0M102.5 123.4h0M105.5 91.4h0M106 43.7h0M104.2 96.7h0M88.3 78.5h0M94.6 92.3h0M94.8 96.6h0M106.2 125.3h0M111.8 44.7h0M105.9 126.7h0M107.5 75.2h0M105.4 51.3h0M103.3 68.7h0M110.3 67.8h0M96.1 111.7h0M98.6 77.9h0M85 42h0" stroke="#d62728" stroke-width="2.0" style="stroke-linecap:round;stroke-opacity:0.3;fill:none"/><path d="M100.4 49.3h0M88.3 73.4h0M101.9 107.7h0M107.1 75.6h0M91.1 74.8h0M99.3 113.1h0M96.5 43.6h0M98.6 51.9h0M91.8 44.5h0M102.1 120h0M99.9 106.8h0M99.6 94.1h0M99 117.4h0M101.2 51.4h0M102.6 115.8h0M106.2 69.8h0M98.9 113.6h0" stroke="#d62728" stroke-width="3" style="stroke-linecap:round;stroke-opacity:0.6;fill:none"/><path d="M99.4 47.8h0M91.1 80.8h0M100.1 110.6h0M104.8 67.3h0M104.3 55.1h0M96.9 38h0M101.7 98.1h0M96.5 60.3h0M103.8 117.3h0M90.9 86.4h0M98.3 105.9h0M97 72.7h0M102.1 49h0M105.7 56.6h0M101.1 120.6h0M102.1 99.5h0M95 81.9h0M94 74.7h0M98.7 102.8h0M97.9 51.4h0M98.6 112.9h0M102 114.2h0M109.1 71.1h0M88.3 38.3h0M108.3 70.1h0M99.4 82.7h0M99.5 45.5h0M94.1 72h0M97.4 72.7h0M99.9 49.6h0M104.1 110.4h0M99.3 75.7h0M106.4 95.9h0M102.9 67.5h0M101.5 95.9h0M96.2 98.2h0M92.2 80.8h0M105.7 66.6h0M98.9 101h0M100 101.3h0M104.7 54.6h0M106.3 96.9h0M102.1 64.6h0M93.3 91.6h0M100 109h0M102 49.4h0M97 43.7h0M98.7 94.7h0M98.5 113h0M87.8 77.4h0M95.2 86.5h0M100.9 112.6h0M102 104.8h0M104.4 124.9h0M87.8 76.5h0M101.3 69.1h0M99.5 39.6h0M101.3 100.7h0M98.2 77.2h0M91.7 38h0M99.5 49.4h0M102.1 121h0M93.7 88h0M103.9 109.9h0M109.3 45h0M100.6 102.5h0M101.4 57.2h0M91.9 42h0M91.5 75.8h0M93.3 92.4h0" stroke="#d62728" stroke-width="4" style="stroke-linecap:round;stroke-opacity:0.6;fill:none"/><path d="M102.1 120.2h0M98.4 109.8h0M101.6 99.1h0M99.8 103.9h0M98 40.6h0M108.3 72.4h0M100.9 85.4h0M101.5 95.4h0M100.5 52.5h0M99.2 79.9h0M102.4 119.5h0M98.5 74.3h0M100.5 108.7h0M99.9 77h0M87.9 75.2h0M90.4 38.7h0M97.1 87.7h0M111.5 69.8h0M105.2 104.6h0M96.5 40h0M102 72.5h0M98.5 59.8h0M98.9 95h0M105.8 99.4h0M92.7 78.9h0M99.8 60.7h0M98.1 102.4h0M100.4 84.3h0M100.9 117.2h0M102.4 63.4h0M101.8 70.6h0M95.7 79.8h0M101.1 53.3h0M103.5 43.4h0M106.8 62.3h0M99.8 48.1h0M102.7 47.9h0M95.9 86.2h0M107.8 67.9h0M101.8 114h0M93.7 83.5h0M101.9 118h0M100.5 49.9h0M96.6 88.9h0M100.6 113.2h0M100.3 92.5h0M103.1 97.4h0M94.4 81h0M100.6 106.6h0M100.3 68.3h0M102.4 101.7h0M97.6 101.1h0M97.6 86.6h0M95.6 77.5h0M102 43.5h0M85.5 77.9h0M94.4 76.7h0M99.8 58.1h0M100.2 119h0M97.5 43.4h0M101 88.2h0M103 97.5h0M103.3 102.3h0M101.3 109.9h0M102.4 99.1h0M103.1 56h0M99 72.4h0" stroke="#d62728" stroke-width="5" style="stroke-linecap:round;stroke-opacity:0.6;fill:none"/><path d="M95.9 80.5h0M95.7 38.7h0M100.2 45.4h0M97 91.3h0M100.1 88.3h0M100.7 98.6h0M95.4 89.4h0M100.4 47.5h0M107.8 42.3h0M100.1 111.4h0M100.2 49.1h0M93.7 38.2h0M110 66h0M93.4 89.1h0M103.2 51.1h0M99.7 96.3h0M105.4 103.6h0M95.2 61.9h0M96.4 75.9h0M95.4 73.8h0M101.7 122.2h0M102.4 72.4h0M102.4 105.9h0M100.3 43.6h0M96.8 64.7h0M103.5 99.3h0M105 45.6h0M98.2 88.2h0M104.4 63.6h0M97.6 48.7h0M98.4 97.2h0M102.7 98.1h0M92.7 40.3h0M94.2 81.5h0M87.5 73.3h0M107 96h0M106.1 67.7h0M104.6 124.2h0M94.8 96.3h0M103.5 120.6h0M93.3 40.4h0M91 74.6h0M101.3 110.8h0M101.7 68.9h0M101.2 46.3h0M91.8 38h0M97.9 90.8h0M95.6 78.7h0M95 38h0M100.4 115.8h0M102.8 93.3h0" stroke="#d62728" stroke-width="6" style="stroke-linecap:round;stroke-opacity:0.6;fill:none"/><path d="M97.1 49h0M101.9 91h0M87.8 82.4h0M101.9 63.9h0M96.1 75.1h0M95 61.3h0M100.7 75.3h0M102.5 56h0M102 104.2h0M106.7 43.6h0M95.3 96.9h0M103.5 117.3h0M95 103.6h0M101.4 108h0M97.2 78.9h0" stroke="#d62728" stroke-width="7" style="stroke-linecap:round;stroke-opacity:0.6;fill:none"/><path d="M93.9 81.7h0M91.7 38.3h0M103.4 114.5h0M102.6 144.1h0M94.7 140.8h0M90.6 74.7h0M102.6 114.2h0M103.9 42h0M98.5 76.3h0M102.7 74.3h0M82.3 144.4h0M95.3 75.4h0M93.6 74.9h0M102.6 70.7h0M95.2 99.2h0M101 82.1h0M98.8 91.8h0M100.8 46.9h0M96.8 101.7h0M102.6 132.6h0M106.4 42.5h0M101.5 85.7h0M97 89.8h0M102.8 146.6h0M101.1 109.1h0M109.6 131.3h0M98 83.8h0M91.7 39h0M106.3 51.8h0M110.4 62.9h0M96.9 104.2h0M98.9 56.9h0M97.7 88.8h0M96.8 98.2h0M110.5 68.8h0M96.7 94.6h0M100.2 45.1h0M83.6 141.8h0M98.6 119.6h0M98.2 87.8h0M101.8 47h0M102.1 97.8h0M94.2 40.2h0M89.7 76.7h0M98.4 40.2h0M91.8 76.7h0M93.3 86.6h0M96.1 90h0M104.8 106.2h0M105 56.5h0M96.9 95.3h0M99 45.8h0M99.4 104.1h0M107.6 64.3h0M107.2 45.9h0M88.1 77.3h0M99.9 96.5h0M92 76.9h0M104.5 125.8h0M103.1 71.5h0M90.8 142h0M101.1 71.7h0M105.4 54.4h0M107.5 57.6h0M96.8 87.3h0M100.1 94.2h0M99.8 75.1h0M92.9 77h0M102.9 127h0M97.1 102.1h0M96.1 77.3h0M105.8 69.2h0M99.4 111.8h0M100.2 47.8h0M106.8 45.9h0M96.3 87.9h0M105.7 70.1h0M91.5 46.3h0M95.1 91.5h0M103.7 90.6h0M102.5 47.9h0M102.9 126.9h0M98 73.8h0M103.3 139.7h0M86.8 39.3h0M105.5 102.3h0M92.2 73.8h0M97.7 97.8h0M91.4 80.9h0M102.2 73.7h0M100.6 54h0M102.4 55.3h0M102.2 111.9h0M96.5 46.7h0M108.5 129.9h0M99 86.4h0M99.4 94.4h0M94.8 73.6h0M78.3 144.9h0M104 114.6h0M96.1 40.7h0M89.2 84.7h0M96.5 68.3h0M96.7 82.7h0M99.7 121.4h0M91.7 81.8h0M108.5 73.7h0M93.6 144.1h0M100.3 40.1h0M102.4 97.9h0M101.6 110.2h0M106.4 51h0M103 148.1h0M102.7 123.2h0M100.9 50.8h0M99.8 109.1h0M89.3 38.9h0M94.5 49.6h0M87.2 76.7h0M102.4 45.1h0M97.3 50.3h0M101.3 56.7h0M92.3 81h0M102.4 46h0M102.1 92.9h0M98.5 89.7h0M107.8 99.3h0M101.9 88.1h0M101.4 68.9h0M103.3 147.6h0M103 134h0M105.4 108.2h0M102.2 70.1h0M95.6 80.7h0M104 49.9h0M105.3 109.7h0M92 72.2h0M98.1 92.3h0M80.3 145.5h0M93.5 98.4h0M106.8 101.9h0M104.9 40.3h0M97.8 70.1h0M105.9 59.9h0M104.1 69.6h0M96.6 49.5h0M102.6 120.5h0M99.6 50.4h0M105 116.5h0M101 120.9h0M101.6 116.5h0M107.2 131.9h0M99 83.7h0M100.1 98.9h0M99.7 73.2h0M101.5 39.3h0M97.5 114.7h0M96.7 62.3h0M99.9 105.8h0M87.6 73.8h0M79.7 143.2h0M98.3 72.4h0M82.9 140.7h0M95.9 139.1h0M108.4 134h0M101.8 56.1h0M99.8 95.6h0M97.1 82.1h0M99.9 57.9h0M102.7 147.2h0M108.7 70.6h0M101.7 56.5h0M86.9 73.1h0M97.1 47.1h0M97.2 98.1h0M100.4 66.7h0M100 49.6h0M100.6 50.4h0M98.3 43.6h0M96.9 85.3h0M100.5 69.3h0M99.3 64.9h0M102 127.8h0M99.3 63.5h0M115.2 127.2h0M102.6 47.4h0M96.8 45.3h0M93.6 140.2h0M94.2 82.7h0M86.6 81.9h0M100.1 84.7h0M95.4 55.3h0M101.1 118h0M95.9 141.2h0M99 43.9h0M96.1 87.5h0M100.6 62.8h0M105 107.6h0M104 72.4h0M99.9 62.5h0M96.4 47.7h0M105.3 55.7h0M105 61.3h0M102.2 45.4h0M96.7 93.7h0M99.5 105.9h0M104.4 130.6h0M98 62.3h0M102 108.4h0M98.1 40.1h0M109.5 45.1h0M99.8 99.4h0M98.4 56.4h0M97.9 79.6h0M94.4 85.2h0M97.6 50.4h0M86.2 81.4h0M102.6 124.5h0M103.8 109.9h0M99.2 82.6h0M94.3 77.7h0M96.9 103.1h0M98.5 101.9h0M106.4 51h0M106.1 112.7h0M93.6 39.2h0M98.9 113.9h0M102 42.8h0M97.2 49.6h0M100.9 104h0M98.2 116.8h0M94.2 83.6h0M110.1 62.6h0M99.8 77.4h0M107.5 42h0M87.8 42.2h0M105.9 50.8h0M102.1 69.5h0M103.9 97.6h0M97.4 49.8h0M108.4 62.6h0M101.2 99.4h0M94.2 137.3h0M100.1 43.4h0M102.8 126.4h0M106.4 111.5h0M89.5 77.7h0M112.6 45.3h0M89.4 74.7h0M98.1 74.2h0M102.1 97.7h0M99.1 49.6h0" stroke="#d62728" stroke-width="2.2" style="stroke-linecap:round;stroke-opacity:0.5;fill:none"/><path d="M95.3 74h0M97.7 38.1h0M93.4 100.3h0M100.9 65.7h0M102.8 40.1h0M102.5 58.1h0M96.8 87.4h0M102.4 97.6h0M101.1 109.7h0M107.4 104.4h0M99.8 79h0M87.4 77.7h0M96.5 59.2h0M93.3 88.4h0M95.3 87.2h0M104.1 72.4h0M102.3 147.2h0M92.9 80.6h0M100.8 74.7h0M102.8 114.7h0M105.6 54.1h0M98.9 90.1h0M89.3 42h0M90.8 78.9h0M101.3 81.8h0M103.4 137.7h0M98.9 89.5h0M95.9 78.7h0M94.9 46.1h0M102.7 117.6h0M104 74.7h0M115.8 131h0M102 97.2h0M97.5 140.9h0M106.2 63.7h0M88.3 39.7h0M97.4 71.9h0M103.8 120.6h0M92.7 38.5h0M99.2 40.2h0M103.9 52.8h0M99.7 91.3h0M94.6 90.3h0M102.8 132.7h0M96.6 83.3h0M100.6 86.7h0M88.6 139.4h0M88.3 81.5h0M99.8 59.4h0M106.6 71h0M108.9 128.4h0M94 72.7h0M102.3 94.1h0M114.3 130.7h0M101.9 110h0M102.1 45.6h0M101.3 57.8h0M98.3 95.5h0M105.7 64.3h0M97.6 79.6h0M105.1 75.1h0M97.8 114.2h0M102.6 118h0M93.2 41.1h0M103 51.3h0M93.2 79.4h0M101.8 125.3h0M98.2 46.7h0M100.7 64.9h0M97.7 79.8h0M96.6 60.3h0M92.7 141.8h0M95.2 83.1h0M98.4 120.9h0M106.9 45.5h0M95.9 100.5h0M107.5 56.4h0M93.9 86.2h0M102.5 118.2h0M102.8 66.9h0M101 42.4h0M102.5 64.6h0M101.9 125.1h0M97.1 103.9h0M97.4 44.6h0M100.1 59.3h0M114.1 132h0M103 95.2h0M107 68.9h0M83.8 140h0M96.9 81h0M96 75.2h0M99.5 100.6h0M99.8 59.1h0M101.6 86.7h0M104.8 57.9h0M104.5 96.1h0M109.3 71.5h0M98.2 39.7h0M101.8 119.1h0M100.9 116.4h0M105.7 63.1h0M106.5 61.6h0M102.7 114h0M91.1 88h0M99.1 92.8h0M91.3 41.6h0M107.3 104.6h0M101.3 39.6h0M103.9 91.5h0M95 80.2h0M99.9 107.7h0M84.7 138h0M100.6 94.6h0M99 61.8h0M102.7 64.4h0M103.4 106h0M101.6 47.5h0M86.8 145.2h0M102.7 61.1h0M95.8 39.6h0M92 81.4h0M91.2 75.8h0M102.3 93.2h0M102.2 45.7h0M104 44.4h0M101.7 133.8h0M112.2 71.4h0M94.1 138.1h0M101.9 74.3h0M104.4 98.4h0M90.3 73.8h0M92.5 41.1h0M101.2 95.8h0M95.7 75.2h0M104.5 38.9h0M115.2 128.8h0M98.5 87.7h0M93.5 40.5h0M103.1 130.2h0M96.5 87.5h0M99.3 102.9h0M99.9 85.6h0M91.7 83.6h0M101.2 104.8h0M106 53.6h0M98 80.2h0M95.4 52.7h0M109 70.1h0M99.7 77.9h0M103.2 56.7h0M97 48.4h0M96.6 113.8h0M100.9 98.1h0M95.6 98.1h0M103 117.2h0M96.8 102h0M92.1 39.6h0M95.4 86.1h0M100.4 73.5h0M102.8 142h0M106.3 58.7h0M101.4 119.6h0M100.9 106.5h0M100.5 104.5h0M100.5 94.9h0M98.5 42.6h0M95.7 109.6h0M97.1 103.3h0M107.5 41.1h0M97.5 52.1h0M100.3 53.9h0M93.2 81.5h0M99.7 74.2h0M87.6 81.8h0M100.1 98.2h0M102.9 68.6h0M102.6 60.3h0M103 45.7h0M96.4 47.6h0M99.5 42.4h0M99.1 73.4h0M96.3 93.1h0M100.3 116.4h0M92.9 76.1h0M87.6 74.1h0M93.2 78.8h0M95.4 52.9h0M101.7 99.1h0M98.1 45.7h0M99.1 53.3h0M105.9 96.2h0M101.2 125.5h0M101.7 71.8h0M103.6 56h0M87.3 82.7h0M102.1 45.8h0M99.6 103.2h0M98.3 65.1h0M100.3 98.5h0M95.6 51.8h0M106.3 110.4h0M96.8 85.4h0M103 46.9h0M100.2 49.9h0M98.7 41.8h0M101.8 110.9h0M99.3 41.2h0M94.2 39.8h0M103.6 105.5h0M93.6 38.2h0M115 131.7h0M99.9 43.6h0M104.9 65h0M117.1 125.4h0M109.8 73.1h0M105 61.5h0M100.3 77.2h0M101.5 40.6h0M101.8 112.5h0M105.8 127.6h0M103.9 108.4h0M96.3 84h0M86.3 73.3h0M108.4 99.1h0M102.7 73.7h0M102.7 72.3h0M94.3 79.6h0M102.5 74.8h0M103.3 133.2h0M103.1 108.4h0M98.8 47.1h0M104.4 51.6h0M96.8 101.5h0M100.9 52.9h0M103.4 102h0M106.7 49.6h0M99.3 114.4h0M96.2 87.6h0M92.5 40.5h0M103.3 74.8h0M99.6 118.2h0M101 89.9h0M98.1 91.5h0M101.7 145.9h0M98.3 109.5h0M90.4 74.3h0M95.5 76.8h0M98.6 46.3h0M88 80.6h0M86.4 79h0" stroke="#d62728" stroke-width="2.2" style="stroke-linecap:round;stroke-opacity:0.5;fill:none"/><path d="M97.4 79.9h0M91.3 42.2h0M103.7 99.7h0M104.5 43.1h0M96.5 113.7h0M98.2 53.1h0M101.7 73.8h0M100.7 68.7h0M101.2 113.2h0M103.4 134.4h0M97.8 42.4h0M103.5 65.8h0M98.2 63.3h0M110.8 74h0M97.6 77.6h0M90.1 141.7h0M107.3 97.7h0M99.9 63.5h0M98.2 117h0M109.4 132.3h0M88.4 137.4h0M107.3 94.7h0M103.6 45.4h0M99.8 71.3h0M97.4 98.8h0M104.5 89.9h0M95.4 115.7h0M97.4 94.1h0M94.6 137.1h0M93.3 81.3h0M105.9 126.6h0M103.8 115.9h0M91.9 82h0M107 68.5h0M89.8 83.1h0M99.4 113.4h0M106.6 63.6h0M108.5 54.4h0M104.2 96.1h0M109.2 71.5h0M112.6 45.3h0M105 97h0M91.1 80.8h0M92.2 76.3h0M103.6 63.6h0M104.8 55h0M99.5 95.4h0M94.2 76h0M99.2 51.3h0M102.2 93.7h0M106.1 103.2h0M92.2 143.4h0M98.5 79.1h0M101.4 118.4h0M106.5 69.3h0M101.9 51.1h0M104 64.8h0M92.6 38.8h0M95.1 94.3h0M92.1 42.8h0M93.8 72.4h0M102.4 57.7h0M99.8 57.6h0M98 61.9h0M103.1 96.5h0M100.3 50.2h0M96.9 87.8h0M93.2 70.8h0M104.8 98.7h0M102.4 55.9h0M109.2 44.7h0M109.5 67.5h0M112.4 67h0M103 119.8h0M99.5 52.3h0M99.3 59.6h0M95.5 79.7h0M97.4 47.5h0M108.4 101.5h0M96.6 74.8h0M94.9 73.2h0M102.7 125.7h0M100.6 52.9h0M100.3 109.2h0M104.8 56.3h0M103.4 69.2h0M92.3 82.7h0M103.1 98h0M96.9 52.8h0M103.8 77.4h0M92.7 85.5h0M112.3 45.4h0M104.1 98.8h0M94.9 91.5h0M100.6 102.8h0M101.6 102.7h0M104.9 128.8h0M95.6 38.2h0M87.3 143.9h0M102.7 40.2h0M100 113.9h0M109.5 61.9h0M94.5 83.4h0M102.9 43.4h0M94 80.3h0M98.2 40.8h0M92.6 95.3h0M96.2 111.8h0M100.8 98.2h0M95.3 91.9h0M96.8 45.4h0M102.5 54.7h0M101.2 131.3h0M104.8 94.2h0M98.7 74.9h0M100 50.9h0M105.3 43.6h0M102.5 111h0M97 86.4h0M104.6 104.5h0M109.2 44.4h0M95 40.6h0M103.1 45.3h0M105 42.7h0M99.9 87.2h0M113.2 125.9h0M102.3 111.3h0M108.3 98.3h0M92.6 46.5h0M88.9 77.9h0M90.9 76.9h0M101.3 112.9h0M103 130.8h0M92.8 72.5h0M93 140.8h0M99 45.1h0M103.3 141.6h0M93.4 84.4h0M105.9 39.9h0M95.6 86.5h0M101.1 65.2h0M104.8 116.2h0M102.9 114.7h0M99.2 42.8h0M93.5 86.4h0M98.8 72.8h0M97.3 91.3h0M105.1 119.4h0M97.5 144.4h0M104.5 69h0M98.1 103.2h0M109.5 125.7h0M95.5 65.3h0M103 144.8h0M89.1 39.9h0M103.9 50.3h0M100.9 102h0M92.4 139.4h0M99.1 40.2h0M92.9 84.3h0M106.7 70.5h0M118.5 132.8h0M101.8 55.8h0M106.4 72.1h0M99.6 103.1h0M102.3 107.9h0M102.8 65.9h0M92.4 74.9h0M105.8 93.7h0M101.5 40.1h0M104.1 64.9h0M102.7 51.5h0M95.1 51.4h0M94.4 78.7h0M99.4 38.1h0M101.1 58h0M98 69.1h0M94.9 44.4h0M101.1 89.5h0M96.6 68.6h0M96.2 64.1h0M97.5 78.1h0M98 68.5h0M102.6 109.2h0M92.4 83.9h0M99.9 106.9h0M92.3 42.1h0M99.6 44.4h0M93.1 86.9h0M107.3 43.8h0M98.3 51.5h0M100.7 77.3h0M102.5 59.3h0M101.1 92.8h0M106 70h0M97.7 95.7h0M102.5 57.5h0M118.6 130.5h0M116.5 126.2h0M95.3 101.4h0M108.2 64.6h0M103.8 119.5h0M99.3 90.7h0M96.9 117.7h0M102 127.6h0M108.7 62.3h0M102 126.5h0M91.3 42.1h0M97.6 97.9h0M98.9 113.9h0M93 87.2h0M101.6 58.3h0M105.4 95.3h0M102 97.7h0M95.5 96.7h0M93.3 77.2h0M101.9 55.8h0M94.1 139.6h0M90.4 75.8h0M92.3 43.3h0M92.2 81.2h0M101.7 107h0M96.8 80.5h0M92.7 85.5h0M97.7 47.9h0M98.9 106.5h0M102.1 44.1h0M95.7 84.7h0M101.1 57.7h0M102.8 114.8h0M85.1 142.1h0M105.3 101.1h0M100.7 114.1h0M84.6 145.1h0M103.5 49.6h0M100.4 91.3h0M100.6 103.6h0M103.5 58.4h0M114.5 126.8h0M99.6 64h0M100 51h0M96.8 140.2h0M99 94.5h0M96.8 73.3h0M100 116.1h0M109.6 43.3h0M88.7 143.2h0M100.9 45h0M103.2 104.5h0M102.6 49.3h0M100.1 42h0" stroke="#d62728" stroke-width="2.2" style="stroke-linecap:round;stroke-opacity:0.5;fill:none"/><path d="M84 145.7h0M105.4 134.3h0M98 108.9h0M99.8 118.4h0M91 79.3h0M101.9 95.8h0M101.7 56.6h0M108.2 45.5h0M98.2 80.2h0M104.8 95.2h0M98.5 100.9h0M100.4 40.9h0M94.1 79.7h0M94.7 41.5h0M95 79.9h0M96.8 44.6h0M98.7 38.7h0M100 86.5h0M94.9 86.8h0M107.7 101.1h0M102.5 97.5h0M103.2 135.9h0M100.2 53.4h0M99.4 79.5h0M101.9 120.2h0M96.6 43h0M94.6 84.6h0M103.4 124.9h0M109.7 68.3h0M93.7 41.9h0M101.6 45.6h0M93.9 77.9h0M93 82.4h0M100.4 105h0M98.5 112.1h0M101.4 48.9h0M107.4 101.1h0M93.5 73.3h0M97.4 40.5h0M86.6 77.8h0M101.8 84h0M90.4 81.1h0M92.6 92.2h0M100.3 49.1h0M102 111.4h0M101.3 72.9h0M98.3 79.4h0M102.1 122.9h0M89.6 138h0M107.2 68.7h0M103 133.7h0M99.1 113.9h0M95 114.8h0M112 133h0M92.7 140h0M106 124.7h0M101.4 99.1h0M102.2 90.9h0M102.2 100.2h0M102.1 110.4h0M102.3 46.1h0M102.4 56.4h0M102.3 101.9h0M111.4 133.2h0M91.5 71.4h0M102.8 64.7h0M103.5 91.5h0M93.2 42.5h0M101.6 45h0M106.8 55.9h0M102.8 128h0M94.2 47.9h0M86.1 81.2h0M101.9 52.9h0M105.7 46.6h0M104 103.1h0M104.6 48.6h0M100.5 40.4h0M99.2 71.3h0M100.9 108.9h0M100.4 128.6h0M97.3 40.1h0M93.4 41.5h0M95.6 74.1h0M94.1 89.4h0M101 92.3h0M98.8 43.8h0M104.1 104.3h0M101.7 90.9h0M101.8 120.7h0M102.7 112.9h0M93.5 79.3h0M107 94.1h0M96.4 77.4h0M99.2 42.6h0M93.8 96.6h0M97.2 43.4h0M102.1 59.8h0M101.8 64.6h0M100.9 110.4h0M95.5 84.5h0M103.1 138.2h0M102.3 112h0M106.4 103.3h0M99.7 44.1h0M109.6 45.8h0M101.8 69.4h0M95.9 90.7h0M107 127.3h0M98.7 98.5h0M98.9 106.2h0M104.9 99.8h0M100.9 66.2h0M104.8 71.5h0M107 99.2h0M97.8 99.8h0M96.9 76.8h0M117.3 133.5h0M109.4 125.2h0M102.2 101.5h0M101 68.6h0M101.8 110.7h0M91.7 74.7h0M94.1 41.8h0M105.2 110.5h0M95 84.3h0M103 121.2h0M97.8 117.3h0M104.7 67.7h0M97.2 74.8h0M93.7 73.6h0M98.9 74.1h0M100.9 57.6h0M102.8 115.3h0M97.7 69.1h0M97.8 90.2h0M84.7 76.2h0M98.3 38.1h0M102.8 92h0M103.5 40.8h0M94.2 48.6h0M101.6 122.7h0M100 64.5h0M99.4 74h0M106 61.2h0M95.7 89.5h0M101.2 81.1h0M101.4 98h0M101 116.7h0M96.8 107.7h0M97.1 97.3h0M105 104.2h0M102.5 146h0M102 75.6h0M96.4 97h0M101.1 75.9h0M100.3 98.5h0M96 41.7h0M95.5 106h0M101.6 93.3h0M99.3 106.7h0M110 130.9h0M103.7 115.1h0M98 98.5h0M102.8 69.5h0M105.1 57.7h0M92.7 96.3h0M106.3 52.6h0M103 46.9h0M98.9 96h0M101.1 48.9h0M107 101.7h0M99.1 47.9h0M93.5 74.6h0M89.6 83h0M112.6 70.3h0M102.7 61.2h0M101.7 119.3h0M105.1 56.8h0M96.9 107.9h0M103.3 114.4h0M98.3 58.8h0M102.3 110.6h0M101.7 69.1h0M100.6 51.6h0M116.8 131.3h0M102.6 132.8h0M100.4 117.2h0M107.5 61.8h0M107.3 102.2h0M90.1 75.1h0M107.9 41.8h0M98.5 48.5h0M107.1 62.8h0M103.3 44.5h0M103.4 58.1h0M100.4 115.3h0M97.5 87.2h0M106.8 71.8h0M94.2 74.6h0M103.1 75.1h0M101.1 71.3h0M104.3 42.1h0M98.7 58.8h0M98.2 43.8h0M98.2 102.6h0M101.3 73h0M93.1 77.6h0M96.9 145.9h0M103.2 58.8h0M92.6 74.3h0M103.8 99h0M96.5 62.7h0M101.6 138h0M98.3 77.8h0M96.9 49.1h0M102.4 129.9h0M93.5 77.6h0M107.5 45h0M99.6 117.9h0M103.3 96.8h0M95.9 91.7h0M98.5 101.9h0M103.5 122.6h0M101.9 98.2h0M103.7 60.7h0M96.4 91.1h0M85.7 142.4h0M95.3 71.9h0M96.2 43h0M111.1 134.5h0M112.4 127h0M108 63.1h0M104.9 61.6h0M105.5 103.4h0M104.3 48.1h0M87.4 143.8h0M99.8 45.9h0M94.7 144.4h0M99.8 42.6h0M104.8 62.5h0M89.9 40h0M98.8 53.1h0M105.8 56h0M100.7 88.1h0M100.1 66.6h0M103 49.6h0M101.5 102.4h0M104.8 70.8h0M93.6 43.8h0M96.1 60.3h0" stroke="#d62728" stroke-width="2.2" style="stroke-linecap:round;stroke-opacity:0.5;fill:none"/><path d="M282.2 32.7L282 34.4L286.2 34.4L285.8 32.7Z" fill="#9467bd" fill-opacity="0.88"/><path d="M282 33.8L282.5 38.8L289.2 38.8L286.2 33.8Z" fill="#9467bd" fill-opacity="0.94"/><path d="M282.5 38.2L282.9 44L289.2 44L289.2 38.2Z" fill="#9467bd" fill-opacity="0.98"/><path d="M282.9 43.4L280.5 49.3L285 49.3L289.2 43.4Z" fill="#9467bd" fill-opacity="0.94"/><path d="M280.5 48.7L276.4 53.6L280.3 53.6L285 48.7Z" fill="#9467bd" fill-opacity="0.74"/><path d="M276.4 53L273.1 58.9L278.3 58.9L280.3 53Z" fill="#9467bd" fill-opacity="0.49"/><path d="M273.1 58.3L272.9 63.3L279.7 63.3L278.3 58.3Z" fill="#9467bd" fill-opacity="0.38"/><path d="M272.9 62.7L273.8 68.5L280.7 68.5L279.7 62.7Z" fill="#9467bd" fill-opacity="0.35"/><path d="M273.8 67.9L276 73.8L283.4 73.8L280.7 67.9Z" fill="#9467bd" fill-opacity="0.35"/><path d="M276 73.2L276 79L285.2 79L283.4 73.2Z" fill="#9467bd" fill-opacity="0.38"/><path d="M276 78.4L276.4 84.3L286.1 84.3L285.2 78.4Z" fill="#9467bd" fill-opacity="0.49"/><path d="M276.4 83.7L274.9 87.3L283.7 87.3L286.1 83.7Z" fill="#9467bd" fill-opacity="0.6"/><path d="M274.9 86.7L273.6 92.5L285 92.5L283.7 86.7Z" fill="#9467bd" fill-opacity="0.66"/><path d="M273.6 91.9L272.4 97.8L285.3 97.8L285 91.9Z" fill="#9467bd" fill-opacity="0.7"/><path d="M272.4 97.2L277.1 103L289.3 103L285.3 97.2Z" fill="#9467bd" fill-opacity="0.7"/><path d="M277.1 102.4L277.7 108.3L288.8 108.3L289.3 102.4Z" fill="#9467bd" fill-opacity="0.7"/><path d="M277.7 107.7L276.6 113.5L286.4 113.5L288.8 107.7Z" fill="#9467bd" fill-opacity="0.74"/><path d="M276.6 112.9L276.1 118.8L284.3 118.8L286.4 112.9Z" fill="#9467bd" fill-opacity="0.77"/><path d="M276.1 118.2L277.2 124L284 124L284.3 118.2Z" fill="#9467bd" fill-opacity="0.8"/><path d="M277.2 123.4L280.2 128.4L284.5 128.4L284 123.4Z" fill="#9467bd" fill-opacity="0.84"/><path d="M291.1 36.6h0M281.1 41.8h0M278.7 70.7h0M274.6 53.6h0M273.2 103.9h0M295.2 43.3h0M292.7 41.4h0M258.5 95.2h0M292.9 39.3h0M299 111.2h0M287.8 78.8h0M285.7 74.8h0M268.6 99h0M285.7 125.3h0M275.3 71.1h0M284.3 58.9h0M288.7 83.1h0M275.3 110.2h0M291.4 121.4h0M289.8 46.7h0M278.6 36.4h0M271.2 75.4h0M263.9 77.7h0M294.7 108.1h0M264.1 103.9h0M273.7 108.1h0M288.8 85.4h0M272.1 88.5h0M274.5 122.1h0M274.8 38h0M275.9 35.5h0M285.8 35h0M267.8 112.7h0M300.6 94.5h0M261.7 104.8h0M274.1 102.3h0M269.6 112.4h0M297.8 95.2h0M289.5 78.7h0M276.5 43h0M264 87.1h0M273 52h0M287.4 120.8h0M293.1 109.1h0M282.4 71.4h0M278.6 94.1h0M277.7 91.5h0M285.1 99.5h0M269.8 122.5h0M285.8 69.6h0M294.4 100h0M287.4 93.7h0M273.6 123.2h0M271.2 57.1h0M305.4 102h0M297.2 41.3h0M290.9 96h0M288 123.7h0M281.4 106.3h0M293.2 36.5h0M285.5 126.1h0M276 95.8h0M288.3 98.1h0M269 122.4h0M274.4 98.3h0M282.7 57.7h0M278.5 88.6h0M285.6 108.2h0M282.3 85.7h0M291.4 48.3h0M269.7 85.1h0M290.5 42.2h0M284.7 42h0M279.6 43.7h0M258.5 94h0M284.2 77.7h0M276.6 49.6h0M286.8 107.5h0M277.4 99.9h0M278 112.9h0M291.4 47.4h0M261.4 100.4h0M278.6 66.9h0M275.4 93.1h0M265.5 89.9h0M274.3 98.3h0M297 97.5h0M271.3 120.1h0M290.1 100.6h0M272.5 81.4h0M282.9 111.2h0M284.7 47.5h0M265.1 109.9h0M294.4 97.9h0M273.7 66.3h0M270.9 108.4h0M278.9 43.1h0M296.2 36.9h0M289.3 68.8h0M277.8 93.7h0M270.7 101h0M287.1 76.7h0M257.2 98h0M289.2 125.7h0M273.8 127.9h0M263.4 106.4h0M274.9 74.8h0M277.4 92h0M262.7 112.1h0M273.4 117.7h0M293.5 122.9h0M290.6 84.9h0M265 79.9h0M294.2 79.6h0M281 110.6h0M293.4 123.5h0M270.1 97.1h0M271.8 89.7h0M291.6 103h0M278.9 88h0M267.8 97.5h0M281.3 50.8h0M289.4 41.9h0M273.1 86.6h0M285.8 68h0M289.5 46.5h0M287.1 124.2h0M290.5 104.9h0M270.8 85h0M285.8 127h0M278 42.5h0M267.9 81.1h0M280.6 117.4h0M272.9 124.5h0M267.4 111.1h0M282.7 50.5h0M302.3 97.3h0M274.5 39.7h0M284.4 39.1h0M266.6 115.9h0M284.6 33.2h0M287.8 41.7h0M285.8 42.5h0M262.7 105.8h0M291.3 100.8h0M276.8 56.6h0M281.8 87h0M285 123h0M284.2 55.4h0M284.2 39.5h0M302.2 101.9h0M278 42.6h0M276.7 96.7h0M268.2 65.2h0M282.3 36.6h0M302.2 102.6h0M303.2 108.4h0M279.4 76.7h0M279.4 47.1h0M277.2 125.3h0M286.8 63.1h0M274.8 63.4h0M270 82.9h0M284.5 62h0M276.6 63.3h0M278.2 120.6h0M296.1 40.6h0M290.5 113.8h0M256 95.5h0M295.7 36.9h0M283.4 46.4h0M267.8 102.4h0M299 96.9h0M274.2 62.5h0M284.5 72.7h0M287.7 120.9h0M270.1 107.4h0M306 102.8h0M282.2 120.6h0M266.1 60.2h0M281.9 78.8h0M263.6 114.1h0M297.9 89.4h0M285.9 89.9h0M277.2 112.1h0M287.3 128h0M290 117.7h0M290.9 109.6h0M268.8 89.9h0M265 105.5h0M282.9 58.8h0M286.9 65h0M275.6 54h0M278 104h0M277.9 122.6h0M273.7 108.6h0M288.7 67.7h0M284.7 102.7h0M288.5 81.3h0M285.5 113.1h0M261.2 92.5h0M265.3 64.1h0M269.4 72.6h0M285.9 40.8h0M285.7 82.4h0M298.5 80h0M295.8 90.7h0M294.4 102.5h0M277 121h0M275.7 112.7h0M288.8 97.7h0M275.4 82.4h0M287.9 48.5h0M291.1 98.7h0M276.1 39.2h0M293.6 38.4h0M262.9 101.6h0M280 47.8h0M298.2 114.8h0M290.3 103.2h0M295.7 94.9h0M292.5 121.6h0M280.1 44.6h0M289.5 76.1h0M273.3 93.9h0M270 124.2h0M275.9 40.3h0M262.1 99.3h0M284.3 120.2h0M287.8 45.8h0M298.8 105.3h0M273.9 104.5h0M290.6 82.3h0M268 95.5h0M275.1 121.6h0M285.9 91.4h0M274.9 90.6h0M303.4 97.2h0M281.1 36.6h0M271.7 112.2h0M295.3 38.2h0M289.6 125.5h0M273 124.7h0M275.4 112.8h0M280.6 118.3h0M260 100.1h0M276 75.4h0M293.6 99.4h0M295.6 103.8h0M277.2 45.5h0" stroke="#9467bd" stroke-width="2.0" style="stroke-linecap:round;stroke-opacity:0.3;fill:none"/><path d="M288.3 105.3h0M292.5 108h0M285.7 111.4h0M279.2 55.1h0M272.9 60.2h0M285.9 45.3h0M286.8 47.2h0M276.3 102.9h0M284.3 81.3h0M263.6 94.7h0M272.3 67.7h0M264.4 98.5h0M282.9 97.3h0M278.5 38.9h0M276.1 87.9h0M288.8 111.2h0M278.7 123.7h0M278 84.6h0M281.6 84.4h0M290.7 76.6h0M283.1 36.4h0M284.8 39.7h0M277.3 124.6h0M281.1 84.9h0M274.3 75.5h0M280.8 53.2h0M284.4 116.6h0M279 35.5h0M283 35.8h0M276.1 124h0M274.7 91.8h0" stroke="#9467bd" stroke-width="3" style="stroke-linecap:round;stroke-opacity:0.38;fill:none"/><path d="M288.2 44.6h0M293.1 43.3h0M275.2 110.4h0M270.8 105.4h0M276.4 91.3h0M275 107.8h0M273.1 90.2h0M282.9 87.3h0M290.3 43.3h0M278.7 77.9h0M286.5 123h0M271.2 98.4h0M277.2 47.4h0M271.5 94.4h0M288.6 115.1h0M278.9 113.5h0M289.8 98.8h0M274.2 68.4h0M275 123.7h0M277.2 54.9h0M295.1 105.1h0M280 108.3h0M289.7 38.9h0M276.9 116.8h0M270.3 92.1h0M278.6 113.2h0M272.3 115.3h0M290.1 42.7h0M282.9 95.1h0M277.6 90.5h0M287.6 40.4h0M276.9 109.1h0M283.7 45h0M284.4 49.4h0M279.6 48.8h0M288.5 82.4h0M269.6 118.4h0M277 115.6h0M282.3 96.7h0M289.9 47.7h0M278.8 94.1h0M283.3 122.3h0M285.8 75.9h0M285 123.8h0M283.6 41.5h0M281.9 110.4h0M275.5 70.9h0M281.4 41.3h0M286 44.6h0M280.7 111.9h0M279.5 116.5h0M265.7 90.6h0M286.4 101.7h0M293 98.3h0M285.2 49.9h0M281 96.9h0M273.1 118.8h0M289.4 41.3h0M283.7 123.7h0M292.4 44.3h0M283.5 86.1h0M286.8 33.4h0M281.4 121.8h0M289.6 37.7h0M282.1 125h0M278.6 51.8h0M281.2 125.6h0M285.2 91.9h0M282.6 118.5h0M289.2 82.3h0M277.3 81.6h0M281.3 113.7h0M287.2 43.2h0M277.1 108.6h0M273.2 104.5h0" stroke="#9467bd" stroke-width="4" style="stroke-linecap:round;stroke-opacity:0.38;fill:none"/><path d="M274.3 68h0M270 100h0M276.4 95.3h0M284.2 84.5h0M286.6 34.2h0M278.9 78.7h0M279.9 105.8h0M279.6 93.6h0M272.6 62.6h0M274.5 57.7h0M277 115.3h0M287.1 99.5h0M280 33.9h0M288.6 104.6h0M282.6 43.8h0M285.9 85.9h0M293.3 97h0M276.2 92.1h0M286 35h0M276.4 65.6h0M274.3 57.1h0M282.2 45.6h0M279.3 69.2h0M272.5 98.1h0M276.1 122.5h0M295.4 110h0M284 120.1h0M294.9 95.8h0M280.9 99h0M279.1 78.8h0M284.4 36.5h0M283.3 71.9h0M280.2 119.6h0M285.4 105.1h0M282.9 106.1h0M285.9 89.8h0M281.2 105.4h0M276.7 102.4h0M285.9 110.3h0M280 128.1h0M278.6 74.9h0M269.8 98.4h0M266.6 99.2h0M297.6 100.7h0M281.6 98.9h0M291.1 103.5h0M272.6 118h0M290.5 95.8h0M279.9 37.1h0M288.6 37.2h0M283.5 35h0M285.1 105.5h0M280.8 71.3h0M285.3 124.8h0M289.8 112.8h0M281.6 111.1h0M286.1 85.6h0M283.6 34.2h0M281.5 68.6h0M271.9 72.5h0M285 37.3h0M272 97.1h0M283.2 80.6h0M279.1 86.3h0M280.4 108.9h0M283.4 120.1h0M292.9 105.1h0M285.3 91.8h0M289.2 105.9h0M284.7 125.6h0M273.4 110.3h0M284.8 49.6h0M282.6 121h0M273.4 111.5h0M280.4 92.3h0M285.3 97.8h0M282 112.2h0M285.1 98.1h0M274.6 117.9h0M283.3 44.5h0M278.8 95.3h0M281 84.1h0M288.5 121h0M269.2 115.5h0" stroke="#9467bd" stroke-width="5" style="stroke-linecap:round;stroke-opacity:0.38;fill:none"/><path d="M279.4 75h0M293 104.1h0M283.3 126.3h0M277.6 122.7h0M280.8 115.3h0M274.2 57.8h0M277.7 87.9h0M268 99.6h0M267.3 94.3h0M285.8 94.6h0M268.6 88.5h0M276.9 83.2h0M287.4 120.4h0M274.5 106.9h0M284 93.7h0M281.1 120.7h0M289.2 33.7h0M281.9 109.8h0M280.9 95.4h0M290.4 46.1h0M278.7 103.9h0M277.1 96.1h0M278.5 87.4h0M279.5 111.4h0M279.4 38.9h0M273.3 83.2h0M278.4 123.3h0M287.4 102.8h0M275.6 70.4h0M285.1 110.7h0M273.4 83.3h0M281.3 44.6h0M279.9 77.9h0M283.3 68.8h0M282.1 95.8h0M284.1 40.6h0M280.7 98.9h0M274.1 74.1h0M279.4 94.2h0M289.9 37.9h0M286.6 104.2h0M289.9 99.2h0M285.9 37h0M280.2 50.4h0M270.1 114.3h0M288.1 125.7h0M282.2 125.2h0M279.4 70.6h0M283.4 40.7h0M287.9 75.3h0M287 95.6h0M283.1 92.8h0M267.6 63.2h0M285.2 121.8h0M287.8 99.7h0M284 81.8h0M288 110h0M286.4 94h0M277.2 105.8h0M285.8 51h0M268.1 86.4h0M284.9 50.8h0M282.7 37h0M291.6 40.7h0M269.8 89.7h0M272.6 66.3h0M266.8 102h0M280.7 104.8h0M279.2 101.3h0M274.9 118.2h0M278 106.8h0M290.4 99.5h0M275.9 112h0M286.9 34.8h0M278.2 94.9h0M287.8 82.2h0M276.1 83.8h0M290.1 43.1h0M286.6 76.5h0M286.9 48.2h0M283.7 39.2h0M287 91.5h0M272.2 91h0M286.1 36.6h0M290.7 101h0M287 94h0M286.5 82.1h0M283.1 35.8h0M282.7 49.8h0M290 45.5h0M278.5 56.3h0M284.1 88.2h0M292 101.4h0M282.9 126.2h0M282.3 84.6h0" stroke="#9467bd" stroke-width="6" style="stroke-linecap:round;stroke-opacity:0.38;fill:none"/><path d="M289.7 95.1h0M290.1 95.3h0M274 95.8h0M270.6 97.7h0M274.2 61.9h0M288.5 43.8h0M276.6 102.3h0M282.2 101.7h0M284.4 125.5h0M287 96.1h0M284.6 107.7h0M277.4 37.8h0M282.4 100h0M291.8 116.9h0M290.1 84.6h0M279.6 88.6h0M280.7 57.2h0M280.7 66.7h0M288.8 40.4h0M290.8 110.2h0M287.7 37.5h0M286.4 108.3h0M285.9 85.6h0M288 40.4h0M283.9 88.1h0M282.6 35.1h0M270.2 93.5h0M289.6 113.1h0M285.4 117.3h0M279.7 92.5h0M276.1 91.8h0M293.4 44h0M278.3 70.3h0M273.1 94.8h0M287 87.3h0" stroke="#9467bd" stroke-width="7" style="stroke-linecap:round;stroke-opacity:0.38;fill:none"/><path d="M288.2 114.4h0M285.7 109.8h0M281.8 86.5h0M287.8 123h0M282.9 49.9h0M279.9 119.8h0M276.1 61h0M284.4 99h0M282.8 34.9h0M293.7 114.1h0M283.2 114.5h0M272.3 100.6h0M284.1 113.6h0M287.3 109.4h0M264.9 89.5h0M297.7 98.3h0M268.3 90.5h0M290.3 120.9h0M289.2 35.4h0M275.3 50.8h0M284.1 78.9h0M256.5 69.4h0M288.2 103.3h0M285.1 42.6h0M274.4 116.7h0M273.5 118.3h0M291.4 94.7h0M276.9 75.1h0M287.5 113.9h0M277.2 121.5h0M273.7 104.4h0M283.9 86.7h0M274.2 101.3h0M269.1 84.2h0M277.4 41.2h0M281.7 113h0M299.2 107.4h0M276.4 58.6h0M283.5 79.2h0M281.9 122.5h0M276.7 56h0M279.6 100.1h0M285 83.5h0M277.9 121h0M269.4 108.5h0M272.8 53.3h0M282.6 100.7h0M287.1 46.5h0M283.6 102.4h0M275.9 69.6h0M291.8 41h0M266.8 97.1h0M270.1 93.3h0M276.8 40.3h0M266.7 129.2h0M275.3 101.5h0M272.3 93.4h0M282.3 64.8h0M279.4 110.6h0M271.4 83.4h0M280.1 94.7h0M268.2 117.5h0M283.8 41.9h0M287.5 68h0M293.9 37.8h0M277.1 39.8h0M288 120.1h0M277.9 38.3h0M285.8 116.8h0M279.5 117.4h0M284 84.4h0M281.9 114.7h0M298.5 107.3h0M276.4 39.4h0M278.7 99.8h0M268.5 115.1h0M279.9 96.1h0M284.7 83.1h0M281.6 106.3h0M270.7 81.3h0M284.7 42.7h0M287.2 40.3h0M275.2 102.2h0M284.9 79.7h0M282.9 88.6h0M274.9 113.8h0M286.9 118.2h0M284.5 38.4h0M264.8 101.8h0M283.7 107.1h0M273.6 66.6h0M294.2 111.5h0M280.3 110.3h0M283.2 100.7h0M281.1 122.8h0M277.5 63.7h0M275.9 123.4h0M281.9 64h0M273.8 85.9h0M268.1 77h0M277.4 98.6h0M274.6 94.5h0M280.9 95h0M284 38.1h0M290.5 115.5h0M273.8 60.5h0M280.7 78.7h0M289.4 81.6h0M284.6 97.9h0M270.4 122.4h0M266.7 70.7h0M273.3 60.8h0M273.4 121.9h0M269.7 83.3h0M288.6 68.9h0M280.9 50.8h0M280.8 117.2h0M268.6 97.7h0M279.4 52h0M278.3 87.1h0M275.2 69h0M285.1 69.5h0M278.4 34.9h0M283.9 123.1h0M280 94.6h0M277 78.7h0M281.1 80.6h0M278.3 74h0M292.3 71.1h0M283.1 47.2h0M276.5 63.8h0M286.6 119.5h0M276.5 40.4h0M276.5 49.8h0M280.1 88.2h0M287.5 114.4h0M286.1 42.5h0M284.6 80.5h0M276.6 66.9h0M285.2 38.1h0M282.8 54.4h0M275 80.9h0M276 121.3h0M284.5 39.8h0M277 115.4h0M283.7 84.8h0M281.8 52.8h0M266.1 67.5h0M281.4 118.1h0M281.8 116.5h0M276 78h0M267.7 78h0M271.9 78.6h0M271.8 98.4h0M289.3 108.4h0M281.5 36.7h0M286.4 103h0M290.2 121.1h0M260.7 97.1h0M280.9 103.5h0M278.1 97.6h0M284.5 104.6h0M278.5 111.7h0M278.6 105h0M278.8 109.1h0M282.9 45.3h0M281 52.5h0M279.8 79.6h0M277.5 117.9h0M281.3 79.4h0M256.4 124.4h0M276.2 106.6h0M270.3 77.4h0M287.2 38.8h0M283.6 34.6h0M276.7 89.6h0M270 111.2h0M293 44h0M286 99.7h0M280.6 83.5h0M283.3 112.2h0M265.6 102.6h0M282.3 110.3h0M275.4 54.3h0M292.9 89.6h0M287.4 43.6h0M284.7 96.5h0M277.5 79.1h0M268.2 76.6h0M286 35.3h0M277.1 79.3h0M278.8 71.2h0M265.6 89.3h0M255.7 132.5h0M293.4 104.4h0M280.3 73.3h0M288.2 72.4h0M283.5 55.7h0M279.6 99h0M284.8 75.5h0M286.4 40.4h0M293.2 83.9h0M270.7 92h0M281.1 39.5h0M283.4 105.6h0M278.8 54.5h0M277.6 117.5h0M278.5 119.6h0M285.5 38.1h0M268.8 70.6h0M292.1 87.2h0M285 97.1h0M283.5 124.4h0M264.5 134.8h0M279.4 63.8h0M273.1 100h0M273.2 105.5h0M264.8 101.8h0M284.4 104.3h0M287.5 119.2h0M283.9 123.2h0M278.9 114h0M274.8 96.8h0M290.2 107.2h0M285.6 99.4h0M280.1 104.6h0M291.5 119.9h0M292.4 40.9h0M278 76.7h0M290.5 110.8h0M281.5 73.7h0M276.8 55.3h0M288.2 113.7h0M288.3 35.3h0M281.5 97.6h0M300.3 104.1h0M287.3 91.5h0M283.2 119.8h0M273.4 58.6h0M293.9 79.7h0M275.7 75.7h0M283.6 40.9h0M280.6 108.4h0M276.3 48.1h0M294.1 80.2h0M260.5 97.4h0M274.4 64.7h0M272.5 81.4h0M276 122.6h0M286 41.5h0M280.2 35.3h0M282.3 47.7h0M281.4 99.5h0M261.5 98.5h0M268.8 68.8h0M282.2 90.1h0M287 114h0M280.5 72.1h0M274 70.1h0M275.2 105.5h0M281.3 81.6h0M281.6 71.5h0M278.8 95.2h0M282.6 47.3h0M275.3 92.8h0M286.4 112.8h0M275.5 69.8h0M282.5 72.1h0M288.1 73.6h0M284.5 80.3h0M274.4 78.1h0M290.3 34.2h0M288.7 40.8h0M265.1 89.2h0M286.9 49.3h0M285.1 109.8h0M274.7 103.4h0M286.3 34.6h0M276.2 86.9h0M276.2 38.5h0M272.2 112.5h0M287.1 110.6h0M289.1 37.9h0M272.7 120.2h0M290.6 85.9h0M288.9 92.4h0M283.6 116.4h0M275.9 89.9h0" stroke="#9467bd" stroke-width="2.2" style="stroke-linecap:round;stroke-opacity:0.5;fill:none"/><path d="M275.9 52.4h0M282.8 85.1h0M277.7 86.4h0M294.4 44.2h0M285.1 105.1h0M288.6 104.8h0M293.3 95.7h0M279.6 99.1h0M287.6 76.4h0M276.8 104.6h0M295 84h0M283 126h0M287.5 46.1h0M270.3 107.2h0M281 71.8h0M286.4 45.5h0M271.9 60.5h0M283.2 114.8h0M281.9 115.2h0M286.1 72h0M279.1 76.1h0M282.1 64h0M276.1 89.4h0M300.5 103.4h0M292.6 102h0M271.5 107.3h0M268.3 117.9h0M278.8 116.5h0M291.4 91.2h0M280.5 39.5h0M270.6 62h0M266.5 98.8h0M284.2 91.5h0M289.9 39.5h0M286.7 45.1h0M276.1 74.3h0M288.3 99.7h0M281.5 115.6h0M291 120.2h0M263.3 124.5h0M271.9 60.2h0M269.6 89.3h0M264.8 128.4h0M279.2 66h0M283.9 122.5h0M290.2 104.1h0M280.9 112.2h0M290.7 44.6h0M283.6 116.3h0M287 68.1h0M267.5 108h0M280.8 127.6h0M275.6 124.7h0M282.2 50.2h0M291.4 103.1h0M269 109.4h0M286.9 67.9h0M270.3 66.2h0M263.3 67.3h0M275 99.3h0M288.7 97.5h0M282.4 128h0M272.7 90h0M279 80.2h0M282.4 37.9h0M256.4 131.7h0M287.3 107.3h0M279.3 37.8h0M284.9 73.9h0M282.9 109.6h0M278.2 48.7h0M270.2 114.4h0M282.9 50.3h0M280.1 93.4h0M265.6 120.4h0M288.8 71.1h0M290.8 100.8h0M290.1 110.5h0M285.5 42.1h0M280.6 97.3h0M286.5 104.6h0M279.8 67.2h0M281.3 74h0M280.6 114h0M290.7 83.4h0M278.7 90h0M293.1 106.7h0M283.8 40.5h0M268 62.3h0M280.6 110.1h0M283.9 123.5h0M264.7 91.1h0M287.8 83.5h0M287.3 96h0M291.1 74.9h0M283 65.2h0M274.6 71.3h0M276.1 60.8h0M280.1 97.5h0M278.6 114.4h0M273.1 117.6h0M282.7 49.5h0M291.4 44.1h0M277.4 75.4h0M284.5 82.7h0M281.5 57.9h0M297.3 98.4h0M275.5 85.3h0M281.9 40.1h0M280.8 104.1h0M283.2 120.1h0M283.2 82.5h0M289.4 105.4h0M283.3 57.1h0M282.6 104.2h0M277.4 116.8h0M286 37.6h0M293.7 89.5h0M284.3 71.8h0M292.7 82.3h0M282.4 39.7h0M268.5 88.1h0M287.3 104.3h0M278.8 90.6h0M280.8 63.9h0M284.6 118.2h0M290.9 36.2h0M290.7 80.6h0M278.9 128h0M274.4 78.9h0M294.2 114.8h0M276.4 99.3h0M283.9 73.8h0M270.5 83.3h0M279.8 94.1h0M281.9 98.4h0M291 105.3h0M282 46.7h0M283.1 125.2h0M274.5 122.4h0M285.1 126.5h0M283.1 43.8h0M279.4 43.3h0M281.7 45.1h0M280.7 43.5h0M279.3 115.4h0M264.9 101.9h0M284.7 75.1h0M274.4 101.8h0M285.3 65h0M263.6 100.6h0M279.9 34.9h0M281.9 81.8h0M292.6 45.8h0M295 100h0M291.4 107.3h0M272.9 92.2h0M274.7 60.6h0M276.8 84.4h0M282.5 44.5h0M278.4 69.8h0M286.2 122.7h0M285.1 94h0M293.2 95.3h0M267.5 113.2h0M285.9 33.3h0M285.5 122.6h0M268.7 85.8h0M283.9 51.9h0M280.2 115.6h0M280.5 106.6h0M270.9 103.9h0M276.6 65.9h0M278.4 125.8h0M278.6 91.8h0M279.5 109.4h0M292.7 116h0M292.2 98.2h0M289.8 90.5h0M274.7 60.8h0M280.2 96h0M257.1 134.6h0M285.1 110.9h0M277.2 113.4h0M271.8 81.2h0M293.5 36.8h0M278.5 114.1h0M285.3 113.8h0M280.9 61.6h0M284.8 42.9h0M265.4 88.7h0M288.9 102.5h0M284.7 95.3h0M280.4 89.2h0M284.6 36.7h0M276.6 62.1h0M279.3 56h0M269.9 112.9h0M289.9 124.5h0M271 74.2h0M284.7 47.6h0M259.7 128.4h0M294.7 43.2h0M283.1 86.8h0M280.7 91.9h0M289 90.7h0M271.6 101.2h0M289.4 96.4h0M276.3 54.7h0M277.4 61.7h0M277.7 96.6h0M286 121.5h0M284.1 41.4h0M281 44.9h0M294.6 90.8h0M286.4 109.5h0M281.1 122.4h0M280.1 125.8h0M284.3 34.8h0M288.5 47.2h0M289.4 46.6h0M282.3 120.7h0M275.5 65.5h0M258.1 74.1h0M279.4 119.3h0M268 110.9h0M280.8 77.7h0M275.4 112.1h0M272.2 74h0M291.1 37.1h0M289.6 100.6h0M290.9 121.6h0M269.4 112.1h0M281.8 88.3h0M273.2 119.7h0M283.5 70.7h0M285.4 117.1h0M278.3 93.1h0M288.2 40.3h0M281.7 79h0M271.1 61.7h0M277.3 74.3h0M288.5 106.8h0M280 64.7h0M287.7 78.1h0M292.5 36h0M282.6 76.7h0M287.8 82.4h0M282 35.5h0M292.9 45.5h0M280.4 86.5h0M278 121h0M277.8 81.8h0M271.7 88.7h0M255.7 69h0M281.7 88.7h0M290.3 47.4h0M277.3 71.1h0M277.6 86.9h0M283.6 107.4h0M275.4 67.8h0M276.8 75.8h0M281.6 36.2h0M277.5 103.5h0M285.5 106.6h0M284 106.5h0M279.6 83.6h0M270.2 97.5h0M291.6 107.7h0M273.3 116.9h0M296.6 109.5h0M282.3 95.3h0M264.9 101.9h0M300.3 102.1h0M274.9 96.3h0M282.8 66h0M287.8 95.4h0M290.7 84.1h0M281.7 85.2h0M285.2 40.4h0M286.7 95.8h0M283 108.2h0M278.1 88h0M270.7 107.9h0M294.8 43.8h0M280.9 68.2h0M282.4 121.3h0M284.2 42.6h0" stroke="#9467bd" stroke-width="2.2" style="stroke-linecap:round;stroke-opacity:0.5;fill:none"/><path d="M289.1 39.7h0M282.6 39.6h0M277.5 114.1h0M288 39.4h0M282.8 39.1h0M276.6 46.5h0M290.7 122.2h0M287.3 99.9h0M289.9 69.3h0M274.1 69.8h0M296.2 102.8h0M273.6 110.3h0M280.8 98.1h0M270.7 67.3h0M267.6 102.4h0M282.1 37.7h0M284.2 37.9h0M270.1 92.7h0M278.4 93.1h0M283.7 33.1h0M277.3 120h0M286 34.6h0M286.9 33.4h0M291.4 117.5h0M266.1 87.7h0M292.1 35.7h0M274.4 125h0M292 118.6h0M286.4 118.7h0M276.4 75h0M273.8 109.9h0M275 99.9h0M283.1 75.2h0M283.9 104.7h0M265.7 97.9h0M276.3 69.1h0M288.7 98h0M286.3 106.5h0M275.1 65.6h0M279.1 90.6h0M292.5 86.5h0M289.1 47.7h0M288.4 39.6h0M280.3 90.4h0M274.2 54.1h0M292.5 46h0M266.5 95.3h0M275.2 95h0M270.7 96.7h0M284.8 96.2h0M272.1 104.9h0M291.1 87.6h0M275 114.3h0M290.2 43.7h0M281 72.9h0M288.5 111.8h0M293.5 45.1h0M266.9 69.6h0M278.8 109.9h0M286.3 102h0M294.5 107.8h0M278 73.8h0M266.8 95.1h0M267.6 61.8h0M283.9 127.2h0M286.8 115.5h0M282.1 96.4h0M269.9 88.6h0M281.8 35h0M293.6 103.6h0M267.5 82.9h0M290.8 40.4h0M278 79.5h0M279 79.7h0M291.1 75.2h0M276.4 87.2h0M292.8 101.2h0M270.7 58.1h0M278.2 112.5h0M284.1 33.3h0M296.1 112.4h0M284.4 42.8h0M289.1 112.1h0M273.9 51.8h0M281.8 52.8h0M286.6 105.5h0M286.6 36.3h0M276.5 40.1h0M283.8 118.8h0M287.8 115.5h0M284.3 88.5h0M286.2 49.2h0M263.1 92.1h0M273.5 77.4h0M276.9 85.9h0M284.4 61h0M284.1 48.3h0M287 116.9h0M290 37.7h0M284.7 89.6h0M283.6 119.3h0M268.1 76.8h0M277.1 91.3h0M276.4 72.7h0M280.5 115.5h0M280.7 109.4h0M293.7 89.5h0M274.2 70.7h0M286.7 38.6h0M287.8 82.9h0M283.9 92h0M275.6 105.6h0M291.7 101.6h0M287.8 66.1h0M278.7 93.6h0M293.5 109.8h0M269.8 130.7h0M285.5 36.1h0M283 44.4h0M267.7 114.5h0M268.8 119.3h0M293.3 36.7h0M289.7 33.7h0M269 119.6h0M288.3 112.7h0M285 35h0M279.2 83.6h0M272.3 84.6h0M284.6 124.1h0M268 77.3h0M287.4 127.1h0M283.3 76.5h0M279.5 96.6h0M281.4 46.7h0M275 77.6h0M272.5 97.9h0M286.2 72h0M300.1 104.6h0M280.3 45.4h0M284.1 98.3h0M272.7 63.6h0M284.6 108.8h0M299.9 105.3h0M274 96h0M280.2 75.7h0M278.1 107.6h0M272 63.3h0M282.6 113.2h0M270.6 57.9h0M274 71.1h0M274.5 54.7h0M284.5 94.1h0M291.3 82.6h0M270.8 85.7h0M278.2 107.3h0M288.5 93.4h0M288.7 75.1h0M295.7 92.8h0M272.5 115.4h0M268.5 105.9h0M267.5 112.7h0M280.8 88.6h0M292.9 85.3h0M276.7 41.4h0M267.3 67.2h0M275.1 122.2h0M280 84.9h0M271 55.4h0M289.6 39.5h0M289.8 39.1h0M269.1 95.3h0M280.5 54.6h0M282.2 40.8h0M276.9 118.6h0M280 125.3h0M281.1 125.1h0M279.6 122.1h0M286.2 98.8h0M279 53h0M279.5 53.2h0M293.4 38h0M279.4 89.4h0M281.5 118.2h0M267.4 61h0M280.1 125.3h0M265.7 124.7h0M267.1 93.3h0M279.2 67.9h0M280.1 87.6h0M291.8 92.6h0M260.5 97.5h0M286.8 115.5h0M274.6 55.4h0M278.5 60.3h0M282 124.5h0M277.8 89.9h0M285.5 47.9h0M289.8 76.2h0M270.4 101.7h0M284.3 122.1h0M280.5 35h0M291.3 39.5h0M280.2 118.7h0M276 104.6h0M294.4 102.6h0M276.3 92.3h0M277.2 52.4h0M272.6 116.2h0M275.9 66.1h0M278.7 120h0M296.4 97.9h0M268.2 129h0M291.4 106.8h0M280.7 107.6h0M278.5 85h0M272.5 111.1h0M282.9 125.5h0M285 33.4h0M284.1 37.8h0M278.9 120.5h0M289.6 92.7h0M283.5 36.8h0M270.8 100.8h0M282 66.2h0M288 93h0M289.4 110.1h0M277.4 48.3h0M288.1 103.6h0M278.7 61.4h0M284.1 98.3h0M273.5 112.8h0M288.4 73.6h0M287.8 33.1h0M281.5 44.2h0M277.9 82.1h0M279.6 114.7h0M282.7 38.9h0M295.8 103.3h0M262.5 93.5h0M279.3 117.5h0M280.7 119.8h0M265.9 103.4h0M286.9 39.1h0M280.4 105h0M272.2 67.9h0M278.8 49h0M279.6 97.3h0M282.8 125h0M270.5 92.3h0M270.2 97.5h0M277 118.1h0M285.4 81.2h0M281.9 55.7h0M283.6 71.3h0M300.5 103.3h0M282.3 82h0M276.7 117.1h0M267.7 67.4h0M277.8 107h0M275.7 127.7h0M277.1 103h0M278.1 83.7h0M274.3 93.4h0M269.7 99.7h0M287.2 114.6h0M284.8 103.5h0M275.4 100.7h0M282.9 75.5h0M272.2 89.5h0M289.4 95.3h0M282.9 96.3h0M285.5 38.9h0M282.2 71.3h0M283.9 124.6h0M280.8 97.2h0M286.1 109.9h0M295.4 113.4h0M266.2 90h0M277.5 111.4h0M279 58.3h0M270.3 102.4h0M281.4 69.8h0M285.7 38.1h0M280.5 80.2h0M273.7 124.3h0M278.3 100.9h0M288.2 104.7h0" stroke="#9467bd" stroke-width="2.2" style="stroke-linecap:round;stroke-opacity:0.5;fill:none"/><path d="M271.1 79.6h0M290 39.6h0M263.4 91.8h0M279.2 59.1h0M296.7 95.8h0M255.2 75.6h0M288.4 33.5h0M291.5 77.7h0M277.7 113.2h0M285.2 80h0M275.3 105h0M287.3 69.9h0M289.9 97.4h0M288 101.1h0M292.5 87.7h0M274.7 69.7h0M292.4 98.6h0M283.6 126.3h0M283.3 34.1h0M273.7 59.1h0M285 115.9h0M276.3 58.2h0M263.4 72.7h0M280 96.2h0M274 65h0M281 45.1h0M273.5 122.6h0M285.6 49h0M286.1 47.3h0M279.3 122.1h0M282.5 90h0M287.8 94.4h0M283.4 82h0M288.8 118.4h0M287.4 109.1h0M268.4 81.1h0M268.1 76.8h0M257.1 121.5h0M275.9 78.2h0M284.1 38.9h0M289.1 39.3h0M281.7 64.8h0M280.8 38.9h0M267.1 88.4h0M278.8 50.9h0M285.9 105.1h0M278.5 53.4h0M284.4 101h0M280.2 112.9h0M286 126.1h0M293.7 44.9h0M272.8 81.6h0M298.1 109.3h0M291.9 46.6h0M271.7 69.7h0M269.1 98.3h0M289.2 88h0M286.7 36h0M268.1 78.4h0M281.7 126.1h0M286.2 117.4h0M292.7 43.1h0M288.8 77.9h0M285.7 48.5h0M295.9 97h0M280.7 39.5h0M268.3 70.7h0M282.7 50.2h0M286.4 48.2h0M266.5 120.2h0M287 68h0M280.6 48h0M289.9 73h0M284.8 121.4h0M277.6 112.2h0M261.9 98.9h0M286.9 127h0M288.8 116.9h0M290.4 121.1h0M276.8 122h0M283.9 33.2h0M280.1 57.6h0M284.8 92.2h0M271.6 115h0M265.1 130.2h0M284.6 45.7h0M283.1 47.8h0M271.8 120.7h0M287.4 120.9h0M277.7 34.9h0M293.9 79.7h0M288.3 85.6h0M286.2 45.4h0M293.3 37h0M276.3 52.2h0M277.8 101.9h0M274.2 74.2h0M286.8 102.9h0M268.6 119.4h0M286.3 64.5h0M291.6 94.2h0M290.7 100.1h0M273.2 103.5h0M279.4 44.9h0M282.3 34.5h0M276 94.2h0M294.6 44.1h0M276.9 115.8h0M282.9 119.3h0M288.6 86.9h0M284.1 73.3h0M284.9 35.8h0M282.5 59.5h0M278.8 73.1h0M285.2 39.8h0M280.8 37.8h0M275.2 69.7h0M274.7 117.7h0M279.1 62.5h0M287 115.8h0M299.5 106.4h0M272.9 115.5h0M289.7 48.2h0M275.9 89h0M273.9 51.9h0M289.2 41.2h0M290.2 103h0M276.9 86.3h0M284.7 42.1h0M273.7 59.7h0M290.1 78.8h0M267.5 103.1h0M289 90.8h0M281.6 126.4h0M277.9 105.9h0M271.4 116.6h0M282.5 110.9h0M264.6 72.6h0M277.8 117h0M290.8 112.1h0M279.7 62.3h0M279.2 117h0M299 108h0M293.9 44.8h0M255.8 125.4h0M283.6 39h0M282.2 118.4h0M258.9 66.2h0M286.5 46.2h0M276.8 97.7h0M277.9 57.2h0M278.5 124.8h0M299.4 106.9h0M271.4 109.8h0M272.1 114.9h0M290.6 114.2h0M279.7 52.1h0M283 33.2h0M269.4 90.7h0M295.2 113.7h0M279.2 109.9h0M286.6 83.9h0M273.6 59.3h0M286.9 118.3h0M292.5 101.2h0M278.1 114.6h0M288.3 118.8h0M286.5 43h0M276.8 59h0M284.1 48.5h0M274.5 69.4h0M281.1 81.7h0M276.2 38.8h0M275.9 104h0M267.9 88.9h0M280 58.7h0M284.2 34.9h0M271 90.5h0M276.6 40.9h0M298.2 104.2h0M284.6 51.4h0M277.6 108.1h0M284.6 119.1h0M285.9 40.8h0M279.4 68.2h0M277.7 67.3h0M276 96.2h0M291 44.3h0M281.4 125.7h0M290.7 104h0M262.9 68.4h0M281.7 85.2h0M287.5 102h0M267.5 111.8h0M285 38.2h0M285.9 42.2h0M269.1 120h0M288.4 118.1h0M284.9 40.2h0M288.5 43.9h0M283.8 114.8h0M284.7 49.1h0M285.6 44.6h0M286.2 81.2h0M298.4 99.3h0M284.1 40.7h0M279.4 126h0M268.6 71.7h0M299.8 105.5h0M288.5 86.5h0M280.5 114.4h0M280.4 91.1h0M290.9 105.9h0M270.8 123.2h0M281.6 117.3h0M282.4 126.5h0M277.2 91.4h0M285.3 109.3h0M279.8 40.9h0M293.6 100.5h0M284.6 82.5h0M276 62.6h0M278.5 101.1h0M288.6 110.5h0M285.9 62.8h0M292.7 92.8h0M266.6 86.8h0M268.6 112.1h0M276.5 57.6h0M279.7 121h0M290 96.8h0M261.1 96.2h0M287.3 90.3h0M275 95.5h0M272.4 68.5h0M284 42h0M279.8 101.9h0M278.7 109.7h0M284.5 99.8h0M267 65.3h0M271.7 68.2h0M278.9 125h0M277.4 117.6h0M290.4 122.4h0M296 101.5h0M293.2 99.2h0M290.3 86.5h0M277.2 72.9h0M286.6 84.5h0M278.9 68.9h0M276.4 39.7h0M286.8 95.7h0M287.5 81.5h0M267.4 95.7h0M261.7 95.1h0M270.5 86.7h0M285.3 50.3h0M275 104.7h0M293.4 39.3h0M267.4 61.1h0M275.6 118.3h0M264.1 121.8h0M293.6 92.7h0M285.6 126.1h0M271.1 116.1h0M280.3 51.9h0M289.2 87.8h0M274.4 118.5h0M269.4 96.9h0M264.2 95.1h0M267.5 82.5h0M277.5 62.8h0M277.2 43.8h0M282.2 122.9h0M283.4 43.3h0M290.9 96h0M267.8 109.6h0M276.1 121.2h0M287.3 92.4h0M284.1 116.2h0M278.5 70.7h0M273.8 105.3h0M275.7 74.8h0M284.7 47.4h0M284 43.3h0M275.8 86.3h0M280.6 80.7h0" stroke="#9467bd" stroke-width="2.2" style="stroke-linecap:round;stroke-opacity:0.5;fill:none"/><path d="M459.3 49.8L460.1 54L470.9 54L468.8 49.8Z" fill="#8c564b" fill-opacity="0.94"/><path d="M460.1 53.4L461 59.9L472.2 59.9L470.9 53.4Z" fill="#8c564b" fill-opacity="0.94"/><path d="M461 59.3L462.8 65.7L473.3 65.7L472.2 59.3Z" fill="#8c564b" fill-opacity="0.86"/><path d="M462.8 65.1L465.9 71.5L475.4 71.5L473.3 65.1Z" fill="#8c564b" fill-opacity="0.76"/><path d="M465.9 70.9L466.6 77.4L476.1 77.4L475.4 70.9Z" fill="#8c564b" fill-opacity="0.76"/><path d="M466.6 76.8L461.9 83.2L473.5 83.2L476.1 76.8Z" fill="#8c564b" fill-opacity="0.72"/><path d="M461.9 82.6L461 89L472.2 89L473.5 82.6Z" fill="#8c564b" fill-opacity="0.68"/><path d="M461 88.4L461.9 93.4L473.5 93.4L472.2 88.4Z" fill="#8c564b" fill-opacity="0.68"/><path d="M461.9 92.8L460.1 96.1L470.9 96.1L473.5 92.8Z" fill="#8c564b" fill-opacity="0.7"/><path d="M460.1 95.5L462.6 100.5L469.9 100.5L470.9 95.5Z" fill="#8c564b" fill-opacity="0.72"/><path d="M462.6 99.9L463.3 104.9L469.2 104.9L469.9 99.9Z" fill="#8c564b" fill-opacity="0.72"/><path d="M463.3 104.3L464.4 109.3L472.4 109.3L469.2 104.3Z" fill="#8c564b" fill-opacity="0.72"/><path d="M464.4 108.7L462.6 115.1L472.8 115.1L472.4 108.7Z" fill="#8c564b" fill-opacity="0.83"/><path d="M462.6 114.5L464.1 119.5L474.3 119.5L472.8 114.5Z" fill="#8c564b" fill-opacity="0.94"/><path d="M464.1 118.9L466.1 123.8L474.4 123.8L474.3 118.9Z" fill="#8c564b" fill-opacity="0.94"/><path d="M466.1 123.2L467 126.7L471.3 126.7L474.4 123.2Z" fill="#8c564b" fill-opacity="0.94"/><path d="M467 126.1L468.5 130.3L471.5 130.3L471.3 126.1Z" fill="#8c564b" fill-opacity="0.94"/><path d="M470 115.7h0M476.8 121.2h0M460.7 66.4h0M469.2 83.9h0M463.5 116.7h0M481.4 88.6h0M480.9 63.8h0M464.6 75.3h0M469.1 95.9h0M459.3 106.3h0M471.3 70h0M481.5 61.3h0M459.2 112h0M476 69.6h0M468.4 65.1h0M482.7 68.4h0M465 64h0M476.2 58h0M473.7 76.4h0M476 61.2h0M475 97.2h0M470.4 56.2h0M467.1 74h0M472.4 123.2h0M477.1 82.3h0M478 119.3h0M471.5 63.8h0M466.9 112.4h0M453.4 55.2h0M461.6 123.5h0M472.7 124.4h0M464.4 102h0M472.5 62.1h0M468.7 110h0M465.2 113.7h0M458.5 97.8h0M476.5 111.7h0M461.7 65.7h0M471.3 112h0M456 63.6h0M481.5 86h0M462.3 77.3h0M467.5 62.8h0M477.1 66h0M461.7 118.9h0M469.8 53.8h0M464.4 84.9h0M481.9 84.2h0M455.1 56.7h0M456.6 55.1h0M470.4 80.6h0M475.6 74.2h0M470.5 66.1h0M459.2 65.8h0M467.4 63.8h0M453.4 96.4h0M471.5 126h0M465.5 69.8h0M483 77.6h0M464.5 102.7h0M458.2 69.9h0M451.5 57.6h0M461.3 97.3h0M464.8 73.9h0M475.6 50.2h0M477.8 71.6h0M465.3 118.5h0M458.4 53.3h0M457.3 119.3h0M455.1 94.6h0M474.6 115.6h0M453.3 90.4h0M470.8 104.5h0M466.2 119h0M472.3 60.2h0M469.5 56.6h0M455.1 91.2h0M475.5 83.9h0M478.5 87.2h0M461 74.3h0M474.7 126.4h0M476.7 93.7h0M470 94.3h0M470.1 51.8h0M456.5 67.4h0M461.7 67.9h0M473.5 128.5h0M477.3 58.2h0M458.4 86h0M468.4 107.2h0M461.4 95.1h0M461 110.4h0M478.2 74.4h0M472 59.7h0M455.1 63.8h0M472 89.5h0M451.9 87.1h0M459.9 78.2h0M467.5 121.1h0M458.8 77.7h0M468 62.7h0M473.1 93.5h0M459.9 92h0M472.9 112.3h0M453.8 90.3h0M453.5 50.4h0M467.4 84.3h0M452.8 60.9h0M475.2 64.3h0M477.5 111.1h0M460.5 124.5h0M477.1 118.1h0M469.8 64.3h0M483.1 79.8h0M476.8 117.3h0M479.3 116.1h0M475.8 53.6h0M478.7 67.6h0M475.8 92.8h0M479.2 61.6h0M453.4 51.3h0M476.4 63.3h0M472.1 88.9h0M464.2 105.1h0M466.6 108h0M455.1 90.8h0M461.6 93.3h0M473.5 87.2h0M469.2 113h0M476.8 97.5h0M461.6 100.8h0M462.2 120h0M473.3 57.1h0M477.8 52.4h0M462.6 88.1h0M465.5 81.4h0M457.8 120.4h0M463.1 70h0M474.3 100.1h0M474.7 102.4h0M467.6 64.5h0M473.4 50.5h0M462.2 79.2h0M471.6 62h0M479.4 61.3h0M463.3 82.5h0M471 60.6h0M474.5 90.3h0M455.5 94.7h0M460 83.3h0M470 90.7h0M460 61.8h0M456.7 91.5h0M459.1 116.9h0M476.1 116.6h0M464.8 56.6h0M472 71.3h0M469 105.5h0M462.1 92.7h0M475.3 76.5h0M466.6 115.6h0M458.2 119.5h0M467.8 90.5h0M468 65.4h0M473.5 124.4h0M481.9 84h0M459.3 73.1h0M469.7 57.6h0M474.8 122.8h0M465.9 101.8h0M463.6 54.4h0M473.3 60.8h0M470.8 121.5h0M463.2 54.6h0M469.3 100h0M470.5 91h0M454.4 85.6h0M463.7 101.9h0M480.8 72.3h0M455.7 95.4h0M469.5 118.4h0M471.5 91.3h0M455.1 87.5h0M457.5 94.3h0M461.6 61.1h0M473.3 72.1h0M460.3 105.3h0M475.5 90.9h0M471.6 57.1h0M477.1 117.8h0M463.4 78.6h0M469.2 65.2h0M477.4 58.9h0M468.2 121.5h0M468.8 107.1h0M467.8 70.1h0M474.2 61.4h0M471.9 116.8h0M474.1 58.7h0M481.3 87.3h0M472.2 99.2h0M471.7 122.5h0M461.7 101.3h0M466.4 56.5h0M480.6 87.2h0M482.1 120.6h0M458.3 66.9h0M470.9 55.4h0M451.5 53.6h0M457.2 115.7h0M466.8 122.1h0M455.3 82.6h0M474 69.8h0M471.1 77.5h0M463.4 60.6h0M479.4 80.6h0M463.1 83.4h0M459 88.2h0M459.5 56.3h0M462.5 125.7h0M472.4 95.4h0M471.8 91.3h0M465.5 115.2h0M474.3 53h0M462.2 92.4h0M463.8 75.1h0M452.8 96.7h0M462.4 122.5h0M464.1 54.3h0M461.6 60.3h0M469.5 73.6h0M453 88.2h0M454.8 115.3h0M471.1 107.5h0M464.2 89.5h0M475.6 61.5h0M477.9 85.8h0M464.9 80.9h0M464.8 56.8h0M476.4 120.8h0M458.1 116.1h0M475.9 94.5h0M464.2 65.2h0M459.5 91.6h0M469.8 71.2h0M469.6 97.3h0M474.4 52.3h0M477.3 93.7h0M452.6 90.3h0M461.4 121.5h0" stroke="#8c564b" stroke-width="2.0" style="stroke-linecap:round;stroke-opacity:0.2;fill:none"/><path d="M467.7 78h0M468.8 113.9h0M458.1 55.3h0M474.3 87.5h0M467.4 80.5h0M468.3 124.9h0M469.6 111.5h0M475.6 81.1h0M461.8 103.6h0M465.8 110.8h0M460.3 61.4h0M462.7 120.3h0M473.7 70h0M463.3 112.9h0M472 55.6h0M471.9 71.2h0M469.3 73.9h0M460.1 67.1h0" stroke="#8c564b" stroke-width="3" style="stroke-linecap:round;stroke-opacity:0.7;fill:none"/><path d="M470.2 81.5h0M467.5 81.9h0M461.4 87.4h0M467.3 108.7h0M470.7 61.3h0M467.9 65.1h0M464.3 91.5h0M466.8 102.9h0M457.5 51.1h0M471 78.5h0M471.8 67.9h0M470.1 114.5h0M463.9 114.4h0M474 70.7h0M472.4 119h0M472.5 113.5h0M462.7 90.4h0M468.5 59.9h0M460.9 54.2h0M470.9 124h0M467 116.8h0M468.5 99.9h0M470.3 80h0M468.1 87.8h0M459.7 58.9h0M466.3 112h0M467.3 59.9h0M464.9 62h0M471.9 51.1h0M465.2 64.7h0M470.8 111.1h0M473 107.1h0M469.5 97h0M472 75h0M475.4 80.1h0M466.7 116h0M475.8 55.7h0M473.2 76.2h0M465.1 93.9h0M463.4 96.1h0M463.4 83.5h0M474 117.7h0M470.4 113.9h0M468.1 87.2h0M467.4 105.3h0M462.7 83.2h0M465 59.3h0M468.2 114.3h0M461.9 96.5h0M462.8 123.5h0M469.1 63.7h0M461.9 83.6h0M476 59.2h0M468.4 84.3h0" stroke="#8c564b" stroke-width="4" style="stroke-linecap:round;stroke-opacity:0.7;fill:none"/><path d="M465.2 72.4h0M461.6 53.7h0M464.2 53.5h0M468.5 64.6h0M470.2 121.7h0M460.1 61.4h0M463.6 81.9h0M460 55.6h0M477.1 118.3h0M463.5 108.9h0M458.2 51.7h0M461.8 87.7h0M469.4 69.1h0M466.8 62.9h0M469.7 69.7h0M464.4 92.7h0M466.7 64.9h0M468.6 105.7h0M479 80h0M462.1 113.8h0M463.1 104.5h0M472.8 110h0M471.8 60.7h0M468.7 122.6h0M468.3 65.9h0M466.7 65.9h0M470.4 89.6h0M473.2 83.9h0M478 118.4h0M467.2 111h0M455.5 50.1h0M468.8 78.8h0M455.7 54.1h0M471.4 64.1h0M459 59.9h0M464.1 66.9h0M466.4 112.9h0M470.1 102.5h0M470.3 121.5h0M465.1 52.2h0M466.1 83.9h0M470.2 95.6h0M466.9 112.8h0M468 99.9h0M467.5 119.1h0M462.7 51.3h0M465.9 56.8h0M470.1 53.8h0M474.9 122.8h0M470 73.9h0M456.3 54.6h0M468.4 70.7h0M466.4 125.4h0M462.3 65.3h0M461 105h0M464.5 72.9h0M467.4 106.2h0M469.7 62.9h0M471.3 123.8h0M459.9 52.3h0M472 88.1h0" stroke="#8c564b" stroke-width="5" style="stroke-linecap:round;stroke-opacity:0.7;fill:none"/><path d="M470.8 73.4h0M466.8 52.5h0M459.1 98.7h0M466.5 109.8h0M463.8 58.3h0M463.4 56.6h0M465.1 104.7h0M461.9 98.8h0M477 74.5h0M458.5 61.3h0M470.9 120.4h0M458.1 61.5h0M466.6 62.3h0M466.7 123.3h0M470.3 65.7h0M463.3 61.9h0M474.5 72.7h0M466.2 69.2h0M461.3 56.9h0M471.5 114h0M463.3 111.5h0M470.8 123.7h0M470.9 89.2h0M467.3 86.4h0M463.1 120.8h0M457 57.3h0M476.2 116h0M460.6 93.8h0M465.8 56.3h0M467.1 65h0M467.8 118.1h0M468.1 87h0M473 79.1h0M462.1 57.8h0M465 94.1h0M465.5 99h0M478.7 81.1h0M466.5 109.5h0M467.6 82.6h0M467.4 81.2h0M465.4 100h0M459.7 64.2h0M467.6 101.8h0M462.1 53.2h0M464.4 119.8h0M471.3 57.9h0M469.7 109.1h0M466.8 58.2h0M469.1 122.2h0M464 107.1h0M470.8 115.8h0M471.7 123h0M472 91.8h0M468 129.7h0M465.7 68.4h0M469.6 80.2h0M470.3 119.6h0M470.7 96.4h0M475.6 112.9h0M461.9 59.1h0M466.8 58.6h0M457.8 63.4h0M463.8 71.8h0M472.4 109.2h0" stroke="#8c564b" stroke-width="6" style="stroke-linecap:round;stroke-opacity:0.7;fill:none"/><path d="M463.9 64.6h0M470.3 92.6h0M465.8 59.5h0M474.9 96.6h0M469.6 63.9h0M469.3 54.5h0M471 109.4h0M463.9 101.7h0M466.2 58.2h0M462.3 51.3h0M465.7 110.9h0M471.9 91h0M469.1 111.6h0M468.8 73h0M456.4 59.3h0M462.9 55.7h0M463.7 72.3h0M467.2 115.1h0M470.4 54.4h0M476.8 84.8h0M464.2 114.8h0M464.8 57.5h0M456.3 94.6h0" stroke="#8c564b" stroke-width="7" style="stroke-linecap:round;stroke-opacity:0.7;fill:none"/><path d="M474.8 84.9h0M472.7 72.6h0M460.5 120.9h0M455.1 50.7h0M454.6 52.7h0M442 90.9h0M467.5 72.7h0M473.5 60.4h0M460.9 81.9h0M468.6 66.2h0M469.7 83.1h0M456.6 91.1h0M453.1 94.3h0M471.6 120.5h0M459.7 95.9h0M469.7 102h0M469 92h0M463.1 88.8h0M463.8 62.6h0M467.8 57.2h0M467.3 127.7h0M464.5 97.8h0M467.2 85.4h0M473.7 98.5h0M462.8 55.3h0M469 101.9h0M468.7 112h0M475.4 117.2h0M472.2 97.6h0M462.8 82.6h0M455.9 83.9h0M459.7 66.8h0M459.6 50.6h0M473.1 63h0M473.1 110.9h0M469.9 90.3h0M463.2 101.7h0M469.9 76.8h0M471.5 122.1h0M472.2 118.9h0M472.3 116.9h0M473.9 77.6h0M481.4 115.6h0M455.6 86.6h0M459.2 57.7h0M468.1 106.3h0M471.1 78.4h0M456.4 58.3h0M478.7 122.7h0M461.4 122.8h0M467.3 58h0M473.1 70.2h0M468.8 65.9h0M472.4 68h0M473.5 79.8h0M462.4 113.6h0M469.1 96.5h0M472.9 72.4h0M463.7 119.7h0M466.2 51.3h0M468.5 87.3h0M462 76.2h0M472.1 91.6h0M473.4 72.8h0M469.3 63.8h0M465.6 86.3h0M482.7 119.4h0M467.1 95h0M468.2 96.3h0M472.5 52h0M466.7 96.3h0M465.3 111.5h0M463.7 95.3h0M468.6 112.9h0M472.6 59.5h0M467.9 63h0M470.7 52.7h0M464.9 57.5h0M461.8 50.3h0M468.4 104h0M465.2 95.2h0M468.3 104.2h0M471.4 109.4h0M475.2 74.5h0M465.2 103.3h0M470.6 53.3h0M469 115.4h0M462.5 70.8h0M482.7 121.9h0M464.9 98.5h0M472.3 93.6h0M459.2 55h0M462.8 113.6h0M459.1 83.8h0M470 67.7h0M468.2 117.4h0M471.5 129.7h0M475.5 78h0M478.6 76.9h0M444.9 88.6h0M476.1 70.8h0M467 105.1h0M468.9 122.2h0M463.6 58.4h0M472.5 120.1h0M469.3 115.5h0M472.4 84.3h0M462.8 83.2h0M463.9 100.9h0M473.6 77.4h0M467.6 73.6h0M461.4 50.1h0M472.8 98.5h0M471.7 89h0M460.5 111.2h0M466.3 50.8h0M439.8 87.5h0M467.3 51.6h0M456.7 88.6h0M477 89.5h0M459.6 116.3h0M440.8 95.6h0M464.6 88.6h0M461.2 61.1h0M487.9 117.9h0M462.3 113.9h0M461.1 58.3h0M487.1 119.3h0M467.1 86h0M462.8 66.9h0M467.8 61.8h0M476.9 111h0M472.1 121.3h0M464.9 62.2h0M477.6 58.5h0M473.5 70.4h0M477 59.9h0M466.7 96.5h0M470.3 76.2h0M470.2 80.7h0M462.9 101.4h0M461.7 123.2h0M464.6 118.6h0M456.4 62h0M469.3 121.1h0M464.1 115.6h0M465.1 64.5h0M467.9 55.2h0M461.4 96.4h0M464.2 116.4h0M472 117.6h0M470.3 62.2h0M467.6 66.3h0M467.1 104.5h0M467.1 118.2h0M470.5 69.4h0M464.8 66.4h0M479.1 118.3h0M467.8 70.5h0M470.1 110.8h0M465.1 116.5h0M467.9 129.5h0M460.4 61.3h0M467.8 71h0M467.4 68.9h0M467.2 53.7h0M463.8 57.3h0M478.8 66.2h0M478.3 62.9h0M475.8 118.9h0M470.3 66.5h0M470 76.6h0M472.9 52.9h0M464.1 62h0M467.3 63.9h0M450.8 92.4h0M465.2 119.4h0M469 58.4h0M470.3 119.5h0M472.7 78.9h0M463.5 111.5h0M469.7 73.1h0M467.4 95h0M438.4 90.9h0M461.7 64.6h0M461.6 123.1h0M473.3 113.9h0M475.3 112.8h0M460.5 56.8h0M460.3 114.3h0M468.9 84.9h0M470.7 91.5h0M461.6 123.1h0M466.6 101.7h0M467.5 106.4h0M466.3 115.7h0M478.2 87.6h0M476.1 53.6h0M459.6 59.1h0M474.8 71.1h0M475.4 77.2h0M467.6 118.9h0M469.5 112h0M468.4 66.8h0M463.5 72.3h0M478.6 122.6h0M469.4 60.3h0M480.6 75.5h0M468.2 73.8h0M467.2 108.2h0M469.9 96.5h0M459.6 58.1h0M470.4 111.8h0M474 120.7h0M470.6 54.5h0M467.3 58.1h0M460.2 78.8h0M466.5 97.6h0M471 123.1h0M478.4 123.3h0M476.1 90.9h0M475.2 85.3h0M461.2 52.1h0M464 63.4h0M476.1 77.5h0M460.5 86.5h0M466.4 51.2h0M477.4 82.5h0M472.1 58.4h0M462.1 81.2h0M471 108.6h0M456.3 83.7h0M456.9 52.8h0M471.2 104.1h0M462.1 51.1h0M464.9 85.3h0M470.4 58.5h0M468.8 125.8h0M463.3 61.5h0M464.4 114.5h0M469.9 68.7h0M470.9 91.2h0" stroke="#8c564b" stroke-width="2.2" style="stroke-linecap:round;stroke-opacity:0.5;fill:none"/><path d="M469.5 120.5h0M455.1 51.4h0M463.1 88.5h0M462.3 104.4h0M468.6 72h0M449.7 96.4h0M468.2 115.6h0M468 66.4h0M463.8 88.3h0M466.8 70.3h0M465.2 105.8h0M463.4 118.2h0M461.8 96.4h0M465.3 112.2h0M473.8 75.8h0M464.1 121.1h0M473.5 73.8h0M467.5 74.9h0M466.7 116.9h0M477.8 92.4h0M470.9 83.9h0M472.2 114.1h0M461.5 96.1h0M473.7 72.4h0M458.5 67.1h0M466.4 53.7h0M472.5 80.8h0M473.1 67.1h0M472.5 118.6h0M493.7 120.2h0M463.7 86.9h0M466.6 78.7h0M464.3 52.2h0M468.1 52.2h0M470.2 124.1h0M469.7 66.5h0M463.5 123.9h0M480.1 71.4h0M461 119.3h0M464.9 123.9h0M477.6 61.7h0M472 118.1h0M450 90.8h0M464.3 69h0M468.9 66h0M477 117.7h0M465.6 105.9h0M470 111.3h0M468.3 88.8h0M470 124h0M462.4 59.6h0M496.7 116.3h0M461.2 99.2h0M475.4 75.6h0M466.6 55.5h0M470.1 90.2h0M460.1 99.6h0M470.6 125.1h0M465.1 54.1h0M472.5 52h0M469.4 76.9h0M474.4 55.4h0M467.2 54h0M481.9 119.4h0M476.6 73.9h0M448.2 94.1h0M470.2 69.9h0M467.6 103.3h0M469.1 124.6h0M469.3 73.3h0M470 72.6h0M470 123.4h0M466.6 91.9h0M470.4 86.5h0M453.2 86.5h0M460.7 96.5h0M464 111.5h0M467.2 111h0M465.1 111.3h0M454.7 86.6h0M459.5 64.2h0M473.3 100.8h0M465.7 66.4h0M468.5 71.6h0M462.6 90.2h0M472.3 79h0M476.1 77.9h0M470.1 127h0M477.6 69.7h0M465.3 121.9h0M475 122.4h0M468.1 122.4h0M439.2 87.3h0M474.1 93.8h0M474.7 60.9h0M467 64.9h0M466.7 66.6h0M468 97.4h0M460 98.4h0M471.8 120h0M467.3 102.3h0M463.9 91.3h0M475.8 120.5h0M459.4 60.2h0M472.2 70.5h0M469.3 55.1h0M469.4 80.9h0M489.5 115.3h0M476.3 68.3h0M462.3 54.4h0M467.2 109.6h0M465 54.7h0M480 75.2h0M464.1 50.4h0M462.9 96.3h0M461.8 92h0M470 57h0M465.6 111.6h0M453.9 94.8h0M470.3 121.2h0M472.2 104.7h0M470.8 109.8h0M473.3 74.5h0M468.8 77.8h0M475.3 70.7h0M469.1 125.6h0M472.7 112.3h0M444.9 93.4h0M466.7 50.2h0M460.2 115h0M462.8 117h0M476.4 57.2h0M468.1 87.5h0M470.2 55.3h0M470.2 115.5h0M465.8 119.4h0M464.7 124h0M473.8 55.4h0M440.5 95.2h0M470.5 122.1h0M474.8 93.4h0M468.3 123.4h0M472.5 75.3h0M472.8 117.7h0M465.7 117h0M459.8 92.8h0M476.9 82.4h0M468 62.6h0M474.7 115.9h0M477.3 76.1h0M469.4 121.8h0M473.9 93.7h0M463.5 113.7h0M459.6 50.7h0M470.1 63.1h0M472.4 91.2h0M468.8 81.1h0M450.7 96.8h0M463.2 88.5h0M466.1 52.6h0M471.4 94.4h0M465.6 90.8h0M455.9 89.8h0M471.6 94.2h0M463.1 81.3h0M466.1 119.8h0M468.3 117.5h0M460.7 112.8h0M476.3 120.5h0M478.2 123.7h0M467.7 57.5h0M473.4 53.7h0M463.2 50.3h0M437.6 91.6h0M463.2 120.1h0M470.7 98.5h0M472.9 125.4h0M463.3 81h0M474.5 111.7h0M452.6 86.6h0M469.6 58.8h0M466.4 77.8h0M466.2 91.8h0M461.4 113.1h0M465.4 72.4h0M468.9 52.1h0M476.4 61h0M471.9 80.9h0M436.9 94.4h0M469.9 87.1h0M475.1 118.7h0M471.7 92.1h0M469.7 91.5h0M469 90.7h0M467.4 81h0M468.3 59.9h0M470.3 56.6h0M466.6 114.1h0M469.6 99.1h0M443.3 96.2h0M474.1 79.7h0M488.1 119h0M493.5 120.7h0M462.8 82.6h0M466.4 116.3h0M470.9 128.9h0M465 100.6h0M465.3 61.5h0M457.1 96.3h0M468.3 59.7h0M472.2 85.9h0M472.4 114.2h0M485.2 121.3h0M474.7 113.5h0M474.5 71.2h0M472.8 68.8h0M474.9 70.3h0M479.4 83h0M469 111.6h0M466.2 94.4h0M471.5 120.3h0M469.4 114.7h0M458.2 116.7h0M466.5 57.9h0M472.4 61.1h0M471.9 55.8h0M463.1 123.9h0M469.1 67h0M441.2 87.4h0M471.1 69.4h0M476.2 83.8h0M464.8 123.6h0M470.1 57.3h0M466.6 114.3h0M464.9 62.7h0M462.5 119.7h0M460.1 87h0M467.7 119.2h0M475.6 77h0M476.5 110.7h0M472.4 109.1h0" stroke="#8c564b" stroke-width="2.2" style="stroke-linecap:round;stroke-opacity:0.5;fill:none"/><path d="M473.3 70.5h0M471.5 115.4h0M469.1 119.9h0M458.2 50.9h0M476.3 55.7h0M470.6 91.1h0M471.5 63h0M461.3 99.8h0M469.2 53.7h0M476.1 88.6h0M464.2 65.6h0M463.7 117.2h0M478.8 68.2h0M465.2 56.1h0M469.2 86.3h0M476.8 115.3h0M468.6 118.6h0M470.6 92.4h0M452.3 93.8h0M462.9 87.4h0M465.1 81.4h0M471.6 74.7h0M467 104.6h0M474.1 62.4h0M459.3 60.8h0M473.7 92.5h0M469.6 125.1h0M462.3 50.4h0M457.1 59.7h0M458.2 87.1h0M458.1 94h0M470.5 119.2h0M476 75.4h0M459.6 55.6h0M476.2 62.4h0M472.9 79h0M463.4 89.5h0M470.6 73.1h0M468.7 85.7h0M463.4 98.2h0M467.4 55.1h0M467.4 53.2h0M468.9 118.4h0M465.2 114h0M466 113.7h0M459.5 57.1h0M466.9 99h0M460.1 87.7h0M486.2 121.7h0M460.5 96.2h0M468.1 67.6h0M468.6 101.1h0M453.7 95.4h0M472.7 122.8h0M441 98.5h0M454.6 51h0M461.6 75.2h0M467 62.4h0M465.8 110.8h0M469.9 94.7h0M477.6 79.3h0M469 114.9h0M472.6 59.6h0M466.6 64.3h0M471.3 72.9h0M461.8 93.4h0M465.9 105h0M473.3 120h0M462.7 50.6h0M472 106.5h0M462.3 57.8h0M465.4 81.2h0M476.4 54.4h0M478.1 65h0M465.7 81.7h0M466.2 114.5h0M461.4 122.7h0M467.7 57.7h0M461.8 80.9h0M464 56.5h0M471.1 62.6h0M475.5 67.5h0M472.9 94h0M470.1 120.5h0M469.4 72.4h0M467.2 58.5h0M473 96.8h0M476.4 53.8h0M458.6 58.4h0M466.9 97.6h0M467.3 102.5h0M470.9 69.3h0M461.6 52.4h0M469.1 117h0M453.3 95.6h0M465 122h0M470.5 82.2h0M467.4 118.3h0M467.3 75.1h0M474.1 116.6h0M474.5 85.7h0M470.7 105.6h0M464.3 117.1h0M467.8 86.1h0M478.9 121.9h0M458.4 99.6h0M467.1 108.1h0M448.1 92.1h0M460.1 103.5h0M467.4 90.7h0M468.9 121h0M452.8 90.9h0M471.7 86.6h0M479.3 83.2h0M462.3 58.2h0M480.9 120.4h0M463.3 55.3h0M463.5 56.4h0M472.2 72.9h0M466.3 99.2h0M474.4 65h0M468.3 96.1h0M471.9 125.3h0M462.1 119.5h0M464 105.3h0M460.8 51.5h0M460.6 60.6h0M469.8 118.8h0M472.8 56.6h0M472.5 91.2h0M470.3 75.4h0M468.6 105.1h0M468.7 58.9h0M480.5 74.3h0M474.2 109.8h0M468.7 55.1h0M471.7 55.1h0M473.7 122.6h0M467.2 106.8h0M459.2 64h0M471.1 53.2h0M464.6 122.8h0M469.6 114.1h0M469.2 121h0M469.5 112.4h0M465 55h0M468.1 74.2h0M461.3 50.7h0M472.1 76.7h0M463.1 106.3h0M465.1 62.8h0M466.9 126.3h0M455.5 60h0M467.9 75.1h0M467.4 58.7h0M473.8 78.9h0M445.4 98.4h0M469.5 93.5h0M466.8 107.2h0M466.4 111.7h0M464.7 109.2h0M467.3 57.5h0M462.3 90.8h0M475.8 109.8h0M477.9 121h0M466.4 121.5h0M460.7 121.4h0M463.2 61h0M470.1 80.4h0M454.2 90.9h0M468.3 75.7h0M463.2 99.9h0M461.5 87.9h0M476 113.5h0M469.2 122.3h0M473.3 73.8h0M469.8 119.8h0M478.5 117.8h0M471.3 69.4h0M473.2 72.8h0M471.3 55.2h0M455.7 91h0M482.6 121.7h0M469.8 56.4h0M479.3 118.9h0M468.9 61h0M471.9 101.1h0M442.6 87.1h0M472.3 54.5h0M474.6 114.9h0M463 61.8h0M471.6 58.2h0M464.9 102.8h0M463.6 107.1h0M468.1 90.6h0M477.9 59.9h0M469.4 120.3h0M467.6 92.8h0M470.9 74.2h0M468.1 129.5h0M463.9 85h0M472.7 121.9h0M475.3 89.6h0M471.4 76.6h0M442.4 98.7h0M463.4 114.7h0M473.7 58.9h0M464.3 120.9h0M464.2 117.9h0M475.4 54.3h0M473.8 78.5h0M461.7 85h0M467.6 115h0M461.3 122.5h0M462.5 58h0M465.5 88.4h0M449.4 94.2h0M486.1 116h0M462.2 52.6h0M458.5 98.3h0M467.3 123h0M460.4 56h0M472.2 93.3h0M454.6 50.9h0M470.8 109.8h0M468.8 109h0M463.6 125.2h0M470.4 97.4h0M467.5 78h0M474.3 54.1h0M466 87.3h0M469.8 67.9h0M464.4 53.7h0M477.4 59.3h0M461.4 64.2h0M474.6 54.6h0M473 53.4h0M478.8 120h0M472.7 93.1h0M473.7 110.4h0M467 121.9h0" stroke="#8c564b" stroke-width="2.2" style="stroke-linecap:round;stroke-opacity:0.5;fill:none"/><path d="M473.2 119.2h0M465.8 122h0M471.5 126.9h0M471.9 61.7h0M464.7 110.8h0M459.7 57.1h0M468 73.6h0M468.7 78.2h0M469.2 97.8h0M442.6 96h0M470 76.4h0M466.2 54.2h0M468.9 91.1h0M439.7 86.5h0M472.9 91.3h0M475.9 70.6h0M465.8 65.4h0M478.6 85.2h0M475.9 86.4h0M471.1 50.1h0M469.4 72.8h0M465.3 62.8h0M475.9 71.5h0M467.6 119h0M469.6 67.7h0M470 119.7h0M468.7 53.7h0M468.4 103.4h0M462.3 63.2h0M472.1 90.6h0M471.3 116.4h0M475.7 115.1h0M465.8 93.9h0M470.1 62h0M460 96.7h0M468.8 125.7h0M461.9 53.2h0M469.1 74.7h0M464.1 84.5h0M475.3 117.1h0M474.1 64.9h0M470 86.8h0M472.2 116h0M475.2 63.5h0M479.2 122h0M475.4 89.8h0M475.6 77.4h0M468.8 106.7h0M466.7 71.5h0M466.6 100h0M473.4 88.8h0M480.5 74.9h0M470.4 96.7h0M475.1 117.9h0M466.1 60.3h0M463 90.6h0M469.1 101.9h0M464.6 59.5h0M459.2 54.4h0M470.5 57.2h0M467.3 56.1h0M461.7 104.5h0M470.8 117.6h0M473.3 110.8h0M470.3 118.6h0M477.3 59.6h0M469.6 69.4h0M471.4 67.7h0M473.2 83.9h0M472 77.3h0M465.1 96.5h0M468.8 109.9h0M459.9 51.2h0M468.7 120.1h0M446.2 92.9h0M464.1 92.1h0M460.2 111h0M467.5 123h0M461.7 54h0M468.4 63.9h0M459.6 119.7h0M465.8 118h0M462.4 73.3h0M466.8 79.4h0M462.6 61.4h0M468.9 128.3h0M469.5 117.4h0M472.1 111.9h0M470.6 122.4h0M457.4 93.9h0M464.2 121.6h0M466.1 104.3h0M467.6 91h0M469.5 99h0M494.2 118.5h0M467.3 89.4h0M462.9 95.3h0M461.6 57h0M470.7 92.4h0M465.4 75.7h0M462.4 116.1h0M472.1 75.1h0M472.2 65.1h0M469.9 98.1h0M468.7 82.5h0M459.3 51.6h0M475.1 69.7h0M464.2 54.1h0M461.9 77h0M443.9 95.8h0M474 58.4h0M469.4 70.6h0M469.3 108.1h0M468.3 121.8h0M477.2 114.3h0M470.2 58.1h0M467.6 83.4h0M469.9 74.2h0M460.3 87.5h0M478.1 121.3h0M481.3 117.3h0M467.6 52h0M474.8 72.6h0M468.6 117.9h0M464.5 88.9h0M466.1 105.1h0M450.9 97.9h0M481.2 116.7h0M468 113.8h0M469.1 98.5h0M468.5 61.2h0M474.9 119.3h0M470.3 64.7h0M471.7 79.9h0M471.9 72.2h0M439.3 89.9h0M469.5 128.5h0M476 121.8h0M450 89.4h0M469.6 99.4h0M465.8 51.5h0M471.2 121.9h0M468.4 120.6h0M469.2 91.6h0M464.8 92.9h0M469 106h0M461.9 119.3h0M461.3 101.5h0M467.4 127.1h0M475.4 76.8h0M466.7 51.9h0M473.5 121.8h0M474.9 70.4h0M478.3 87.1h0M437.3 95.1h0M468.4 77.9h0M475.1 120h0M469.6 88.8h0M464 119h0M461.4 111.4h0M461.8 108.9h0M475.8 77.5h0M463.1 80.7h0M455.4 89h0M465.5 91.8h0M475.4 71.1h0M467 77.7h0M447.7 93.7h0M470.9 127.5h0M469.8 107h0M464.9 109.9h0M472.2 68.4h0M467.9 85.6h0M468.8 71.7h0M454.8 97.4h0M459.6 112h0M467.7 123.3h0M457 64.1h0M473.9 87.3h0M470.3 129.2h0M463.5 73h0M466.7 88.6h0M465.3 93.8h0M474.3 90.8h0M470.4 125.7h0M466.6 82.4h0M439 97.2h0M470.9 61.2h0M463.8 91.1h0M460.9 58.8h0M477.6 82.2h0M467.6 119.8h0M467.9 90.9h0M463.2 121.1h0M460.9 78h0M467.1 112.6h0M476 72.8h0M463.2 59.3h0M465 89.5h0M461.5 57.1h0M469.6 57.9h0M475.1 75h0M479.3 92.9h0M470 67.4h0M464.6 112h0M473.2 86.6h0M464.3 69.9h0M478.4 67.1h0M463.6 61h0M465.6 87.1h0M460.2 67.8h0M473.2 74.5h0M437.4 96.3h0M477.3 85h0M470.5 58.1h0M471.4 88.5h0M467.2 79.6h0M471.8 54.9h0M475.8 122.7h0M459.5 54.4h0M468.9 117.5h0M469.3 55.6h0M469.6 74h0M463 86.1h0M467.3 77.7h0M472.1 125.7h0M468.5 90h0M459.9 58h0M473.4 123h0M466.9 54.7h0M475.1 117.5h0M463.3 98.3h0M478.4 83.3h0M468.6 88.1h0M467.9 60h0M469.7 129.6h0M478.6 74.8h0M462.7 56.2h0M469.4 85.5h0M467.5 109.5h0M457.2 64.5h0" stroke="#8c564b" stroke-width="2.2" style="stroke-linecap:round;stroke-opacity:0.5;fill:none"/><path d="M94.7 223.7L88.1 228.2L96 228.2L99.9 223.7Z" fill="#d62728" fill-opacity="1"/><path d="M88.1 227.6L90.2 231.5L99.8 231.5L96 227.6Z" fill="#d62728" fill-opacity="1"/><path d="M90.2 230.9L94.5 234.7L102 234.7L99.8 230.9Z" fill="#d62728" fill-opacity="1"/><path d="M94.5 234.1L94.8 238.7L100.4 238.7L102 234.1Z" fill="#d62728" fill-opacity="1"/><path d="M94.8 238.1L91.8 242.6L100.2 242.6L100.4 238.1Z" fill="#d62728" fill-opacity="1"/><path d="M91.8 242L93.8 246.5L100.1 246.5L100.2 242Z" fill="#d62728" fill-opacity="1"/><path d="M93.8 245.9L97.8 251.8L107.9 251.8L100.1 245.9Z" fill="#d62728" fill-opacity="1"/><path d="M97.8 251.2L94 255.7L103.2 255.7L107.9 251.2Z" fill="#d62728" fill-opacity="1"/><path d="M94 255.1L92 259.7L100 259.7L103.2 255.1Z" fill="#d62728" fill-opacity="1"/><path d="M92 259.1L89.4 263.6L97.3 263.6L100 259.1Z" fill="#d62728" fill-opacity="1"/><path d="M89.4 263L84.8 266.7L91.3 266.7L97.3 263Z" fill="#d62728" fill-opacity="1"/><path d="M84.8 266.1L94.6 271.5L99.9 271.5L91.3 266.1Z" fill="#d62728" fill-opacity="1"/><path d="M94.6 270.9L93 279.5L99.9 279.5L99.9 270.9Z" fill="#d62728" fill-opacity="1"/><path d="M93 278.9L92.4 287.5L99.7 287.5L99.9 278.9Z" fill="#d62728" fill-opacity="1"/><path d="M92.4 286.9L93.6 295.6L100.1 295.6L99.7 286.9Z" fill="#d62728" fill-opacity="1"/><path d="M93.6 295L98.1 302L106.9 302L100.1 295Z" fill="#d62728" fill-opacity="1"/><path d="M98.1 301.4L94.2 305.3L106.7 305.3L106.9 301.4Z" fill="#d62728" fill-opacity="1"/><path d="M98.4 269.7h1.2M92.5 304.8h2.8M96.9 252.8h1.5M96.6 284.9h2.7M96.5 288.9h2.8M93.8 282.3h2.1M89.3 265.2h1.2M93.3 226.5h1.7M81.8 266.7h1.9M96 241.9h1.4M100.4 234.8h1M97.4 294.6h2.9M99.2 299h2.1M101.3 242.4h1.9M98.1 288.1h1M97.8 294.2h1.9M97.8 285.9h2.6M98.7 295.3h1.2M99.9 248.6h2.8M92.7 264.3h1.2M96.5 304.8h1.1M99 302.4h2.5M99.7 230.3h1.2M96.6 235.2h2.7M94.2 256.1h1.4M91.1 261.6h1M91.4 266.9h2.2M95.8 289.5h0.8M94.9 258.6h1M96.4 261.9h2.1M105.7 301.9h2.4M94.9 252.1h1.9M98.9 232.6h2.6M89.9 265.9h1.2M100.6 255.5h2.6M97 255h1.8M101.8 249.5h2.7M94.5 280.1h1.1M102.8 249.2h2M97.6 276.1h1M96 233.6h1.2M92.6 226.8h1.6M96.1 278.1h2M102.9 253.6h2M100 270.7h1.3M96.2 255.5h1.5M89.1 228.8h2.9M90.2 264.4h0.9M100.3 232.6h1.7M94.8 279.8h2.7M94 274.8h2.3M96.3 225.3h2.1M93.2 229.8h1.1M97 274.2h1.4M88.1 282.1h3M95.8 296h2M95.1 279.6h1.4M95.6 231.5h2.8M100.4 251.7h2.6M102.8 252.6h2.5M98.7 304.9h1.3M90.6 267.9h1.7M90.5 266.9h2.7M96.8 295h1.4M94.8 290.2h2.9M105.6 303.2h1.7M91.1 264.8h1.9M93.1 278.2h2.5M88.1 266.9h1M100.9 239.3h2.2M99.9 295.1h2.1M102.1 247.1h1.2M95.2 263.2h1.2M89.6 267.4h0.9M91.9 263h1.6M101 289.4h2.2M93.8 282.2h1M94.5 291.9h1.9M96.1 293.9h1.2M98 250.4h2.6M95.6 278.4h1M95 281.9h0.8M100.1 302.3h2.3M97.9 236.1h1.6M93.7 273.2h2.8M94.6 286.6h1.7M98.1 233h2.5M101 251.5h1.9M90.8 259.4h1.9M90.3 228.3h1.7M95.9 274.2h2.3M102 250h0.9M95.6 232.8h2.6M101.1 249.7h2.3M94.7 272.8h2.4M101.4 247.7h1M98.5 252.8h2.4M94.4 276.4h1.9M86.1 265.1h2.4M96 298.3h2M95.9 256.4h2.8M93.8 244.2h2.6M92.8 264.1h2.1M101.6 302.3h3M93.7 278.4h1.9M98.1 298.4h1.6M98.5 241.9h2.7M88.8 265.6h1.2M90.4 268h2.5M98.1 270.1h2M90.9 287.2h3M99.2 302.1h0.9M95.3 283.5h1.5M97.2 298.6h2.8M95.9 257.1h2.1M104.5 249.3h1.3M93.7 278.9h2.3M93.1 227.7h1.9M102.9 303.3h2.1M93.7 296.7h1.2M100 303.7h0.9M92.3 227.4h2.8M91.7 278.7h2.3M93.6 243.5h2.9M98 231.4h1.9M100.9 238.1h1.4M92 243.9h0.9M105.7 304.2h2M94.6 256.2h2.5M93.1 229.9h2.8M95.7 280.5h1.6M94.3 262.7h1.4M99.8 247.3h1.3M89.4 256.2h2.9M99.6 288.7h2.3M91.8 228.6h2M95.2 286.9h2.8M92.1 268.2h2.4M94 241.5h2M96.5 241.9h2.5M94.5 296.9h2.3M96.9 291.9h2.5M95.4 280.7h1.5M97.1 275.1h2.3M88.3 264.8h1.2M99.4 238.1h0.9M99.7 297.5h1.9M96.2 289.2h2.5M99.6 248.1h1.3M93.1 258.2h2.8M95.5 299.3h1.8M96.5 241.8h2.3M94.2 248.9h2.7M94.1 270.5h2.6M88.2 255.7h2.2M99.4 253.2h1.4M88.5 262.3h1.2M98 239.4h2.1M99.1 239.8h2.1M102.2 244.8h2.1M96.1 235.8h1.7M100.5 301.5h1.2M94.9 247.6h2.8M96.9 270.1h2.3M90.8 226h2.3M96.6 245.4h0.9M96.4 299.2h2M98.1 252.9h2M96.3 291.6h1M98.5 246.6h1.3M94.3 291.5h1.1M97.4 241.2h2.2M92.8 275.1h2.7M96.6 241.8h2.2M93.3 285.4h1.5M92.7 242.3h2.7M94.8 244h2M97.6 299h2.6M103.6 303h2.1M93.4 282.9h1.2M94.1 293.4h1.7M95.7 272.4h1.4M97.1 232.4h1.5M84.2 267.1h0.9M95.1 233.1h2.5M98.9 281.2h2M102.5 279.7h1.5M95.9 273.9h2.4M94.8 230h1.8M95.7 248h1M96.5 255.6h2.6M93 237.7h2.6M97.7 270.8h2M92.4 226h2.2M95.5 285.1h2M86.5 230.4h1.4M97.5 304h0.9M94.5 292.3h2.2M92.8 258.5h1.4M88.4 265.4h2.4M96.2 243.8h1.5M91.9 242.8h1.7M99.7 284.3h2.8M97.5 284.5h1M97.8 274.6h1.4M98.1 253h2.3M93.2 280.8h1.7M92.2 259.7h2.7M100.2 253.5h1.1M106.5 251.2h0.8M103.9 253.4h2.6M91.4 261h1.1M89.7 226.5h1.4M101.9 248.6h1.2M94.5 291.7h1.8M95 286.3h2.8M97.6 284.6h1.9M94.6 273.9h2.4M96.6 239.5h1.1M97.9 274.2h2M94.3 288.2h1.3M91.8 241.1h1.3M93.4 237.9h1.5M90.8 264.4h1.7M96.3 296.7h2.4M97.3 280.1h1M94 248h1.4M96.5 237.9h2.9M95.5 284.1h1.6M97.5 260.4h0.8M100.6 302h2.7M103.4 257.9h0.8M95 271.9h1.6M91.8 234.6h2.4M98 297.4h2.9M96.5 250.3h2.8M90.2 259.9h2.9M101 251.5h2.1M97 288.2h2.9M100.2 256.8h1.3M96.3 257.6h1.5M94.4 227.2h2.2M94.5 234.8h2.2M95.4 292.1h2.6M96.7 278.4h1.1M92.1 270h1.6M93.6 244.6h2.2M94.8 249.2h1M100.9 252.5h1.9M92 233h2.7M96.1 224h0.9M95.8 279.4h2.6M93.5 270.2h2.4M93.6 288.9h1.7M97.3 302.4h1.3M91.7 263.9h2.5M91.3 267.9h1.6M93.2 235.2h2.2M97.6 298.3h1.1M93.4 278.6h2.5M90.4 271.1h2.8M96.7 280.9h2.8M104.4 248h3M91.3 225.8h0.9M96.5 279.7h2.6M83 266h1.3M90.9 231.3h1M97 255.1h2.5M93.9 245.2h2.8M100.8 260.3h0.9M98.7 252.9h1.3M87.7 228.2h1.8M92.3 243.9h2.7M94 227.7h1.8M96.8 259.5h0.9" stroke="#d62728" stroke-width="2.2" style="stroke-linecap:round;stroke-opacity:0.55;fill:none"/><path d="M99.8 284.3h2.4M95.6 291.2h2.9M93.5 295.7h1.2M94.2 287.1h2.6M95 237.6h2.9M90.9 229.3h1.7M93.1 294.8h2.6M97.4 238.6h2.2M96.7 253.7h3M94 287.7h2.3M93.1 254.8h1.4M99.2 256.3h2.4M97.8 255.5h1.5M101.2 249.1h1.6M96 233.6h0.8M97.1 290.3h1M100 248.5h1.2M96 243.4h2.3M95.2 231.8h1.9M98.6 255.3h1.7M99.8 253.7h2.1M99.2 240.9h1.5M98.9 236.2h1.5M93 231.7h2.1M102.7 241.9h2.4M97.2 295.4h2.4M100.3 253.5h2M93.1 286.6h3M93.3 271.6h3M102.8 300.4h2.8M98.7 255.8h1.5M92.2 264.8h2.4M96.9 239.7h1M97.3 279.2h3M91.9 285.1h2.1M95.6 288.7h1M97.6 304.6h1.1M89.1 267.3h2.2M92.1 270.3h2.3M99.8 254.8h1.6M94.4 275h1.8M98.7 238.6h2.6M95.6 286h2.5M99.9 297.8h2.5M96.2 246.6h1.6M95.2 241h1.6M98.3 279.3h2.2M96.6 258.1h1M97.8 234.8h2.3M97.7 295.4h2.3M94.1 292.7h2.5M97.5 251.1h1.3M98 275.9h1.6M97.8 244.7h1.3M98 260.2h1.8M97 294.7h2.2M91.3 226.1h1.8M97.2 238.9h2.7M95.9 236h2.1M97.6 281.9h2.5M89.8 295.6h2.9M96.7 232.3h2.6M95.1 275.9h1.3M95.4 281.8h1.6M101.4 274.7h0.9M93.8 259.3h1.7M93.8 289h1.8M100.7 293.3h1.5M101.9 232h1.6M86.5 266.9h1.2M95.8 294.1h2.6M100.3 235.4h1.7M99.8 253.4h0.8M107.6 300.1h1.8M92.5 229.1h1.6M99.7 234.5h1.2M100.1 276.3h2.3M94.5 276.5h1.7M95.3 242.5h2.5M89.9 261.1h2.2M90.8 230.6h2.9M96.9 278.1h1.5M90.9 233.1h0.9M93.7 280.4h1.2M92.8 261.5h2.5M92.8 248.8h1.2M98.7 252.1h2.1M99.8 294.8h1M102.4 251h2.7M97.6 236.8h1.6M87.7 265.3h1.4M94.1 246.7h2.8M89.5 268.6h2.3M96.3 277h2.1M93.4 290.2h2.8M91.9 230.9h2.6M97.2 282.6h0.8M97.2 303.6h2.8M90.6 233.5h1.2M93.3 262.3h2.4M101.7 302.7h1.5M96.2 275.4h1.5M97.7 285.5h1.7M93.8 228.6h0.8M97.2 224.6h2.7M91.4 263.2h1.4M93 280.7h2.2M103.9 301.6h1.1M96.5 286h1M91.4 278.9h0.8M99.8 243.1h1.9M93.6 237.8h1.7M95.5 281.1h2.4M95.8 231.7h1.8M96.6 276.9h1.9M99.6 299.3h2.1M98 272.2h1.1M100.9 256.2h1.6M97.7 237.6h2.6M93.9 273.4h3M96.7 259.4h1.9M95.6 225.3h1.5M86.3 266.8h2.7M100.8 292h2M98.4 292.4h0.9M98 275.4h1.2M86.5 264.4h2.2M98.1 271.3h1.1M95.4 280.8h2M101.7 250.3h2.9M94.7 281.8h1.9M100.4 248.3h1.8M93.2 241.7h2.6M99 288.9h2M91.9 265.4h2.6M98.4 271.7h0.8M97.1 279.2h2.7M97.1 233.4h1.2M97.5 235.6h1.3M86.3 267.2h2M96.1 237.6h2.3M100 298.3h1.2M107.2 303.9h2.5M91.8 227.6h1.9M94.6 282.8h2.5M95.4 296.7h1.6M94.8 292.6h1.6M102.1 250.7h2M87.4 265.1h2.3M98.2 287h2.5M95.3 292.1h1.5M92.4 240.9h2.2M95.2 281.7h1.4M93.8 288.9h2.3M96.5 246.5h1.7M92.5 262.6h2.8M92.2 225h2.4M97.2 291.4h1M99.5 253.7h2.2M91.2 294h1.6M92.5 226h1.5M101.1 302.4h1.3M91.9 226.6h2.3M101.7 253h2.7M96.4 244.3h1.8M84.7 231.3h1.9M95.2 260.4h1.5M94.7 247.5h2.6M89.4 256.3h3M93.5 304.3h1.8M98.5 272.6h1.8M96.9 288.9h1.2M102.1 249.2h1.4M97.2 256.4h1.7M94.5 285.6h1.7M91.2 265.3h1.2M92.2 283.1h1.6M96.4 278.1h0.9M96.8 231.9h1.4M100.5 250.1h2.2M98.1 228.6h2.8M98.3 224h1.3M95.9 274.4h2.3M99.3 304.3h1.3M97.1 288.5h2.9M99.6 298.7h1.3M103.2 252.3h0.9M86.5 266.3h2.9M95.7 247.9h1.6M92.6 278.6h1.3M98.6 244.9h1.8M95.5 289.8h2.7M98 259.3h1.7M97.7 247.2h1.8M105.5 253h2.2M96.9 244.3h0.9M96.5 258h2.8M96.2 243.5h2.4M95.5 231.3h2.1M94.7 261h1.6M95.2 296.7h2.9M96.2 256.2h1M95 259.3h0.8M94.5 254.5h2.1M95.3 295.3h2.3M94.9 282.2h1.1M93.8 281h2.7M93.6 275.9h1.8M98.1 260.4h1.5M85.4 264.3h2.4M102.6 253.9h1.7M98.7 247.1h1.2M96.2 291.9h1.7M97.4 239.3h0.9M97.1 280.3h1.5M98.5 251.9h2.1M94.2 284.5h1M89.1 304.8h1.8M99.7 250.1h1.9M90.3 261.2h0.9M95.2 232.8h1.3M98 228.6h0.9M97.7 240.6h1.9M98.1 296.5h2.2M96.4 288.7h0.8M92.9 288.1h2M90.5 263.8h2.7M99.4 287h0.9M97.2 248.3h2.1M87.1 263h1.5M91.2 263.6h1.1M91.8 226.1h2.7M96.3 273.6h1.5M103.7 301.1h2.7M96.3 274.7h2.8M86.4 228.3h1.4M96.9 255.8h2.7M97.1 238.1h2.8M85.7 265.9h0.8M96.5 224.5h2.7M107.3 303.2h2.2M99.1 304.1h0.8M96 304h2M96.9 286.8h2.7M90.6 268.5h2.7M97.5 236.5h2.8M93.5 251.7h1.9M93.7 257.7h1M102.3 256.2h1.6M88.4 268.5h1.5M89.6 230.1h2.2M103.1 300.9h1.4M107.3 253.8h2M93.1 232.7h1.5M100.8 236.1h1.8M95.5 293.2h2.2M93.6 285.8h2.6M90.2 231.4h0.9M93.4 232.4h1.8M93.6 291.8h1.5M95 246.3h2.2M91.9 231.1h2.4M97.8 254h2.4M95.1 274.3h1.1M94.5 229.3h1.1M97.6 225.6h2.7M101.5 296.4h1.5M88.2 263.1h2.3M91.4 229h0.8M94.8 248h2.1M95.5 273.4h1.3M96.2 273.7h2.3M96.3 283.8h1M103.3 299.3h2.7M95.4 245h2.3" stroke="#d62728" stroke-width="2.2" style="stroke-linecap:round;stroke-opacity:0.55;fill:none"/><path d="M98.9 254.8h2.2M103.2 249.7h1.8M89.7 243.8h2.5M89.5 293.1h1.8M103.6 249.7h2.2M102.3 300.8h1.7M92.2 263h0.8M90.8 288.8h1.8M98.3 279.5h2.6M100.3 232.6h2.2M98.8 287.6h1M95.7 253.1h0.9M99.5 249.7h1.2M94.6 270.7h2.2M97.8 300.9h1.5M97.4 252h1.3M96.5 242.7h2.7M95.2 279.3h0.8M99.9 301.8h2.6M95.4 287.4h1.6M97.1 254.9h2.6M100.4 303.1h1.4M99 281.6h1.9M91.6 228.4h1.1M93.4 234.7h1.4M102.7 302.5h2.2M94.9 275.6h2.3M96.3 282.5h1.2M98.3 256.7h2.2M96.6 284.6h3M95.3 225.9h2.1M93.8 257.9h1.4M102.5 300h2.3M94.6 246h2.1M96.1 241h2.2M92.6 259.5h2.6M96.6 269.5h2.9M94.1 277.3h1.1M91.8 226.8h1.3M95.3 263.1h1.1M89.7 257.2h3M97.7 288.3h3M94.4 279.5h2.5M92.2 263h2.2M97.1 244.7h1.1M94.9 254.3h1.5M87.9 226.4h1.1M95.4 283.5h1.6M100.2 295.3h1M93.6 285.4h0.8M99.6 274.5h0.9M102.2 247.8h1.8M101 300.7h1.2M99 251.1h0.9M93 228.3h2.5M91.9 257.1h2.5M101.1 249.3h2.9M95.4 233h2.6M92.8 260.3h2.9M95.2 282h2.2M100.3 257.4h2M95.4 240.9h1.7M86 264.7h1.5M96.9 285.8h0.8M91.6 229.3h2.4M95.7 293.1h1.5M95.5 295.3h2.4M96.2 293.5h2.9M98.1 253h2.5M98.1 245.7h1.9M101.1 252.8h2M97.5 264.4h2.8M95.1 255.3h1.3M91.6 263.2h2.1M96.1 298.9h2.1M102 249.5h2.1M94.7 247.8h1.4M91.8 243.1h1.8M97.4 246.5h1.9M98.3 231.3h2.5M93.1 259.6h2.9M96.3 277.4h0.9M97.7 290.7h2.6M96.2 274.8h1.9M100.6 255.5h2.2M97.2 282.7h2M91.5 284.2h2.6M88.9 292h1.7M90.4 262.5h1.7M101.4 302.9h2M94.1 259.5h2.9M96.1 244.2h1.7M96.5 260.8h1.7M105.7 249.6h1.9M95 242.8h3M99.3 296.4h1.2M96.4 292.2h2.1M88.9 263.9h2.1M91.8 269.2h2.8M95.5 244.4h1.6M91.3 282.9h2.2M91.9 226.2h1.4M93.1 226.2h1.7M101.1 253.5h1M94.2 226.1h1.4M90.8 237.4h1.7M101.9 253.2h1.5M99.4 284.6h1.7M92.6 288.8h1.4M102 302h1.4M98.4 246.2h1.6M90.7 227.2h2.3M97.2 252.4h2.2M101.7 302.1h3M102.2 298.6h1.1M90.9 227.6h2.6M94.3 227.7h1M95.6 228.7h1.3M92.1 263.3h0.8M106.2 251.6h1.9M95.8 244.5h0.8M100.5 303.6h0.9M100.7 230.2h2.2M95.9 295.8h2.2M96.8 287.7h1M100.5 299.8h2.2M90.9 293.3h1.7M98.6 292.9h2.7M105.3 252.7h2.1M95 228.9h2M97.2 301.4h3M92.3 284.3h1.4M98.1 283.8h1.8M96.1 290.3h2.5M95.7 248.2h2.4M99.6 253h0.9M90.1 264.8h0.8M95.5 230.3h1.4M99.7 253.6h2.9M91.3 265.5h0.9M91.3 263.7h0.8M97.8 246.9h2.8M96.6 238.2h1.1M96.5 284.3h1.5M95 291.1h2.7M97.2 296.4h1.7M95.3 237h0.9M91 282.7h1.7M99.8 257.4h2.4M93.1 238.4h1.2M91.5 259.2h1.4M96.9 292.4h1.5M97.7 234.8h0.8M93.5 288.5h2.3M97 292.8h1M95.4 244h1.3M94.3 229.7h1.8M92.4 239.2h2.5M94.2 291.5h1M97.4 241.7h2.9M99.3 299.3h1.9M91.4 264h1.2M96.1 244.8h1.2M95.4 298.4h2M98.4 254.7h1M93.4 258.5h1.2M94.4 262.6h2.9M94.1 298.7h2.7M101 299.9h2.2M100.1 251.1h2.4M95.5 255.9h1M94.5 282h1.4M91.5 269.9h0.8M100.3 252.5h2.1M89.4 278.9h0.8M97.1 282.8h1M97.9 238.5h3M94.3 240.8h1M91.4 263.9h3M96.6 261.5h2M89.1 264.7h1.9M100.3 293.5h1.1M103.4 299.7h1.7M101.8 257.6h1.6M94.8 281h2.3M98.5 282.3h3M100.8 282.5h1.5M95.5 242.4h0.9M96.5 245h2.9M104.6 251.6h1.9M95.6 258.9h1.7M105.6 250.7h2.5M93.2 259.7h2.2M98.1 247.8h2M97.9 258.5h1.1M95.9 238h2.6M96.1 241.5h1.3M99.9 286h2.1M91.2 265.2h1.2M99.9 237.4h1.3M90.9 261.6h2.2M95.7 288.5h2.4M94.4 237.3h2.9M95.3 246.6h2.3M90.6 233.3h2.2M96 284.4h2.1M97.2 293.6h1.4M100.8 302h2.8M100.2 252.8h2.1M95.8 275.3h0.9M97.8 273.7h1.8M97 232.4h1.5M95.5 233.5h1.1M99.2 299.7h2.3M92.1 228.2h2.6M92.7 230.2h2.8M97.1 256.8h2.7M98.2 284.4h3M101.1 232.8h1.2M97.6 248.6h2.1M92.8 276.7h1.7M91.8 241.1h2.4M96.5 244.9h2.3M98.8 239.4h1M98.5 290.8h1.4M94.4 282.3h1.3M99.6 235.8h1M94.2 289.1h1.4M92.5 287.7h1.9M92.4 258.8h1.5M95.3 298.1h1.1M94.1 250.6h2.6M98.8 303.9h0.9M99 282.2h1.3M95.8 239.1h2.3M95.2 291.9h1.7M95.1 279.1h2.2M98.6 297.7h1M92 229.9h2.9M94.1 258.8h1.7M95.1 243.5h2.6M94.8 256.9h1.7M97.6 304.3h2.6M95.3 246.8h0.9M93.4 277.8h1.4M92.2 227.8h3M97.1 282.8h1M92.7 231.7h2.7M103.1 304.9h1.6M95.5 291.7h1.9M89.6 264.8h1.4M106.4 251.8h1.6M96.2 253.9h3M86.4 226.3h1.8M98.9 273.5h1.1M100.7 250.6h2.5M93.5 268.4h1.3M99.3 256.7h2M97.9 256.1h2.5M94.4 244.8h1.8M97.7 234.9h1M101.1 249.6h2.4M93.7 255.5h2.8M100.1 244.7h2.3M96.5 227.6h2.9M92.3 273.7h1.8M90.2 256.9h1.2M98.4 290.3h1.5M96.1 273.7h2.6M86.5 228.3h2.9M102.9 300.3h1.4M96.4 246.8h2.6M93.7 277.1h2.5M96.7 261.8h1.3M96.4 252.9h2.6" stroke="#d62728" stroke-width="2.2" style="stroke-linecap:round;stroke-opacity:0.55;fill:none"/><path d="M98.7 299.6h1.7M100.9 243.8h1.1M94.5 272.7h2M95.4 254.9h1.4M94.4 297.8h2M95.3 247h2.9M94.3 294.6h1.2M100.3 299.9h2M93.4 292.3h1.9M94.6 260.4h1.2M92.6 293.4h2.1M103.3 248.4h1.3M95 231.7h2.8M95.3 240.2h2.7M96.6 246.4h2M95.1 255.8h1.3M95.1 244.8h1.1M93.1 268.7h1.3M101.8 253.5h2M96.5 224.6h2.1M95.4 227.3h1.1M95.4 288.8h2.4M93.7 279.2h1.9M91.6 229.1h2.9M111.9 251.7h1.7M89.7 264.5h1.8M98.5 245.9h2.5M91.9 270.3h1.7M96.1 255.3h2.5M92.6 293.9h2M98.9 239.3h1.1M89.9 246.4h2.8M100.1 248.1h2.8M98.1 277.3h1.1M94.5 255.7h1.5M95.5 303.8h2M99.3 299.6h1M97.3 260.6h1.7M105.2 253.2h0.9M93.6 267.9h2M97.4 301h1.9M94.8 243.5h2.8M89.1 228.8h2.6M97.8 288h1.4M94.8 240.4h2.3M94.9 269.4h2.9M105.4 252.8h1.1M93.5 228.9h2M100.8 243.3h1.1M94.3 287h1.4M96.3 290.1h1.9M97.6 257.4h0.8M91.5 226.5h1.9M99.2 251.8h1.5M94.9 227.5h0.9M98.7 254.1h2M95.3 234.9h1.2M93.3 240.7h1.2M105.9 304.9h2.9M97.4 244.6h1.8M93.6 233.9h2M96.8 248.9h1M97.4 291.9h2.9M94.6 286.7h2.1M96.5 299.7h1.4M100.1 234.3h2.3M96 239.9h2.2M106.1 253.7h1.9M90.2 264h1.7M88.9 228.2h1M99 255.3h2.5M93.7 275.4h0.9M90.9 262.7h0.9M95.5 262.7h2.2M99.3 252.8h2.7M94.3 293.4h2.8M96.8 253h1.3M99.7 300.6h2.6M88.4 288.3h1.2M93.3 263.4h1.2M96.1 285.4h1.8M92.3 279.6h2.1M101 254.3h2M95.6 282.8h2.8M93.6 252.1h1.9M103.2 253.2h1.6M95.5 232.4h1.8M88.5 266h1.2M92.5 234.7h2.4M96.2 298.8h1.2M101.2 250.9h1.9M94.7 282.5h1M100.8 304.6h2.4M96.4 228.3h1.6M92.2 235.6h2.5M98.2 257.4h1.2M95.2 244.3h1.9M96.1 261.2h2.7M95.3 272.3h2.4M99.6 230.1h1.3M92.4 263.6h1M97.4 286.9h2.1M97 242.8h3M97.2 245h1.7M96.1 284.9h2.3M93.4 262h2.3M97.4 282.5h3M97.7 255.9h1.7M93.7 285h1M98.4 253h1M101.5 255.1h2.8M97.1 299.5h1.3M83.9 267.3h2.1M98.2 234.9h2.2M96.5 276h2.8M101.4 250.1h1.7M92.2 243.3h1.4M90.6 226.8h2.8M90.8 228.9h2.1M96.3 259.2h3M94.3 285.6h2.5M88.5 267.9h2.3M89 245.3h1.8M101.6 298.1h0.8M96.8 251.6h2.6M99.4 288.8h1.6M97 232.3h0.9M97.8 277.3h2.4M88.2 227.3h3M94.4 288h2.4M98.8 287.7h1.2M100.3 254.6h1.6M100 249.1h1.6M94.9 267.8h1.5M93.1 254.7h2.3M91.2 229.2h2.4M95.6 296.3h1.4M94.9 280.8h1.7M95.2 284.6h1.5M95.9 287.2h1.4M103 250.2h2.2M92.4 290.1h2.6M98.3 244.4h2.4M98.7 302.6h2.9M90.6 258.8h2.9M96.7 250.7h2.9M98.8 293.6h2.5M94.9 232.6h1.6M92.2 281.7h2.4M95.1 290.1h2.9M95 228.1h1.4M95.1 274.1h1.6M95.6 253h0.9M97.5 274.2h2.8M92.4 294.5h2.6M102.8 256.5h1.1M98.5 235.4h1.8M101.1 255.6h1.4M92.1 291.7h1.6M98.2 254.4h1.8M101.6 250.4h2.9M99.8 256.3h1.5M99.5 253.9h2.1M98.1 273.8h2.4M102.2 235.9h2.4M95.6 248.2h0.9M97.1 276.4h1.6M102.7 299.8h2.6M94.4 279.6h1.2M91.4 230.8h1.8M94.3 285.1h2.5M95.2 272.5h1.3M102.5 304.1h1.9M97 255.6h2.9M99.4 250.6h1M101.9 250.6h1.4M100.1 275.7h0.9M97.3 276.2h0.9M95.4 285h2.6M96.4 302.1h2M96.2 289.2h2.2M94.5 241.3h1.4M88.2 228.5h2.4M94.7 275.5h1.1M105.8 302.3h1.2M95.9 279.6h0.9M95.1 299.6h2.9M100.4 279.3h1.5M100.7 301.4h1.4M97.4 238.7h1.7M97.7 253.8h1.3M93 226.8h2.8M100.6 303.7h1.4M92.4 263h0.9M96.8 290.4h2.7M91.7 303.2h2.4M92.6 262.1h1.2M91.9 242.8h1.6M97.8 241.4h1.2M94.9 288.6h2.8M98.7 233.1h2.8M98 284.3h0.9M97.9 271.9h1.3M99.5 301.7h1.7M100.7 302.1h2.2M95.8 293.6h2.6M96.9 244.5h2.8M92.5 288.6h2.9M96.4 240.3h2.1M96.5 233.1h2.4M95 254.9h2.8M99.2 294.4h2.4M96.3 233.5h1.8M100.9 301.1h2.6M98.4 239.1h2.2M108.1 250.7h1.4M101.2 302.1h0.9M92.2 294.9h2.5M95.7 233.8h0.8M87.6 269h2.5M96.5 238.7h2.5M95.1 242.1h1.2M100.3 252.7h2.7M93.3 266.4h2M96 254.8h2.9M96.7 247.3h2.9M98.4 246.3h0.9M91.2 267.4h1.3M102.3 253.8h2.6M97.8 303.9h2M94.6 291.6h1.1M104.4 302.7h1.9M109.3 304.9h1.6M101.9 251.8h1.6M101.7 251.3h1M87.8 286.3h2.1M92.5 262.5h2.6M94 275.3h1.6M94.8 285.2h1.5M97.3 244.8h2.8M100.9 246.6h2.2M94.9 236h2.9M92 240.7h2.7M90.7 264.9h1.3M94.9 299.3h2.3M94.7 291.2h1.1M99.5 290.3h1.2M95.1 226.5h2.2M98.4 224.1h0.9M95 279.6h1.3M91.6 228.6h2.9M99.7 254.8h1.4M96.4 245h2.4M94.5 247.3h2.4M95.9 251.2h2M95.1 286.1h2.6M101.4 297.9h1.2M100.7 251.5h1.1M96.7 261.1h2.5M104.6 250.6h1.6M90.7 287.8h1.2M98 283.5h1.9M95.4 258.3h2.3M95.6 247.2h2M95.9 236h2.6M107.3 304.7h1.6M98.3 300.1h2.6M94 295.5h2.8M103.8 300.2h2.1M98.2 297.8h2.3M92.2 246.9h2.1M97.9 234.6h1.5M93 230.4h1.3M100.4 252.5h2.4M97.3 242.8h1.1" stroke="#d62728" stroke-width="2.2" style="stroke-linecap:round;stroke-opacity:0.55;fill:none"/><path d="M285.6 224.3L286.4 228.1L294.5 228.1L293.4 224.3Z" fill="#9467bd" fill-opacity="0.7"/><path d="M286.4 227.5L287.4 231.3L294.8 231.3L294.5 227.5Z" fill="#9467bd" fill-opacity="0.7"/><path d="M287.4 230.7L287.3 234.5L298.2 234.5L294.8 230.7Z" fill="#9467bd" fill-opacity="0.7"/><path d="M287.3 233.9L283.1 237L293.4 237L298.2 233.9Z" fill="#9467bd" fill-opacity="0.7"/><path d="M283.1 236.4L281.2 240.3L290.1 240.3L293.4 236.4Z" fill="#9467bd" fill-opacity="0.7"/><path d="M281.2 239.7L278.6 242.8L290.1 242.8L290.1 239.7Z" fill="#9467bd" fill-opacity="0.7"/><path d="M278.6 242.2L278.3 246L286.6 246L290.1 242.2Z" fill="#9467bd" fill-opacity="0.7"/><path d="M278.3 245.4L281.5 249.2L288.5 249.2L286.6 245.4Z" fill="#9467bd" fill-opacity="0.7"/><path d="M281.5 248.6L279.5 252.4L287.9 252.4L288.5 248.6Z" fill="#9467bd" fill-opacity="0.7"/><path d="M279.5 251.8L280.2 255.6L292.4 255.6L287.9 251.8Z" fill="#9467bd" fill-opacity="0.7"/><path d="M280.2 255L281.8 258.8L292.1 258.8L292.4 255Z" fill="#9467bd" fill-opacity="0.7"/><path d="M281.8 258.2L278.3 262L289.2 262L292.1 258.2Z" fill="#9467bd" fill-opacity="0.7"/><path d="M278.3 261.4L273.1 265.6L287.5 265.6L289.2 261.4Z" fill="#9467bd" fill-opacity="0.7"/><path d="M273.1 265L280.8 268.8L291.7 268.8L287.5 265Z" fill="#9467bd" fill-opacity="0.7"/><path d="M280.8 268.2L285.3 272L292.4 272L291.7 268.2Z" fill="#9467bd" fill-opacity="0.7"/><path d="M285.3 271.4L279.9 275.2L291.4 275.2L292.4 271.4Z" fill="#9467bd" fill-opacity="0.7"/><path d="M279.9 274.6L289.5 278.4L299.8 278.4L291.4 274.6Z" fill="#9467bd" fill-opacity="0.7"/><path d="M289.5 277.8L287.9 281.6L297.5 281.6L299.8 277.8Z" fill="#9467bd" fill-opacity="0.7"/><path d="M287.9 281L290.4 284.8L300.1 284.8L297.5 281Z" fill="#9467bd" fill-opacity="0.7"/><path d="M290.4 284.2L294 288L302.9 288L300.1 284.2Z" fill="#9467bd" fill-opacity="0.7"/><path d="M294 287.4L285.6 291.2L293.4 291.2L302.9 287.4Z" fill="#9467bd" fill-opacity="0.7"/><path d="M285.6 290.6L280.2 294.4L289.8 294.4L293.4 290.6Z" fill="#9467bd" fill-opacity="0.7"/><path d="M280.2 293.8L281.8 297.6L292.1 297.6L289.8 293.8Z" fill="#9467bd" fill-opacity="0.7"/><path d="M281.8 297L279.6 300.8L290.4 300.8L292.1 297Z" fill="#9467bd" fill-opacity="0.7"/><path d="M279.6 300.2L282.1 304L290.5 304L290.4 300.2Z" fill="#9467bd" fill-opacity="0.7"/><path d="M282.1 303.4L280.8 307.3L292.2 307.3L290.5 303.4Z" fill="#9467bd" fill-opacity="0.7"/><path d="M280.9 253.3h1.5M289.7 255.8h2.3M282.2 297.3h1.9M282.1 297.1h2.8M285.4 242.8h1.2M282.8 302h1.1M293.1 287h1M280.6 296.2h1.3M285.4 236.8h2.4M291.3 298.1h1.2M290.5 260.5h2.2M293.9 231.6h2.8M291.4 275.2h2.2M290.5 228.4h1.3M291.4 234h2.5M285.1 254.9h2.6M285.1 302h2M287.8 300.1h1.6M296.7 283h2.1M281.6 262.2h1M288.7 232.1h2.3M281 301.8h1.3M291.1 284.9h2.2M284.2 268.5h1.5M294.1 277.5h1.6M290.9 269.1h2.8M290.4 226.4h1.6M281.4 257.1h2.5M283.8 259.4h1M282.1 265.6h2.3M281.5 296.3h1M284.2 274.3h1.9M288.1 230.3h2.8M296.5 284.9h1.4M288.5 269h1.4M292.8 227.2h2.8M280.7 258.9h1.7M286.1 256.3h2.2M284.4 301.5h2.4M276.7 260.4h2.4M296.2 277h2.9M287.1 256.9h2.9M286.4 256.2h1M283.2 254h0.9M284.6 241.5h2.4M279.2 243.2h1.2M286.1 275h2.3M290.7 235.5h1.1M288.5 239.1h1.8M282.4 268.2h1.8M287.4 226.9h1.8M286 272.9h2M285.9 259.9h1.1M285.2 298.5h1.8M277.5 249.5h3M294 233.9h0.9M281.2 295.1h2.5M290 303.2h2.1M286 225.2h1.2M289 253.6h2.3M283 279.5h1.5M285.7 292.8h1.9M299.1 287.6h1.3M282 242.9h3M290.4 235.4h2.9M284.8 275.4h1.9M287 304.8h1.9M284.8 261.4h1.7M281.7 249.8h2.1M275.3 265.7h2.2M281.8 260.2h2.5M287.8 234.7h1.1M278.6 241.9h2.8M290.6 233.1h1M283.3 259.2h2.9M285.3 295.6h1.3M289.1 303.9h1.9M287.1 274.1h2.6M289.7 248.5h1.6M294.9 234.2h1M284.3 270.5h2.3M293.4 283.6h2.4M285.4 229.7h1.7M289.2 254.9h2.2M285.6 291.1h2.7M283.5 246.8h0.8M287.9 268h2.2M284.9 274.9h2.2M286.8 267.6h1.8M287.4 263.2h1.2M290.8 258.1h1.5M294.6 282.4h1.7M282 243.1h2.6M281.1 304.3h2.4M278.7 263.5h1.9M282.4 265.1h1.5M297.7 234.6h2.7M283.6 264.4h0.9M297.6 234.2h1.6M287.3 297.2h1.5M291.3 232.9h1.9M276.1 266.2h0.9M290.4 241.2h1.7M285.2 236.2h1.1M285.3 239.6h0.9M290 235.4h3M292.3 297.3h2.6M287.8 285.1h1.5M298.3 289.1h2.2M284.2 303.8h1.3M290.8 232.9h2.8M286.6 259.6h2.2M289.8 229.3h1.8M268.4 264.9h1.4M293.1 289.7h1.8M281.8 262.1h2.4M282.9 241h2.5M291.5 285.9h0.9M286.9 260.5h2.9M285 241.4h1.9M281.7 240.6h2.8M284.4 259.7h0.9M280.9 261.3h2.7M274.7 294.5h2.1M295.4 288.3h1M279.9 265.8h0.8M283.1 305.4h1.3M281.4 304.8h2.8M285.1 261.7h2.2M290.7 277.3h1.5M293.1 225.3h1.5M273.4 267.4h2.4M294.3 280.2h1.7M289.5 258.5h1M282.5 293.3h2.2M292 255.3h1.9M291.3 282.9h2.7M286.8 259.3h1M281.1 293.7h2.3M286.7 297.1h2.5M281.8 293.8h1.9M276.7 248.9h2.6M290.8 232.8h2.8M285.1 267.8h2.4M279.6 262h1.2M285.4 292.1h1.1M289.7 290.5h2M290.6 283h3M288.7 270.1h2.9M274.9 295h1.8M286.6 293.3h2.2M283.8 247.6h1.5M278.7 267.2h2.2M287.3 275.8h0.8M282.1 254.9h2.8M286.3 256.5h2.8M278.3 240.3h2.3M280.9 262.1h1.1M284.6 248.7h1.4M291.9 283.2h2.7M287.4 245.5h1.5M296.2 287.5h2.5M278.9 265.2h2.7M287.8 249h2.4M278.8 245.2h1.5M283 259.4h2.2M290 241.9h2.7M277.2 251.1h2.4M287.8 275.3h2.6M287.4 229.2h2.7M283.6 306.3h2M288.1 275.6h2.3M289.6 291.9h2M273 244.3h3M288.3 306h1M291.6 277.1h0.9M285.8 231.4h2.6M296.3 225.6h2.5M284.8 242.5h2.2M287.8 295.5h0.8M285.3 238.4h1.5M279.2 262.4h2.7M283.7 265.9h1.1M284.1 281.7h0.9M294.3 236.5h3M280.2 266.2h2M288.8 239.5h1.1M287.4 246h1.6M286.8 233.9h2.7M279.4 236.4h2.7M283.8 302.4h1.4M295.3 284.1h2.5M285.8 228.4h1.5M281.5 241.6h1.2M282.8 269.1h2.1M279.8 260.5h1.6M284.1 305.8h2.5M287.1 227.6h2.8M285 264.9h2.9M290.1 259.4h2.5M289.8 283.2h1.6M293.4 287.9h1.6M288 261.9h1.2M288.5 242.2h1.8M288.6 273h2.4M287.1 274.9h0.9M285.1 268.8h1M281.3 297h2.3M285.7 259.2h1.4M270.7 265.3h2M291.8 284.4h2M286.7 255.5h1.2M282.8 302.8h2.7M289.7 304.9h1.8M282.5 298.9h0.9M281.2 255.4h2.7M284.6 260.5h2.4M283.7 266.5h1.2M277.7 237.2h2.6M279.5 257.1h1.1M277.2 264.8h1.9M284.5 266.5h2.3M289.1 304.3h3M293.4 277.7h2.9M288.8 236h2.7M281.8 275h2.8M291.6 231.1h1.1M283.4 238.9h0.9M284.3 235.5h1M291.8 301h2.3M287 246.1h0.9M281 267.9h1.2M287.4 256.6h0.9M296.8 279.5h2.2M292 237.9h2.3M279.2 262.6h1.3M281.7 301.6h1.3M281.2 256.1h2.9M289.2 274.9h1.8M304 285.5h1.4M287.6 296.5h2.3M289.6 225.3h2.4M288.3 290.5h1.9M282 247.2h1M280.8 267.1h1.4M288.2 292.4h2.6M288.1 232.5h1.4M281 275.3h1.2M285.9 306.6h1.4M296 287.4h2.4M292.4 232.3h2.8M286.6 305.3h2.7M281.8 273.3h2.8M281 253h2.8M280.4 265.4h2.9M294.1 278.2h2.7M286.8 257.1h2.2M294.8 235.8h1.5M267.3 265.4h3M281.6 249.7h1.3M285 295.2h1.5M288.5 284.8h2.5M284.5 236.8h1.8M291.6 277.2h0.9M292 235h2M277.4 255.9h2.7M274.3 265.3h2M279.8 262.3h2.5M286.6 304.6h1.2M292.9 284h2.5M287.7 248.8h1.5M274.8 294.5h1.6M301.3 277.8h2.4M280.2 261.9h2M281.9 264.6h1.8M292.9 297.7h1.6M287.1 298.7h1.5M285.1 246.3h2.7M287.9 279.8h2.1M270.6 236.1h2.5" stroke="#9467bd" stroke-width="2.2" style="stroke-linecap:round;stroke-opacity:0.5;fill:none"/><path d="M288.2 298.1h2.9M292.5 279.2h1.8M291.2 234h2.4M284 247.9h1M282.1 260.6h1.9M285.7 258h2.3M287.2 258.2h2.5M279.2 306.9h2.2M287.6 255.7h1.8M291 269.4h2.8M287.3 270h1.2M285.5 225.9h2.3M284.6 267.7h1.7M285.3 292.4h0.8M290.1 300.1h3M293.8 282.6h2.5M291.8 227.4h2.7M288.9 274.6h1M280.7 243.2h2.6M279 263.9h1.8M282.9 237.5h1.4M291.8 281.5h2M281.6 296h2.7M284.4 295.2h2.9M285.9 294.2h1.9M284.7 303.4h2.5M285.8 255.9h2.6M289.5 305.9h2.2M292.7 239.9h3M278.4 245h1.8M290 270.7h1M285.2 260.3h1.8M288.5 281.7h2M288.2 241.5h2.5M288 226h2.6M287.9 254.4h0.9M290.6 233.8h1.3M279.7 275.4h1.1M285.3 301.9h2.8M284.1 237.3h1M278.2 246.5h2.7M281.9 305.2h1.2M287.5 294.4h2.7M280.6 267.4h1.9M286.5 226.9h2.6M283.5 246.6h2.9M283.6 240.3h3M298 286.5h1M289.2 301.8h2.7M282.2 252.3h2.4M295.3 285.6h1.6M293.5 228.3h1.3M289 274.1h2.2M277.2 274.3h2.3M280.7 261.3h1.1M286.8 253.8h2.4M282.5 302.9h2M292.5 272.1h2.3M286.2 260.5h2.6M279.2 303.6h1.8M285.5 229.5h2.8M284.5 276.8h2.1M293.2 277.9h1.4M278.4 297.7h1.6M281.7 275.6h1.5M271.5 265h2.9M286 254.1h2.2M280.1 262.6h2M295.5 288.8h2.8M284 294.4h2.1M281.6 247.5h1.9M281 249.9h1.8M279 265.2h2.7M288.8 277.2h1.9M293.8 236.1h1.6M298.1 287.7h1.2M296.1 281.9h1.4M281 252.2h2.5M293.3 279.5h1.3M283.6 306.8h2.7M288.3 240h2.6M284.9 237.5h1.3M293.9 259.3h1.1M287.9 261.9h2.7M293.6 269.2h2.1M276.4 244.1h2.7M294.3 228.3h2.9M281.6 250.6h1.2M289.4 239.9h2.2M283.7 244h1.4M282.3 275.8h1.9M285.4 253.5h1.1M285.7 247.5h2.6M288.8 278.4h1.7M293.4 297.2h1.1M288 251.1h1.1M288.5 289h1.7M292.9 260.8h1.5M283.6 276.2h2.3M281.2 273.6h1.2M286.3 280h1.5M283.4 301.5h2.8M282.8 251h1.6M279.5 256.5h1.1M282.6 296.7h1.2M291 278.9h2.8M288 260.1h1.2M289.6 255.5h1.3M293 254.8h2.1M291.3 244.8h1.6M293 279.7h0.9M280.6 258.7h1.7M296.4 281.3h1.3M292.2 278.3h1.7M284.5 302h2.1M286.7 248.3h1.9M289.5 236.2h1.1M275.3 295h2.3M285.4 272.5h1.3M294.4 280.9h2.6M291 290.1h1.9M287.1 298.1h0.9M287.8 260.7h3M287.7 248.7h1.3M281.6 249.5h0.8M281.6 293.4h2.7M284.9 295.5h1.7M289 285.8h1.6M295.1 281.6h2.5M287.3 228.1h3M290.7 275.5h1.1M290.5 231.7h2.5M290 250.3h3M292.3 278.6h2.9M297.1 232.8h1.5M290.1 300.7h0.9M292.6 232.9h1.9M286.8 259.7h2.2M294.6 277.5h1.3M287.4 251.1h2.1M294.2 262.4h0.9M286.7 247.9h2.7M279.8 306.4h1.6M285 244.7h0.9M291.8 281.7h1.4M293.1 229.2h2.8M278.5 275h1.2M293.9 276.6h1.4M278 299.9h1.5M294.4 285.8h1.8M293.9 289h1.2M280.6 240.6h1.3M288.2 292.2h2.5M290.4 227.1h2.1M295 235h1.3M281.5 248.6h3M285.2 294.2h1.6M282.5 241.2h2M293.5 285.8h2.2M274.7 295.3h3M282.6 294.4h2.3M279.9 256.7h2.7M292.8 284.3h1.7M284.8 242.7h1.5M291.5 292.7h2.5M280.9 273.3h2.1M285.3 290.2h1.8M280.3 261.5h1M293.7 280.2h1.8M289.9 236.6h1M280.7 301.4h2.4M291.7 235.7h1.3M281.8 261.4h2M285.8 296.6h1.8M291.6 283.4h0.8M278.3 240.7h2.9M287.2 243.8h1.2M265.4 265.3h2.4M281.9 266.5h2.8M280.2 267.2h1.8M283.9 302.7h1.5M288.4 267.5h1M293 229.7h1.5M279.1 265.9h1.8M295.2 281.8h1.7M289.8 280.5h1.3M281.8 300.9h2.2M293.3 278.4h2.5M291.9 306.2h1.7M298.7 286.4h1.3M284.9 232.9h1.5M283.9 226.3h1.2M288.1 237.8h2.9M279.4 241.8h2.7M288.5 254.7h1M285.4 239.3h1.1M288.3 259.7h2.6M282.8 294h1.9M284.2 263.1h1.5M288.6 279.7h2.8M280.6 301h1.7M296.6 282.5h1.7M284.7 238h2.7M277.5 269.9h2.4M300.2 285.7h2M286.7 250.4h0.9M286.5 261.8h1.9M282 250.1h2.6M292.7 235.7h2M287 261.7h1.2M283.2 254.4h2.2M281.5 251.1h2.5M291.2 277.7h1.9M278.9 296.5h1.9M290.1 290.8h2.5M280.3 242.8h1.5M292.3 295.9h1.4M287.8 302.2h1.7M279.2 295.8h1.6M281.7 245h2.3M278.8 261.6h2.5M298.7 287.1h1.9M295.1 232.8h2.8M286.4 240.3h2.7M278.8 264.1h2.7M281.8 269.8h2.4M290.1 305.8h2.9M291 232.7h1.4M281.7 237.7h2.3M284.9 254h1.7M282.7 293.3h1.8M282.1 255.1h2.9M292.3 271.6h2M287.5 230.6h2.1M288.9 238.8h1.1M294.2 255.8h2.5M284 295.2h1.4M282.7 266.3h1.8M289.8 290.6h1.3M282.6 240.7h2.2M288 270.8h1.3M283.8 241.6h2.1M285.4 251.1h1.7M283.2 294.5h2.1M286.8 278.2h2.7M291.2 257.2h1.9M300.2 279h2.1M291.1 267.5h2.1M289.3 224.6h1.2M287.9 306.6h2.6M286.5 237.3h1.9M285.6 280.8h2.7M283.4 255.5h0.9M295.8 279.2h1.9M294.5 231.8h1.5M285.3 237.1h1M284.2 251.1h2.9M275.7 264.1h2.3M288.5 272.7h2.7M295.2 287.8h2.1M282.5 247.9h1.6M284.8 302.4h1.9M284 239.2h1M290.8 295.9h2.2M289.3 270.1h2.3M291.1 289.9h2M293.9 306.9h2.5M285.5 253.6h1.5M292.8 289h2.8M293.5 232.1h2.3M276.1 297.4h1.3M292 276.1h2.3M283.7 246h2.3M288.6 282.9h2.8M284.3 255.2h1.9M290.8 273.8h1.3M283.8 254.5h1.1M278.2 254.1h1.5M280.5 242.7h1.7M297.4 288.7h2.4" stroke="#9467bd" stroke-width="2.2" style="stroke-linecap:round;stroke-opacity:0.5;fill:none"/><path d="M296 287h0.9M275.4 254.4h1M268.5 236.1h2.4M285.4 249.9h1.2M293.9 265.8h0.9M284.1 237.1h1M283.5 256.8h2.2M290.5 225h2.1M281.3 227.3h2.9M287.5 273h1.1M287.7 293.6h2.3M285 261.9h1M285.1 254.4h2.6M280.3 251.7h1.9M284.7 250.7h0.9M284.8 252.8h0.8M285 293.3h2.9M290 269.9h1.8M289.6 267.1h2.8M281.4 298.8h1.1M284.1 276.1h1.8M297.6 236.3h2.3M274.2 264.6h0.9M282.9 249.4h2M282.7 246.4h2.9M285.4 224.6h1.4M295.9 279.1h1.4M296.7 282.8h1.4M283.1 296.4h2M281.8 248.5h1.5M296.6 277.1h2.1M286.8 229.6h2.9M290.1 237.4h1M277.2 275.8h2.9M298.1 286.2h2.5M293.6 232.1h2.2M300.3 286.8h1.6M277.2 302.7h2.5M277 262.3h1.1M284.3 235.8h0.8M287.1 280.2h2.1M290.9 284.5h1.3M282.8 243.4h1.4M278.4 269.2h1.5M286.7 301.2h1.5M283 267.5h2.1M285.1 266h2.7M290.8 231h2.8M278.9 243.9h1.9M288.8 306.1h1.1M284.4 257.2h1.6M287.5 300.8h2.9M294.7 287.3h1.1M282.2 275.5h2.6M284 252.8h2.1M280.6 257.1h2.5M282.5 249.4h2.6M279.9 241.2h2M291.9 289.5h2.6M285.7 236.4h2.6M280.6 265.7h2.6M295.8 281.8h2.7M285 256.1h1.1M289.6 254.8h1.9M288 269.7h3M294.4 288.3h1.4M285.8 249h1.5M291.9 278.1h2.7M287.4 236.6h2.5M284.2 271.4h2.6M286.4 248.1h2.7M282.9 303.4h3M283.7 253h1.1M282.5 263h2M282.5 246.9h1.7M286.9 269.2h1.7M291.7 280h2.7M281.7 306.9h3M296.5 289.3h2.3M291.9 277.9h0.9M285.5 285.1h1.7M288.7 234.5h2.9M288.9 271.4h1.9M289 273.4h1.3M285.2 296.1h1.1M289.8 235.9h1.2M282.6 237.3h1M285.2 253.7h2.6M286.6 232.4h2.3M282.6 248.5h2.2M306.9 236.1h2.5M276.9 264.4h1.8M290.5 238.1h2.5M285.5 258.1h2.6M288.8 292.7h2.3M287.8 230h1.2M282.4 245.3h2.9M278.7 246.3h1.9M289.1 281.5h2.4M288.1 301.9h1.4M290.7 227.6h1M287.6 241.6h0.9M288.8 278.3h0.9M295.7 233.6h2.9M263.7 265.4h1M282.8 249.8h1.1M288.9 277h2.8M284.5 249.3h0.8M284.5 251.1h2.6M285.4 292.2h2.5M281.2 255h2.8M280 263.4h2.2M286 293.4h1.4M293.9 285.2h3M295.1 278.1h2.5M286.5 274.7h1.4M291 282.9h1.4M283.4 299.9h2.5M290.5 270.6h2M285.4 237.9h2.8M296.3 282.8h1.6M272 265.6h1.2M292 284.2h2.4M292.1 299.3h0.9M291.1 230.6h1.5M282.9 297h1.7M281.4 244h2M284.4 298.2h1.9M281.9 305.8h2.8M280.8 300.7h2.6M296.5 287.4h1.2M288.1 304.2h1.1M282.1 305.4h2.3M284.4 297.6h1.6M288.7 233.5h3M285.1 265.4h1.5M286.1 302.5h1.2M289.2 255.9h1.6M283.4 290.9h2.3M283.9 256.4h2M290.4 238.8h1.3M288.5 231.6h2.8M293.1 233.1h2.9M276.2 264.5h2.6M283.7 297.1h1.5M294.8 279.4h0.9M286.9 280.8h2.2M289.2 234.6h2.3M280.1 257.5h2.8M286.7 267.7h0.9M284 292.1h1.3M295.7 286.8h2.9M283.4 241.7h3M294.8 282.8h1.6M283.3 301.9h2.7M284.3 269.7h2.6M294.5 286.5h1M278.3 300.3h2.5M289 239.3h1.7M277 302.5h1.5M276.8 265.9h2.4M290 272.1h1.7M295.2 288h2.7M277.3 253.5h1.4M285.8 236.5h1.3M287.5 261.8h1M275.2 245.8h2.7M288.7 295.4h1.6M294.8 286.8h0.9M275.5 244.8h2.9M272.3 264.9h1.1M284.5 271h1.3M287 271.5h2.3M288.9 239.2h2.9M291.6 228.6h2.9M285.2 290.9h3M283.1 292.3h1.6M284.1 243.1h1.6M284.4 234.8h0.9M282.3 298.3h2.5M283.7 242.2h2.7M288.5 235.9h0.8M285.9 251.1h1.5M292.7 278.4h2.8M288 226h1.7M290.1 227.6h2.5M290 292.5h1.7M282.6 267.4h2.9M285.6 298.8h1M285.4 274h2.4M284.4 250.7h2.9M286.6 271.1h2.5M286.8 258.9h2.7M283 257.4h1.5M286.9 292.4h2M284.8 248.6h1.9M280.3 261.5h0.9M286.2 291.2h2.5M288.5 230.2h0.9M293.1 276.1h1.3M293.2 233.3h1.4M293.6 254.6h2.9M286.6 227.3h2.8M278.1 262.5h1.6M295 233h1.6M283.1 260.5h1.2M292.8 285h1.4M281 245.4h1M293.8 289h2.8M290.5 228.2h1.6M299 284.3h1.2M276.5 265.9h1M283 248.2h1.1M278.1 242.6h0.9M293.6 235.1h1.7M287.7 265.9h2.6M291.7 285.5h2.8M284.2 249.1h1.3M289.5 271.7h1M294.7 230.1h1.6M291.4 272.4h0.8M296.3 236.1h2.6M298.9 287.8h1.5M290.8 263.9h1.5M283.8 263h2.7M288.6 235.5h2.9M289.8 229.6h2.8M281.7 268.9h1.9M290.1 274.2h1.5M295.9 279.9h1M281.4 260h2.9M291.9 281.8h0.9M291.1 277h2.6M286.9 281.1h2.7M286.8 258.9h2.6M267.3 265.1h2.7M276.8 244.3h1.7M277.4 262.5h2.7M280 254.1h1.6M284 246.8h2.9M286.7 270.7h0.9M290 280.3h2.7M290.2 267.9h1.6M292.1 274h2.1M288.7 277.1h0.9M286.1 237.8h0.8M287.9 296.6h1M299.1 284.3h1.3M291.1 224.6h1.5M284.2 253.5h2.2M285.4 270.1h1.7M292.9 289.1h2.2M287.5 235.7h1.4M285.1 245.7h1M298 285.6h2.5M286.5 260.5h2.1M279.1 265.4h2.7M292.9 281.6h2.8M293.3 279.4h1.8M289.7 230.5h1.2M288 238.2h1.2M301.6 285.5h1.8M282.9 262.1h1.4M282.7 250.2h2.4M290.4 234.8h1.8M301.8 286.5h2.1M284.8 264.6h1.6M290.9 234.5h2.5M291.1 301.5h1.9M283.4 268.1h2.7M286.3 292.5h1.8M291.7 304.9h2.7M284.6 295.2h2.6M284.3 267.8h1.4M276.8 264.8h1.4M272.5 266.2h3M300.4 284.1h1.7M288.9 238.4h2.2M287.9 298.7h2.8" stroke="#9467bd" stroke-width="2.2" style="stroke-linecap:round;stroke-opacity:0.5;fill:none"/><path d="M274 264.5h2M284.6 296.2h0.9M284.9 266.7h1.7M291.5 232.9h2M285.2 270.8h2.9M282.7 301.3h2.9M284 264.5h1.4M293.7 234.5h1M299.5 287.4h1.9M293.2 278h1.7M296.8 288.1h2.5M281.8 257.2h1.9M299.8 287.4h1.2M292.9 284.5h1.7M292.8 289.5h1.2M286.4 250.1h2.5M281.4 297.6h2M281.9 253.6h2.5M278.9 246.4h1.1M279.5 274.7h3M285 263.3h1.8M282.1 241.1h2.2M281.3 259.6h2.5M283.4 292.7h2.3M280.3 245.7h2.9M283.1 247h1.1M284.7 269.3h2.5M295.3 233.4h2.9M282.5 295.6h2.5M285.4 252.3h2.6M286.8 242.6h1.1M288.8 268.7h1.3M295.2 291.5h3M288.1 233.5h1.5M290.1 226.9h2.2M296.3 278.5h2.1M295.2 289.2h3M276.5 260h1.5M283.5 304.3h1.4M290.2 306.1h1.9M284.5 302.9h2.6M278.6 294.1h1.4M288.7 269h1M283.3 259.2h1.3M282 273.1h2.4M280.7 263.8h1M286.3 239h2.1M280 270.1h2.9M284.1 259.6h2.8M291.8 230.6h1.4M281.1 252.3h0.8M294 294.9h0.9M287 291.6h2.5M281.6 243.9h2.6M291 254.1h1.1M281.1 254.2h2.2M292.8 275.5h1.2M293.9 253.4h1.5M287 303.3h2M279.1 294h2.9M288.2 234.2h0.9M286.3 227.1h2.4M271.6 264.6h2.7M285.8 305.9h1.8M287.3 237.4h2.8M279.5 239.9h1.6M287.3 253.3h0.9M291.6 270.9h1.7M286 299.4h1.9M285.6 266h2.1M283.1 297h0.9M283.8 239.9h0.9M289.9 259.5h1.1M291.3 238.7h1.1M285.3 251.5h1.3M285.7 259.8h2.2M296.5 288.3h1.6M287.7 291h2.7M281.2 236.6h2.7M297.1 279.8h2.8M283.4 249.5h2.7M284.9 293h3M290.2 240.4h2M287 230.3h1.7M288.1 260.1h1.7M289 235.2h1M288 229.1h1.2M300 277.8h2.9M286.9 230.7h2.4M286.7 250.9h2.7M277.9 265.3h2.7M291.7 236.6h2.6M281.8 296.8h1.6M277.9 256.9h0.9M280.6 301.3h1.8M282.4 304.8h3M290.8 276.2h1.1M283.4 268.6h2M278.7 237.2h1.2M284.9 239.6h2.6M284.9 233.1h2.7M287.3 250.8h1.1M288.9 273.8h2.2M292.4 232.4h3M287.3 298.3h1.5M290 232.8h1.9M291.5 227.4h1.8M284.9 240.5h1.6M287.2 268.5h1.9M286.3 303.5h1.2M285.7 300.9h1.9M293.8 288.5h1.8M285.3 254.6h2.9M283.1 242.6h1.7M262.7 265.1h2.8M289.7 262.9h2.4M283.7 306.1h2.8M286.2 305.6h2.9M278.8 295.1h2.7M281 267.3h1.8M282.6 259.9h2.3M288.9 237.9h1.2M273.6 265.6h2.9M284.8 259.9h2.7M284.9 258.7h1.9M283.7 299.7h2.6M282.6 240.3h2.2M295.7 287.7h0.9M284.5 293.5h1.5M288.1 297.9h0.9M283.6 260.2h2.2M286 305.1h2.7M275.9 275h1.1M285.1 295.2h1.1M283.8 302.6h0.9M291.7 275.6h1.9M286.3 247.8h2.9M286.3 229.9h2.9M287.9 280.6h2.3M295.8 289.3h1.5M284.7 294.2h2.7M292.7 280.1h0.8M289.5 281.4h1.9M279.4 265.2h2.1M286.2 229.1h3M284.3 266h1.6M289.7 282.6h3M288.6 230.5h1.7M295.3 289.1h2.9M277.9 293.7h2.1M291.7 280.6h1.5M282.1 263.1h2M281.7 242.4h2.2M294.8 281h1.7M280.6 246.4h1.1M290 291.9h0.9M286.4 247.8h2M290.3 230.2h2.9M280.2 239.6h1.1M284.9 306.4h1.4M282.8 241.6h2M293 293h1.2M299.7 284.3h1.8M287 227.3h2.7M295.3 277.8h1.8M290.5 266.9h2.6M288.4 242h2.9M281.6 250.5h2.8M294.8 283.9h1.6M290.9 285.2h2.4M288.9 227.3h1.6M296.9 286h2.5M292.5 232.6h2.2M282.8 257.7h2.3M285.6 237.9h1.4M277.4 262.4h1.5M284.5 266.1h2.8M292.3 287.5h2.6M282.2 245.1h1.5M280.8 303.9h2.4M297.4 234.1h1M277.1 266.9h1.5M286.7 256.5h1.7M287.3 273.9h2M280.3 251.2h2.3M293.2 300.6h1M279.3 255.2h1.8M288.3 303.2h1.3M283.2 261.4h2.9M290.3 298.2h0.9M286.2 293.5h1.5M279.7 256.9h1.4M294.3 276.2h1.1M284.6 306.2h1.4M289 239.6h1.2M286.8 273h2.1M278.3 263h2M282.5 250.9h2.3M281.4 273.4h3M282.1 299.9h1.6M292.5 224.6h2.7M299.6 287.2h2.3M286.6 292.4h2.5M286.6 232.3h2.3M297.4 234.6h0.9M287.4 236.2h2.9M294.5 287.4h2.1M286.8 227.3h2.9M286.9 256.6h2.9M284.3 247.1h0.9M287.6 226.8h1.4M291.3 229.6h1.8M290.2 273h2.7M277.4 266.8h1.1M291.7 277.6h2.1M282.8 295.8h1.3M288.9 273.5h1.7M293.3 285.2h1.5M288.7 231.8h1.1M286.8 291.1h2.7M282.5 248.3h2.3M288.3 278h2.8M291.4 295.1h1.2M284.5 258.1h2.2M276.6 245.3h2M286.4 280.9h2.8M287.4 301.2h1.2M282.5 239h1.3M289 238.2h1.7M293.1 229.9h3M289.2 298.2h1.3M281.4 242.9h1.9M269.1 236.3h1.4M292.4 299h0.9M281.8 297.3h2.6M289.5 257.5h1.8M280.8 237.3h1.6M289 280.4h2.8M286.7 238.6h2.2M279.9 294.4h2.9M294.2 230.8h1.2M280.2 294.5h2.5M277.5 267.8h1.1M283.3 302.6h2.5M285.2 302.5h1.8M286 247.2h2.8M277.9 299.9h1.6M293.6 285.1h2.6M289.9 286.4h1.6M285.4 254.2h1M281.7 305.5h2.2M277.4 261.7h1.3M287.4 255.3h2.5M283.8 254.6h2.5M287.5 290.5h1.6M284.1 242.9h1.2M272.6 265.9h2.6M297.7 279.9h2.8M287.9 226.9h2.9M291.4 278.8h2.5M285.3 271.2h1.2M283.2 241.6h2.7M282.4 255.1h1.7M282.1 296.2h1.9M284.7 225.8h1.4M287 228.9h2.5M296.4 277.6h2.9M282.9 295.5h1.6M284.6 261h1.2M291.6 286h1.8M295.1 284.5h1.2M286.2 227.8h1.1M293.9 296.1h1.8M288 224.9h1.8M274.1 265.8h0.8M280.6 267h2.9M281.4 265.6h3M279.5 272.1h2.6M293 228.6h1.5" stroke="#9467bd" stroke-width="2.2" style="stroke-linecap:round;stroke-opacity:0.5;fill:none"/><path d="M466.9 224.2L466.9 226.1L476.8 226.1L476.8 224.2Z" fill="#8c564b" fill-opacity="1"/><path d="M466.9 225.5L467.6 229.3L476 229.3L476.8 225.5Z" fill="#8c564b" fill-opacity="1"/><path d="M467.6 228.7L467.3 232.6L475 232.6L476 228.7Z" fill="#8c564b" fill-opacity="1"/><path d="M467.3 232L467 235.1L474 235.1L475 232Z" fill="#8c564b" fill-opacity="1"/><path d="M467 234.5L467.6 238.3L476 238.3L474 234.5Z" fill="#8c564b" fill-opacity="1"/><path d="M467.6 237.7L469.3 241.5L475.6 241.5L476 237.7Z" fill="#8c564b" fill-opacity="1"/><path d="M469.3 240.9L472.7 244.7L481.1 244.7L475.6 240.9Z" fill="#8c564b" fill-opacity="1"/><path d="M472.7 244.1L472.4 247.9L480.1 247.9L481.1 244.1Z" fill="#8c564b" fill-opacity="1"/><path d="M472.4 247.3L469.9 251.1L477.6 251.1L480.1 247.3Z" fill="#8c564b" fill-opacity="1"/><path d="M469.9 250.5L474 254.3L482.4 254.3L477.6 250.5Z" fill="#8c564b" fill-opacity="1"/><path d="M474 253.7L475.6 257.6L484.7 257.6L482.4 253.7Z" fill="#8c564b" fill-opacity="1"/><path d="M475.6 257L473.2 260.8L483.1 260.8L484.7 257Z" fill="#8c564b" fill-opacity="1"/><path d="M473.2 260.2L469.7 264L480.3 264L483.1 260.2Z" fill="#8c564b" fill-opacity="1"/><path d="M469.7 263.4L467.1 266.2L477.7 266.2L480.3 263.4Z" fill="#8c564b" fill-opacity="1"/><path d="M467.1 265.6L469.4 269.4L479.3 269.4L477.7 265.6Z" fill="#8c564b" fill-opacity="1"/><path d="M469.4 268.8L469.1 273.3L478.3 273.3L479.3 268.8Z" fill="#8c564b" fill-opacity="1"/><path d="M469.1 272.7L468.4 277.1L479 277.1L478.3 272.7Z" fill="#8c564b" fill-opacity="1"/><path d="M468.4 276.5L470.9 280.3L477.9 280.3L479 276.5Z" fill="#8c564b" fill-opacity="1"/><path d="M470.9 279.7L472.4 283.5L480.1 283.5L477.9 279.7Z" fill="#8c564b" fill-opacity="1"/><path d="M472.4 282.9L472.1 286.7L479.1 286.7L480.1 282.9Z" fill="#8c564b" fill-opacity="1"/><path d="M472.1 286.1L472.7 289.9L481.1 289.9L479.1 286.1Z" fill="#8c564b" fill-opacity="1"/><path d="M472.7 289.3L474 293.1L482.4 293.1L481.1 289.3Z" fill="#8c564b" fill-opacity="1"/><path d="M474 292.5L474 296.3L482.4 296.3L482.4 292.5Z" fill="#8c564b" fill-opacity="1"/><path d="M474 295.7L470.4 299.6L479.6 299.6L482.4 295.7Z" fill="#8c564b" fill-opacity="1"/><path d="M470.4 299L469.1 302.8L478.3 302.8L479.6 299Z" fill="#8c564b" fill-opacity="1"/><path d="M469.1 302.2L469.9 305.3L477.6 305.3L478.3 302.2Z" fill="#8c564b" fill-opacity="1"/><path d="M469.9 304.7L469.9 307.3L477.1 307.3L477.6 304.7Z" fill="#8c564b" fill-opacity="1"/><path d="M471.2 303.1h1M476 242.9h2.5M475.1 287.9h2.8M474 244.8h1.9M461.3 264.4h1.5M473.7 225.9h2.1M470.8 277.4h2.9M481.1 255.3h1.1M480 291.6h2.3M477.4 269.2h1.7M471 299.8h2.8M478.8 287.8h1.1M469.9 236.1h2.5M470.8 266.8h2M473.3 243.7h2.2M478.3 257.9h1.9M473.9 261h1.7M472.7 304.3h1.3M476.2 252.3h2.3M469.3 275.7h1.8M472.4 249.1h2.8M469 229.5h1.2M476 241.7h1M474.3 302.6h2.3M477.5 289h2.6M478 244.3h2.2M474.8 254.1h1.8M473.7 232.1h1M474.6 247.6h1M479 243.2h1.8M473.5 293.4h2.8M474 302.8h1.2M466.9 227.3h2.3M467.5 275.9h2.5M469.6 304h2.6M473.5 264.3h2.3M468.7 231.3h2.2M469.2 274.6h2.3M470.5 242.2h1.9M474.9 292.7h2M468.6 264.8h2.8M466.7 225.6h2.6M472.8 229h1M475.2 303.5h1.5M474 225.8h1.4M473.4 273h0.8M480.4 296.2h0.9M473 238.5h1.7M473.8 278.3h1.3M471.7 259.5h3M477.6 276.7h1.4M470.8 227.3h1.5M479.6 277.5h0.9M469.4 243.5h2.3M476.3 286.5h3M476.8 278h2.5M470.1 242.4h2.7M471.9 228.7h0.9M480 244.9h1M473.8 260.7h1.4M476.2 289.6h1.7M473.6 250.9h1.1M468.7 271.6h0.9M473.6 263.9h1.9M468.9 300.3h3M473.6 241.3h1.7M480.3 292.3h1.2M469.4 291.6h1.3M475.1 283.5h1.2M470.8 272.7h0.8M474.2 282.7h2.2M470.8 265.6h2.3M481.6 258.3h2.9M473.5 239.7h1.7M476.8 298.8h1.1M475.5 289.9h1.1M475 262.6h1.9M474.4 252.1h2.5M474.6 225.9h1M472.3 305.2h2.6M467 298.5h1.3M478.1 263.8h0.9M476.7 287.6h1.1M468.4 251.2h2.2M473.1 237.8h0.9M475.9 306.1h2M477.1 262.9h2.9M474.3 253h1.8M470.5 277.7h2.9M475.7 266.1h1.3M475.7 273.1h2.3M475.5 263.2h2.9M470 288.1h1.4M474.3 283.2h2.8M472.3 304.1h2.8M471.9 297.7h2.8M475.1 291.3h1.7M467.7 230.8h0.9M477.5 297.5h1.4M476 245.5h1.7M468.2 234h1.5M479.6 245.8h2.3M470.9 239.4h2.2M477.1 259.9h1.3M473.5 272.9h1.8M472 300.3h2.7M477.1 305.9h2.2M474.7 305.9h2.4M480.7 261.4h2.6M471 265.3h2M470.4 305.9h2.4M478.1 245.1h2M472.7 287.3h1.2M481.5 257.4h0.9M466.6 276.4h2M470.3 233.9h2.6M479.3 299.8h2.7M476.3 286h2.5M479.8 287.8h1.8M472.7 248.5h2.3M474.5 262.4h1.8M473 243.6h2.6M470.1 274.4h1.5M472 242.9h1.7M471.4 233.2h2.4M469.9 272.1h2.8M472.8 263.2h2.6M474.4 263.4h1.1M474.8 251h1.1M477 282.6h1.3M472.2 297.2h1.4M473.9 299.9h1.1M465.1 232.5h2.9M474.7 253.3h1.9M477.8 300.7h0.9M470.6 250.3h1.6M478.3 277.7h1.8M475.2 263.5h2.4M472.9 240.6h2.5M469.5 240.4h1.2M476.7 245h1.5M471.2 229.9h2.7M468.4 275.8h1.8M475 249.8h2.1M471.9 225.2h2.9M478.2 249h1.7M473.2 281.9h1M472.9 227h2M475.7 271.3h1.3M473.8 280.7h1.3M478.8 297.7h1.5M459.1 264.7h1.7M472.2 226.1h1.2M467.9 228.3h2.6M474.2 272.9h0.8M476.3 246.1h2.8M470.5 267.9h2.2M471.7 267.8h1.3M473.3 297.8h0.8M484.6 230.6h1.3M476.3 302.3h2.8M471.4 297.8h1.6M473.7 279.6h1.6M466 271.5h1.1M474.3 267.4h2.3M478.1 293.3h1.4M478.3 254.1h1.4M479.5 300.5h1M477.1 288.7h1.1M481.5 290.5h1.2M475.4 256.2h3M473.7 250.9h2M484.2 229.5h2.9M473.3 235.1h1.5M479.2 253.3h1.8M479.1 295.9h2.8M472.8 267.5h2.4M445.3 263.9h2.1M468.6 232.1h2.2M472.9 226.5h0.9M473.9 299.1h2.9M473.5 227h2.9M472.6 281h2.4M473.7 243.2h1.6M479.8 296.7h1.5M468.3 233.2h1.4M472.2 274.2h1.2M470.3 225.9h0.9M473.9 239.6h0.8M478 298h1.8M468.6 300.8h1.8M478.8 298.9h1.3M478 286.7h1.8M469.9 270.1h3M471.8 231.9h1.4M473.6 248.2h2.8M475.8 272.5h1.4M467.9 225.9h1.9M473.2 279h2.2M475.2 293.1h1.1M469.1 224.9h2.7M473.4 229.7h1.1M465.3 231.2h1.5M475.9 304.1h2M467.5 266.4h2.7M474.3 276h2.7M475.4 274h1.6M472.1 235h2.2M476.1 225.1h1.4M471.9 304h1.6M495 290.8h1.5M467.2 303.9h2M473.1 277.9h1.7M473.7 301.2h3M472.1 262.5h1.5M472.9 245.1h2.7M468.4 230.6h2.9M462.7 263h2.7M469.3 235.3h2.9M476.6 254.6h2.7M481.9 257.2h1.7M476.1 286.4h2.1M474.4 262.5h2.5M473.3 276.1h1.8M470.1 224.9h2.5M479 262.3h2.5M473.4 289.7h2.2M475.5 286.5h1.3M473.9 254h1.6M476.5 296.3h2.7M475.6 267h1.6M471.4 233.3h2M483.3 257.4h1.2M475.2 293.4h1.9M469.4 276.7h2.8M467.4 238.9h2.3M470.7 278.6h2.7M472.3 273.5h2.6M471.2 229.9h1.7M470.4 232.8h1.1M475 279.3h2.6M474.8 253.1h2.9M470 264.1h2.3M473.2 296.1h1.4M473.3 280.5h2.5M474.8 261h1.9M475.2 245.8h1.1M470.3 272.3h1.6M473.2 287h2.3M475.1 280.8h2M478.4 256.3h2M468.2 233.8h1.3M470.5 306.5h1.8M473.9 225.9h1.3M474.5 271.3h2.1M479 257.5h1.9M465.5 224.7h0.9M476.6 225.3h1.9M468.7 301.5h1.2M471.6 305.1h2.4M477.9 258.1h2.8M471.9 278.5h2.2M470.9 267.8h2.2M467.8 264.9h1.2M477.6 276.7h1.3M470.7 230.1h1M472.4 284.4h2.7M474.5 287.1h2.9M466.3 268.2h2.8M467.1 236.6h2.2M471.8 286.8h2.3M476.8 288.8h2.2M468.3 239.2h2.8M469.7 270.5h2.6M472.5 237.8h1.9M481.7 259h1.9M471.4 269.1h2.5M469.2 231.3h1.2M471.9 305.9h2.2M473.3 227.4h1.6M474.4 250.2h2.3M473.2 296.3h1.6" stroke="#8c564b" stroke-width="2.2" style="stroke-linecap:round;stroke-opacity:0.55;fill:none"/><path d="M469.7 230.6h1.3M474.9 292.3h2.6M473.6 259.8h2M468.6 262.2h2.3M473.3 228.8h2.1M468.7 224.5h2.7M474.9 239.7h2.5M469 224.9h2.9M473.5 262.4h2.3M472.5 249h2.6M472.2 285.4h2.7M475.3 289.4h2.3M476.6 270h2.9M470.7 277.5h1.1M472.6 240.6h1.1M477.6 261.3h1.9M474.6 277.6h2.4M476 273h2.2M469.3 279.4h2.8M469.2 306.6h2.2M475.7 300.5h1.6M474.2 269.9h1.4M473.6 285.5h3M483.1 289.7h2.2M471.4 226.4h0.8M471.9 225.3h1.5M477.6 262.9h1.8M467.2 229.3h1.7M473.7 267.2h2.9M471.9 229.7h1.4M470.6 278.9h1.4M470.2 299h0.8M474.2 271.6h2.4M474 269.1h1.7M474 263.6h0.9M480.2 251.1h2.2M473.9 244.3h1.3M474.2 248.6h1.2M467.1 303.6h2.6M473.5 283.7h0.8M470.1 236.5h2.9M471.6 273.3h2.7M477.3 260.4h1.3M475.2 268.1h1.3M467 230.8h1.9M472.7 274h0.9M468.8 235.4h2.6M475.5 263.3h1.9M471.6 250.3h2.6M468.7 266h2.6M480.4 255.9h2.2M475.1 227.6h2.4M469.1 237h3M472.7 241.9h1.5M476.3 246.2h1.4M472.8 280.5h1.9M471 276.6h1.2M470.9 272.9h2.3M471.2 251.2h2.8M473 287.2h2.2M470.8 229.6h1.5M467.3 251h2.1M473.6 230.5h2.2M476.3 248.9h0.9M472.5 250.7h2.4M476.9 229.3h1.4M472.2 306h1.5M475 253h1M471.2 250.4h2.5M470.5 227.2h2.5M468.5 276.8h1.3M470.9 301.9h1.7M474.1 278.9h2.4M476.7 301.4h1.9M478.8 296.2h2.2M474.9 249.2h1.8M475.6 266h2.6M475.6 260.9h2.5M468.5 238h2.4M472.4 257.2h1.1M486.4 230.4h1.9M475.4 294.7h2.1M477.6 290.4h1M476.9 290.9h2.2M471.8 270.4h2.6M466.9 238.1h2.1M450 263.7h2.9M474.3 299.4h1.4M479.9 295.2h2.4M464.8 235.2h2.4M468.2 225.4h2.5M475.6 261.2h1.8M475.1 268.6h2.1M479.5 288.2h2.6M469 236.3h3M472 225.3h1.6M475.2 269.1h1.5M472.1 227.5h1.2M477.7 255.1h1.4M471.6 234.5h1.4M473.3 302.3h1.6M473.3 268.9h1.4M471.6 266h1.1M473.4 241.8h2.1M472.7 305.8h2.1M481.6 293.4h1.5M472.3 240.6h2.3M475.7 273.9h1.4M470.8 274.6h1.8M477.4 247.6h1M476.1 224.9h0.9M472 306.8h2.1M475 284.6h2.6M469.4 227.1h3M474.7 278.7h1M482.5 246.9h0.9M479.2 253.1h1.7M473.3 253h2.3M465.2 262.8h2.8M472.4 278.5h1.7M477.9 294.3h2M471.7 236.2h0.8M477.6 279h1.3M464.2 270.4h2.8M475.6 285h1.4M472.1 306h2.8M475.9 285.9h1.2M476.4 241.6h1.3M473.1 258.4h1.6M479.1 258h1.6M475.9 228.4h1.8M469.1 237.5h1.8M470 277.6h2.2M469.2 226h1.5M468.4 304.1h2M474.2 257.4h2M473.2 297h2.4M476.7 257.3h3M471.8 227.3h2M471.3 231.1h2.7M474.8 286.3h2.7M468.1 266.7h2M474 281.9h2.9M473.7 277.2h1M475.2 285.6h1.5M471.2 304.9h2.4M473.4 275.6h1M478.1 272.2h1.2M467.4 231.9h1M475.9 262.1h2.7M471.2 245.2h1.7M476.3 285.2h1.4M468.4 233.4h2.7M472.8 235.8h2.3M450.7 264.3h1.3M476.8 297h1.2M478.3 297.1h2.4M479.1 253.3h2.9M473.3 271.6h1.3M478.6 295.2h0.8M467.3 240.7h2.8M478.4 245.7h2.3M479.9 265.8h1.1M474.5 285.1h1.2M471.1 240.4h1.4M474.2 245.3h1.2M473.4 281h2.6M473.8 306.4h3M473.9 259.3h1.7M480 258.5h1.3M468.2 269.4h1.4M472 251.5h2.8M471.1 228.9h2.3M477.3 266.6h2.8M476.4 287.1h2.5M468.8 225.4h1.4M478.7 284.3h1.3M472 236.8h2.5M478.2 287.7h2.8M480.5 290.2h1M469 304.2h1.4M469.4 238.6h1.5M471.3 228.9h2.3M446.3 263.3h1.3M479.1 257.2h1.9M476.7 262.4h1.9M470.4 231.7h2.7M475.9 260.2h0.9M477.8 247.9h1.9M471.7 262.9h1.9M472.1 242.7h1.7M473.3 272.7h1M482.6 227.6h1.7M472.3 282.6h2.4M480.3 257.9h3M476.3 300.9h2.9M478.8 259.8h2.8M469.4 301.1h2.7M471.8 238.8h1M472.3 304.9h2.8M481.1 270.1h1.3M480.2 256.5h2.6M476.3 253.9h2.4M475.7 267.5h2.6M471.8 225.4h1.9M472.1 283.9h1.7M468.4 274h2.1M468 271h2.7M472.3 230.6h2.2M477.3 260h1.9M479.4 288.9h1.2M470.5 302.9h2M474.7 267.9h3M473.5 284h1.3M476.7 262.2h2.5M474.6 258h2.6M472.6 288.1h2.9M480.6 246.4h2.6M470.3 266.5h2.2M476 283.4h1.9M475.7 302.4h1.8M468.9 265.9h2.2M477.8 297.8h1.3M471.9 306.3h1.5M474.6 293h2.7M474.7 270.5h1M469.7 229.4h2.8M471.9 263.9h2.4M471.1 230.6h0.9M474.6 305.1h1.9M471.9 265.2h1.8M467.7 275.7h2.2M474.8 277.4h1.7M473 303.4h3M470.9 237.4h1.8M475 297.2h0.9M471.7 306.9h1.4M468.9 239.8h1.4M471.4 271h1M470.9 226.8h0.9M472.8 296.4h2.7M474.3 242.3h0.9M470.9 227.8h1M477.6 299.4h1M479.5 283.2h2.2M470.7 265.3h1.8M475 296.3h1.7M473.6 232.9h2.5M469.4 236h1.8M473.7 300.8h1.7M468.8 303.4h2.4M476.5 305.5h1.5M486.1 230.8h1.3M446.9 263.8h2.7M481.1 291.4h0.9M468.2 230.7h2.2M470.3 302.4h0.9M479.4 262.7h1.1M471.7 234h1.3M479 293.7h1.3M477.5 297h2.1M474.5 258.3h2.1M474.7 265.2h2.9M470.9 305.8h2.5M476.8 296.4h0.9M476 266.5h1.7M479.4 277.7h2.5M474.6 279h3M478.8 289.6h1.8M472.1 306.7h0.9M474.8 282.3h1.1M469.9 227.9h2.5M473.1 267.6h2.5M467.9 228.7h2M468.7 245.2h2.2M483.6 259.3h2.6M477.2 254.5h2M471 278.8h1.4M473.6 228h2.2M474.1 242.5h1.1M468.6 236.2h2.4" stroke="#8c564b" stroke-width="2.2" style="stroke-linecap:round;stroke-opacity:0.55;fill:none"/><path d="M474.1 227.3h1.7M482.7 293.8h1.7M465.8 272.7h2.2M478.7 257.5h2.4M464.5 264.7h1.6M470.2 228.2h2.8M473.9 269.2h2.9M476.6 256h2.9M473.4 301.4h2.8M477.1 268h1.9M478.8 257.9h1.4M475.6 299.1h2.7M473 304.3h2M474.3 260.5h1.5M473.7 274.8h1.9M470.7 233.5h1.7M472.7 272.5h1.8M477.5 256.8h2.9M467.6 226.3h1.9M475.8 287.1h1.6M479.2 271.6h2.4M466.4 238.3h2.7M481.9 257.2h2.3M470.8 263h1M469.7 249.3h1.5M474.8 245h2.8M472.2 243.7h2.1M475.7 246.1h1M473.9 257.7h2.3M465.4 237.6h2.3M472.4 248.8h1.4M476.6 301.2h2.4M481.8 296.1h1.3M471.7 237.4h2.9M478 292.6h2.2M470.3 276h1.1M470.7 287h2M474.9 228.3h2.7M473.9 236.4h1.2M474.9 258.4h2.7M477 246.2h2.7M468.2 229.3h1M475.4 280.5h2.7M474.2 255.3h0.9M472.1 306.9h2.2M469.4 269.8h2.1M474.6 286.8h2.9M474.8 254.3h2.1M464.5 302.4h1.8M470.9 233.7h1.2M470.9 228.3h2.4M476.6 227.1h2.7M477.8 296.3h1.5M470.1 234.8h2.9M471.8 273.5h2.6M474.2 295.1h1.7M475.9 273.4h1.3M472.2 244.8h1.6M472.7 264.1h2M478.6 287h1M474.3 292.2h2.9M469.6 249.2h1.6M472.7 233.5h1.3M466.8 276.8h2.1M477.2 251.4h2.4M475.6 293.1h1.1M469.9 225.7h1.6M476.4 252h1.7M477.3 255.2h2.7M468.6 270.3h1.4M469.4 285.5h1.6M476.4 287h1.2M472.8 304.2h1.9M474.7 276.9h1.7M476.4 268.9h2.3M476.5 257.8h1.6M473.6 235.9h1.2M476.6 298.3h1.1M477.9 291.4h2.3M473.7 243.4h1.1M473 282.5h1.2M472.4 304.6h2.3M472.4 241.8h2.5M478.3 291.6h0.9M491.7 289.7h1M472.5 265.1h1.4M478.7 259.3h1.6M471.8 238.5h1.9M470.8 237.1h1.2M472.5 247.4h2.8M479.2 259.1h1.2M482.8 253.9h2.8M485 256.1h1.4M467 278.6h2.1M481.8 265.3h1.8M476.4 287.5h1.2M478.7 288.5h1.1M473 248.4h1.8M472 238.1h1.8M470.4 235.4h0.9M478.4 255h1.6M474.2 286.3h0.9M474 243.3h0.9M468.7 238.3h2.4M472.3 275h2.8M473.1 304.5h1.2M474.4 284.8h1.8M468.8 267.6h2.8M467.4 224.7h1.5M480 270.2h1.2M473.5 269h2.3M471.9 260.3h1.3M477.3 244.1h1.9M474.9 269.4h1.5M479.1 254.9h1.7M476.1 261.4h1.3M475.6 292.7h0.8M482.2 295.3h1.6M477.4 276.9h2.7M468.5 233.4h2.3M475.4 245.5h2.7M475.6 259h1.5M474.5 282.6h0.8M475.2 287.5h1.3M474.2 285.1h1.4M476.7 262.1h2.8M470.5 277.1h2.8M468.3 274.7h1.3M474.9 264.3h1.4M482.9 259.3h1.7M472.4 304.2h1.4M473.5 302.9h2.6M473.4 288.5h2.3M472.3 261.8h2.9M479.8 264.3h1.7M472.2 279.3h3M469.8 302.5h1.7M473.8 243.2h1.3M467.8 240.9h2.6M470 231.4h2.3M475.2 262h1.8M471.1 275.6h2.2M478.4 262.9h0.9M470.6 237.9h2M471.4 274.5h0.8M478.4 256.5h2M470.9 249.4h2.7M473.3 226.1h1M474.6 291h1.5M468.9 231.7h1.5M469.6 269.4h1M471 276.5h2M469.8 272.8h2.6M479.5 231.5h2.1M477.3 262.2h1M472.6 246.2h1.3M472.9 228.7h1.8M478.3 254.7h2.4M472.4 289.5h1.6M472.9 253.9h3M477.9 290.8h1.9M465 265.5h3M471.2 303h2.6M469.3 264.2h1.2M474.4 282.9h2.8M477.4 259.7h1.8M471.1 298.3h2.9M479 290.6h1.7M462.2 225.5h2.5M475.1 290h2.4M469.8 227.2h1.4M472.4 271.7h1M469.3 269.5h1.2M470.2 227.6h1.7M469.2 273.4h2.8M480.3 263.4h1.9M474.5 298.6h2.8M475.6 288.5h2.6M471.2 274.4h2.8M481.2 263h2.1M477.5 285.4h2.2M471.8 226.9h2.2M471.3 225.7h2.9M467.9 265.8h2.7M475.3 305.4h2.1M469.9 226.5h2.2M471.3 229.1h2.1M481 259.2h2.3M478 259.7h2.6M476.2 261.4h0.8M478.2 255.5h2.2M478.8 252.9h2.3M473.4 264.2h1M481.5 296.8h1.1M466.9 269.5h2.4M481.3 300.7h1.6M477.6 298.5h2.4M474.6 227h3M473.6 232.7h2.4M479.2 256.4h2M477 253.4h1M473 302.4h2.6M473.1 263.5h2.4M474.7 299.5h1.3M469.5 235.2h2.7M471.7 269.9h2.6M475.6 289.9h2.7M470.3 232.2h1.7M477.5 246.4h2.4M477.2 286.6h2.1M475.7 292.7h1.4M475.9 282h1.3M475.9 268.3h1.4M474.7 269.6h0.8M475.4 284.3h1M475.1 295.7h2.4M474.1 296.3h2.8M473.4 271.8h2.8M471.4 261.5h2.7M479 274.3h1.5M478.3 245.8h1.3M469.8 230.4h1.7M480.1 254.1h2.3M476.2 304.7h2.8M477.5 293.3h1.8M472.7 247.5h2.8M477 260.3h2.7M476.1 293.2h1.7M475.7 251.4h1.1M474.2 288.7h2.2M472.5 248.6h1.7M469.5 239.6h2.8M475 275.2h1.9M472.4 271.5h2M475.1 280.8h2.1M476.4 288h1.5M463.8 265h1.3M482.2 294.6h2M472.6 233.8h1M468.2 235.3h2.1M484.4 289.9h2M473.8 287.1h2.8M477.5 282.8h0.9M477.3 270.8h1.3M476.4 239.1h1.3M466.4 234h2.8M469.3 286.3h1.9M477 280.8h2.9M476.4 292.2h2M469.4 225.6h1.3M473.9 285.3h0.9M474 289.6h2.2M472.2 265.6h2.8M478.8 246.5h1.8M469.7 238h2.9M478.3 256h1.7M479 292.7h0.8M475.5 282.5h2.8M471.5 231h1.8M478.7 254.1h1.6M471.1 252.7h3M473.5 284.6h1.8M473.5 224.8h1.2M474.7 263.7h1.6M475.9 224.5h2M474.2 238.7h2.9M467.2 234.3h2.6M470.8 304.5h1.7M476.1 293.2h2.8M473.4 265.8h2.2M474.6 252.4h1.4M474.7 260.7h1.2M470 232.6h0.9M473.3 265.3h1.2M478.7 258.3h1.2M473.5 228.6h1.2M473.5 234.7h1.2M474.5 227.3h1.6M469.9 267.1h0.9M472.6 274.3h1.3M476.1 282.8h2.1" stroke="#8c564b" stroke-width="2.2" style="stroke-linecap:round;stroke-opacity:0.55;fill:none"/><path d="M477.4 294.6h1.9M471.8 265.1h2.2M467.4 233.2h2.2M473.1 278.2h2.4M472.9 285.4h1.2M473.2 303.4h2.4M469.5 284.5h2.6M470.4 240.6h2.4M475.9 244.7h1.9M471.6 234.7h1M478.3 295.8h1.3M471.3 246.7h1.8M487.2 225.8h1.5M474.3 293.2h1.7M476.1 229.8h1.4M473.1 250.3h1.8M472.9 254.2h2.6M472.6 287.9h1M471.8 227.4h2.9M478 258.3h1.2M472.1 277.3h2.7M474.8 306.4h1.3M480.3 253.4h1.4M469.1 235.5h2.8M470.3 281.7h2.9M475.2 260.5h2M477.1 298h2.4M476.3 262.1h1.4M471.8 251.6h1M480.1 291.2h1.5M473.5 227.4h1.5M471.2 231.8h1.5M473.1 238.4h2.2M475.4 227.8h1.2M472.9 273.8h1.6M478.6 288h2M477.2 256.1h2.9M475.9 275.2h2M475.4 270.9h2.3M471.9 250.4h1.9M470.2 226.3h2.5M471.7 305.7h0.9M470.1 261.9h1.7M474.4 304.4h1.3M470.9 243.3h1.6M473.7 285.3h1.5M475.1 293.2h2.3M479.7 257.3h2.1M468.4 226.7h2.3M473.2 280.1h1.8M471.4 269h1.2M470.9 251.2h1.3M453.5 264h2M474.5 230.4h1.3M476.7 301.2h1.8M469.1 239.2h2.8M472.3 242.6h1.5M470 233.3h1M474.3 280.3h2.9M477.6 295.6h2.6M473.2 242.5h1M474.4 224.5h2.8M470 304.7h2.1M471.4 268.1h1.2M473.8 295.8h2.4M479 269.1h1.7M479.5 267h2.8M478.8 228.8h2.9M475 270.1h1M468.8 250.4h2.7M478.8 255.2h0.9M474.9 294.5h2.8M476.7 236.7h1.9M476.8 291.6h1M470.4 279.5h1.7M474.1 288.3h1.5M477.6 241.6h2.3M470.5 226.1h2.4M496.2 289.9h1.6M473.2 264.9h2.4M482.4 252.6h0.8M472.6 302.3h1.3M475.6 257.7h1M470.9 269.4h1.2M474.7 282.8h1.4M474 272.2h1.2M468.8 264h1.9M474.9 276.3h2.9M474.8 286h2.8M478.1 283.3h2.5M475 259.6h2.6M473.8 295.1h1.1M474.8 302.3h1M469 233.1h2.3M468.8 278.8h1.7M473.7 268.4h1.2M479.4 255.5h1M474.2 241.3h1.5M475.8 287.2h1.8M475.2 252.6h0.8M474.3 243.2h1.7M469.8 264.4h1.1M477.8 252.3h2.7M472.8 279h2.4M475.1 248.7h1.3M471.3 297h1.1M468.5 240.2h2.5M467.9 235h2.5M473.8 270.6h2.9M477 298.7h1.1M475.6 289.2h2M470.7 255.4h2.6M471.1 280.9h1.8M457.3 263.4h1.3M480.2 298.1h1.1M471.8 291.4h1.4M473.6 300.4h1.6M478.7 293.4h2.2M474.4 277.6h1M472.3 250h2.5M479 262.5h1.1M466.3 306.7h1.4M481 262.3h1.8M472.3 281h0.9M474 258.1h1.6M482.5 292.6h2.9M471 263.9h2.9M473.1 279.9h2.6M475.2 244.8h1.5M473.3 265h2M472.8 249.6h2.6M471.2 300.4h0.8M475.7 253.7h1.7M472.8 306.8h2M471.5 262.3h2.2M477.8 291.4h1.3M478.3 261.7h1.5M478.7 268.7h3M475.5 292.6h1M474.4 224.9h2.6M468.4 241.3h2.1M469.9 226.4h3M471.5 304h2.1M467.3 235.7h1.7M470.1 227.9h2.9M477.3 262.5h2.1M476 237.9h2.1M468.3 272.9h2.6M472.1 277.8h1.6M466.8 235h2.1M477.7 245.1h2.5M476.9 291.1h1.3M468.9 235.9h1.3M472.3 239.7h2.5M473 300.6h2.7M473 300.9h2.3M472.4 287.1h2.2M473 299.2h1.1M471.2 225.3h2.7M475 254.5h3M473.3 301.2h2.7M477.3 247.6h2M476.4 278.6h1.1M472.9 294.3h1.8M472.9 253.3h2.8M475.7 243.4h2.3M476.9 301.4h1.1M473.2 281.3h2.9M474.3 263.1h2.2M480.7 292.8h2.5M473.8 242h1M466.7 279.2h2.1M470.2 269.5h2.5M472.1 271.8h1.2M473.5 251.6h1.4M468 301.3h2.7M479.5 252.2h2M478.9 295.3h2.5M470.3 241.2h2.5M472.3 286.9h2M481.8 257h1.7M468.6 245.7h2.4M474.9 250.8h1.6M473.4 289.3h2.3M471.9 250.5h1M479.7 262.3h2.4M469 228.5h2.5M477.7 296h2.6M474.1 266.8h1.9M477.2 273.9h2.6M479.6 258.1h1.3M474.2 247.2h0.8M471.6 232.8h2.8M475.2 302.9h1.1M474 275.6h1.3M472.1 242.7h1.4M476.7 277.9h0.9M479.6 258.9h1.3M470.3 298.8h1.7M479.8 257.3h1.2M470.8 279.2h2.8M473.7 233.3h0.9M478.4 290.3h1.4M475.7 277.2h1.3M485.2 288.3h2M478.3 276.6h1M474.4 252.5h2M472.2 290.9h1.2M483.7 258.7h2.5M477.3 283.2h1.6M475.2 230h1.6M479.9 298.1h2.7M476 283.6h1.2M474.2 263.1h1.9M472.4 228.3h2.4M466 228.8h1.9M440.9 264.5h3M474.9 269.2h3M471.9 296.6h1M477.4 264h2.9M470.2 235.4h2.8M472.5 263.8h1M478 290.1h2.5M472.3 234.3h1.5M478.6 275.5h1.4M474.6 268.7h2M469.2 229.9h1M472.6 277.2h2.5M475.4 269.3h2.9M478.1 297.2h1.4M470.8 225.4h3M471.1 228.6h2.9M476 284.6h1.8M464.9 266.2h1.8M475.4 299.5h2.2M472.2 248.1h0.9M475.3 300.3h1.3M471.3 235.4h2M476.7 260.3h1.6M479.6 277.7h1.9M470.4 271.4h1.2M477.5 272.7h2.9M477.2 298.8h1.7M476.1 305.6h1.3M473.5 272.6h0.9M470.2 234.3h2.1M474 247.9h1.7M474.3 281.8h2.3M469.2 230.3h2.3M472.8 263.4h0.9M483.3 254h1M474.2 278.2h1.8M477.2 283.9h1.7M476.5 277.6h1.7M467.8 265.2h2M477.3 293.5h1.8M478.4 298.6h2.7M476.7 293.9h2.1M470.9 251.5h1.5M471.1 263.7h1.7M475.2 228.9h1.3M470.6 232.2h2M475.2 262.3h2.7M470.8 227.8h2.2M478.2 295.3h2.8M473.2 249.9h2.5M476.2 245.1h2.1M467.7 260.8h2.6M477.1 288.5h2.3M473.8 269.1h0.8M473 252.7h2.2M478.7 271.1h2.5M468.3 277h2.5M470.3 224.5h1.4M477.6 247.8h1.2M477.2 258h0.8M474 244.8h1.3M475.2 294.6h1.2M478.3 290.4h1.4M475.4 250.3h1M472.4 237.7h1.2" stroke="#8c564b" stroke-width="2.2" style="stroke-linecap:round;stroke-opacity:0.55;fill:none"/></g><defs><style type="text/css">*{stroke-linejoin: round; stroke-linecap: butt}</style></defs><g id="figure_1"><g id="patch_1"><path d="M 0 246.96 L 396 246.96 L 396 0 L 0 0 L 0 246.96 z " style="fill: none; opacity: 0"/></g><g id="patch_2"><path d="M 12.2805 124.38558 L 133.207596 124.38558 L 133.207596 3.458484 L 12.2805 3.458484 L 12.2805 124.38558 z " style="fill: none; opacity: 0"/></g><g id="axes_1"><g id="line2d_1"><path d="M 94.581535 81.521699 L 92.310454 80.540261 L 89.860743 79.6825 L 86.58638 78.795709 L 83.124845 78.126086 L 79.529972 77.682643 L 75.856858 77.471286 L 72.161329 77.494811 L 68.499413 77.752909 L 64.926832 78.24216 L 61.498475 78.956037 L 58.267855 79.884908 L 55.286523 81.016045 L 53.113952 82.056074 L 51.155918 83.206019 L 49.434439 84.455186 L 47.969702 85.791708 L 46.779799 87.202599 L 45.880459 88.673821 L 45.284771 90.190372 L 45.043514 91.348026 L 44.981985 92.515316 L 45.102254 93.685091 L 45.405273 94.850049 L 45.890832 96.002784 L 46.557511 97.135831 L 47.723386 98.603039 L 49.196589 100.004458 L 50.963305 101.322988 L 53.005728 102.542212 L 55.302169 103.646665 L 57.827252 104.622103 L 60.552187 105.455755 L 63.445124 106.136567 L 66.471595 106.655415 L 69.595013 107.005286 L 72.777234 107.181423 L 76.778103 107.153849 L 80.732856 106.851824 L 83.812485 106.416726 L 86.776643 105.815884 L 89.589734 105.057386 L 92.218542 104.151347 L 94.632697 103.109707 L 96.805076 101.946005 L 98.712117 100.67513 L 100.334055 99.313054 L 101.655069 97.87657 L 102.663356 96.383023 L 103.209507 95.23602 L 103.573455 94.07431 L 103.754592 92.905323 L 103.753486 91.736401 L 103.571842 90.574752 L 103.212445 89.427402 L 102.679105 88.301164 L 101.70579 86.843655 L 100.445607 85.45008 L 98.914901 84.134221 L 97.132315 82.908792 L 95.118517 81.785371 L 94.581535 81.521699 L 94.581535 81.521699 " clip-path="url(#p33dd7367be)" style="fill: none; stroke: #d62728; stroke-width: 0.85; stroke-linecap: square"/></g><g id="line2d_2"><path d="M 45.00291 91.736401 L 103.753486 91.736401 " clip-path="url(#p33dd7367be)" style="fill: none; stroke-dasharray: 1.28,1.36; stroke-dashoffset: 0; stroke: #ff2020; stroke-opacity: 0.9; stroke-width: 0.8"/></g><g id="line2d_3"><path d="M 74.378198 107.203497 L 74.378198 77.452458 " clip-path="url(#p33dd7367be)" style="fill: none; stroke-dasharray: 1.28,1.36; stroke-dashoffset: 0; stroke: #ff2020; stroke-opacity: 0.9; stroke-width: 0.8"/></g><g id="line2d_4"><path d="M 53.005728 102.542212 L 94.581535 81.521699 " clip-path="url(#p33dd7367be)" style="fill: none; stroke-dasharray: 1.4,1.12; stroke-dashoffset: 0; stroke: #222222; stroke-width: 0.7"/></g><g id="line2d_5"><path d="M 95.750668 102.542212 L 54.174861 81.521699 " clip-path="url(#p33dd7367be)" style="fill: none; stroke-dasharray: 1.4,1.12; stroke-dashoffset: 0; stroke: #222222; stroke-width: 0.7"/></g><g id="line2d_6"><defs><path id="m9ddf718717" d="M 0 1 C 0.265203 1 0.51958 0.894634 0.707107 0.707107 C 0.894634 0.51958 1 0.265203 1 0 C 1 -0.265203 0.894634 -0.51958 0.707107 -0.707107 C 0.51958 -0.894634 0.265203 -1 0 -1 C -0.265203 -1 -0.51958 -0.894634 -0.707107 -0.707107 C -0.894634 -0.51958 -1 -0.265203 -1 0 C -1 0.265203 -0.894634 0.51958 -0.707107 0.707107 C -0.51958 0.894634 -0.265203 1 0 1 z " style="stroke: #000000; stroke-opacity: 0"/></defs><g clip-path="url(#p33dd7367be)"><use xlink:href="#m9ddf718717" x="45.00291" y="91.736401" style="fill: #ff0000; stroke: #000000; stroke-opacity: 0"/><use xlink:href="#m9ddf718717" x="103.753486" y="91.736401" style="fill: #ff0000; stroke: #000000; stroke-opacity: 0"/><use xlink:href="#m9ddf718717" x="74.378198" y="107.203497" style="fill: #ff0000; stroke: #000000; stroke-opacity: 0"/><use xlink:href="#m9ddf718717" x="74.378198" y="77.452458" style="fill: #ff0000; stroke: #000000; stroke-opacity: 0"/></g></g><g id="line2d_7"><defs><path id="m0e271f71d8" d="M 0 0.9 C 0.238683 0.9 0.467622 0.80517 0.636396 0.636396 C 0.80517 0.467622 0.9 0.238683 0.9 0 C 0.9 -0.238683 0.80517 -0.467622 0.636396 -0.636396 C 0.467622 -0.80517 0.238683 -0.9 0 -0.9 C -0.238683 -0.9 -0.467622 -0.80517 -0.636396 -0.636396 C -0.80517 -0.467622 -0.9 -0.238683 -0.9 0 C -0.9 0.238683 -0.80517 0.467622 -0.636396 0.636396 C -0.467622 0.80517 -0.238683 0.9 0 0.9 z " style="stroke: #000000; stroke-opacity: 0"/></defs><g clip-path="url(#p33dd7367be)"><use xlink:href="#m0e271f71d8" x="94.581535" y="81.521699" style="stroke: #000000; stroke-opacity: 0"/><use xlink:href="#m0e271f71d8" x="54.174861" y="81.521699" style="stroke: #000000; stroke-opacity: 0"/><use xlink:href="#m0e271f71d8" x="53.005728" y="102.542212" style="stroke: #000000; stroke-opacity: 0"/><use xlink:href="#m0e271f71d8" x="95.750668" y="102.542212" style="stroke: #000000; stroke-opacity: 0"/><use xlink:href="#m0e271f71d8" x="74.378198" y="91.736401" style="stroke: #000000; stroke-opacity: 0"/></g></g><g id="line2d_8"><path d="M 95.556459 22.515423 L 92.54742 21.455181 L 89.257612 20.567533 L 85.739926 19.864584 L 82.049474 19.355754 L 78.242976 19.047768 L 74.378198 18.944658 L 70.51342 19.047768 L 66.706922 19.355754 L 63.01647 19.864584 L 59.498784 20.567533 L 56.208976 21.455181 L 53.199936 22.515423 L 50.52167 23.733483 L 48.648531 24.809951 L 47.038622 25.966248 L 45.711629 27.191279 L 44.68487 28.472996 L 43.973009 29.798471 L 43.652929 30.813063 L 43.520392 31.838514 L 43.578066 32.868588 L 43.827467 33.896895 L 44.268905 34.916933 L 44.901432 35.922126 L 46.037984 37.227882 L 47.501112 38.479952 L 49.277561 39.663068 L 51.349817 40.762488 L 53.696195 41.76424 L 56.291016 42.655362 L 59.104864 43.424134 L 62.879943 44.197584 L 66.875449 44.747658 L 71.015495 45.062628 L 75.220504 45.135734 L 79.409231 44.9654 L 83.500847 44.555292 L 87.417018 43.914194 L 91.083859 43.055719 L 94.433699 41.997873 L 96.844747 41.022608 L 98.987726 39.94633 L 100.839934 38.782782 L 102.382802 37.546536 L 103.602007 36.25275 L 104.487491 34.916933 L 104.928929 33.896895 L 105.17833 32.868588 L 105.236003 31.838514 L 105.103467 30.813063 L 104.783387 29.798471 L 104.279523 28.800786 L 103.330224 27.506884 L 102.076765 26.266517 L 100.535827 25.091958 L 98.726531 23.994547 L 96.670146 22.984625 L 95.556459 22.515423 L 95.556459 22.515423 " clip-path="url(#p33dd7367be)" style="fill: none; stroke: #d62728; stroke-width: 0.85; stroke-linecap: square"/></g><g id="line2d_9"><path d="M 43.543546 31.495872 L 105.21285 31.495872 " clip-path="url(#p33dd7367be)" style="fill: none; stroke-dasharray: 1.28,1.36; stroke-dashoffset: 0; stroke: #ff2020; stroke-opacity: 0.9; stroke-width: 0.8"/></g><g id="line2d_10"><path d="M 74.378198 45.140613 L 74.378198 18.944658 " clip-path="url(#p33dd7367be)" style="fill: none; stroke-dasharray: 1.28,1.36; stroke-dashoffset: 0; stroke: #ff2020; stroke-opacity: 0.9; stroke-width: 0.8"/></g><g id="line2d_11"><path d="M 51.911649 41.022608 L 95.556459 22.515423 " clip-path="url(#p33dd7367be)" style="fill: none; stroke-dasharray: 1.4,1.12; stroke-dashoffset: 0; stroke: #222222; stroke-width: 0.7"/></g><g id="line2d_12"><path d="M 96.844747 41.022608 L 53.199936 22.515423 " clip-path="url(#p33dd7367be)" style="fill: none; stroke-dasharray: 1.4,1.12; stroke-dashoffset: 0; stroke: #222222; stroke-width: 0.7"/></g><g id="line2d_13"><g clip-path="url(#p33dd7367be)"><use xlink:href="#m9ddf718717" x="43.543546" y="31.495872" style="fill: #ff0000; stroke: #000000; stroke-opacity: 0"/><use xlink:href="#m9ddf718717" x="105.21285" y="31.495872" style="fill: #ff0000; stroke: #000000; stroke-opacity: 0"/><use xlink:href="#m9ddf718717" x="74.378198" y="45.140613" style="fill: #ff0000; stroke: #000000; stroke-opacity: 0"/><use xlink:href="#m9ddf718717" x="74.378198" y="18.944658" style="fill: #ff0000; stroke: #000000; stroke-opacity: 0"/></g></g><g id="line2d_14"><g clip-path="url(#p33dd7367be)"><use xlink:href="#m0e271f71d8" x="95.556459" y="22.515423" style="stroke: #000000; stroke-opacity: 0"/><use xlink:href="#m0e271f71d8" x="53.199936" y="22.515423" style="stroke: #000000; stroke-opacity: 0"/><use xlink:href="#m0e271f71d8" x="51.911649" y="41.022608" style="stroke: #000000; stroke-opacity: 0"/><use xlink:href="#m0e271f71d8" x="96.844747" y="41.022608" style="stroke: #000000; stroke-opacity: 0"/><use xlink:href="#m0e271f71d8" x="74.378198" y="31.495872" style="stroke: #000000; stroke-opacity: 0"/></g></g></g><g id="patch_3"><path d="M 141.453792 125.052192 L 262.018656 125.052192 L 262.018656 4.487328 L 141.453792 4.487328 L 141.453792 125.052192 z " style="fill: none; opacity: 0"/></g><g id="axes_2"><g id="line2d_15"><path d="M 223.641595 82.348659 L 221.361932 81.368964 L 218.90315 80.512763 L 215.616882 79.627618 L 212.142959 78.959262 L 208.535361 78.516669 L 204.84933 78.30572 L 201.140827 78.3292 L 197.466021 78.5868 L 193.880771 79.075114 L 190.440111 79.787645 L 187.197701 80.714799 L 184.205249 81.843898 L 182.024374 82.882104 L 180.058655 84.03009 L 178.3302 85.277197 L 176.859285 86.611594 L 175.664094 88.020328 L 174.760444 89.489397 L 174.161509 91.003832 L 173.918563 92.159941 L 173.856017 93.325734 L 173.97597 94.494071 L 174.279397 95.657658 L 174.766104 96.809097 L 175.434687 97.94093 L 176.604286 99.406651 L 178.082565 100.806741 L 179.855686 102.124102 L 181.905793 103.342314 L 184.211126 104.44591 L 186.746209 105.420636 L 189.48213 106.253714 L 192.386895 106.934081 L 195.42587 107.452603 L 198.562289 107.802262 L 202.561336 107.994839 L 206.575855 107.912188 L 210.528643 107.556075 L 213.595497 107.079196 L 216.537155 106.438514 L 219.318397 105.642648 L 221.906527 104.702199 L 224.271826 103.629538 L 226.387928 102.438572 L 228.232124 101.144492 L 229.78557 99.763503 L 231.033414 98.31256 L 231.964854 96.809097 L 232.451561 95.657658 L 232.754988 94.494071 L 232.87494 93.325734 L 232.812395 92.159941 L 232.569449 91.003832 L 232.149267 89.864357 L 231.32067 88.382508 L 230.19698 86.957338 L 228.793379 85.6031 L 227.127485 84.333017 L 225.219077 83.159205 L 223.641595 82.348659 L 223.641595 82.348659 " clip-path="url(#p30af7951bb)" style="fill: none; stroke: #9467bd; stroke-width: 0.85; stroke-linecap: square"/></g><g id="line2d_16"><path d="M 173.877544 92.547811 L 232.853414 92.547811 " clip-path="url(#p30af7951bb)" style="fill: none; stroke-dasharray: 1.28,1.36; stroke-dashoffset: 0; stroke: #ff2020; stroke-opacity: 0.9; stroke-width: 0.8"/></g><g id="line2d_17"><path d="M 203.365479 108.000355 L 203.365479 78.286929 " clip-path="url(#p30af7951bb)" style="fill: none; stroke-dasharray: 1.28,1.36; stroke-dashoffset: 0; stroke: #ff2020; stroke-opacity: 0.9; stroke-width: 0.8"/></g><g id="line2d_18"><path d="M 181.905793 103.342314 L 223.641595 82.348659 " clip-path="url(#p30af7951bb)" style="fill: none; stroke-dasharray: 1.4,1.12; stroke-dashoffset: 0; stroke: #222222; stroke-width: 0.7"/></g><g id="line2d_19"><path d="M 224.825165 103.342314 L 183.089363 82.348659 " clip-path="url(#p30af7951bb)" style="fill: none; stroke-dasharray: 1.4,1.12; stroke-dashoffset: 0; stroke: #222222; stroke-width: 0.7"/></g><g id="line2d_20"><g clip-path="url(#p30af7951bb)"><use xlink:href="#m9ddf718717" x="173.877544" y="92.547811" style="fill: #ff0000; stroke: #000000; stroke-opacity: 0"/><use xlink:href="#m9ddf718717" x="232.853414" y="92.547811" style="fill: #ff0000; stroke: #000000; stroke-opacity: 0"/><use xlink:href="#m9ddf718717" x="203.365479" y="108.000355" style="fill: #ff0000; stroke: #000000; stroke-opacity: 0"/><use xlink:href="#m9ddf718717" x="203.365479" y="78.286929" style="fill: #ff0000; stroke: #000000; stroke-opacity: 0"/></g></g><g id="line2d_21"><g clip-path="url(#p30af7951bb)"><use xlink:href="#m0e271f71d8" x="223.641595" y="82.348659" style="stroke: #000000; stroke-opacity: 0"/><use xlink:href="#m0e271f71d8" x="183.089363" y="82.348659" style="stroke: #000000; stroke-opacity: 0"/><use xlink:href="#m0e271f71d8" x="181.905793" y="103.342314" style="stroke: #000000; stroke-opacity: 0"/><use xlink:href="#m0e271f71d8" x="224.825165" y="103.342314" style="stroke: #000000; stroke-opacity: 0"/><use xlink:href="#m0e271f71d8" x="203.365479" y="92.547811" style="stroke: #000000; stroke-opacity: 0"/></g></g><g id="line2d_22"><path d="M 224.613919 23.444763 L 221.594404 22.388407 L 218.29344 21.504057 L 214.764068 20.80375 L 211.061541 20.296848 L 207.242713 19.990035 L 203.365479 19.887319 L 199.488245 19.990035 L 195.669417 20.296848 L 191.96689 20.80375 L 188.437518 21.504057 L 185.136554 22.388407 L 182.117038 23.444763 L 179.429136 24.658429 L 177.549004 25.731081 L 175.932836 26.883344 L 174.600405 28.104177 L 173.56912 29.381586 L 172.853733 30.702695 L 172.531715 31.714008 L 172.397881 32.736199 L 172.454928 33.763052 L 172.7044 34.7882 L 173.146627 35.805159 L 173.780679 36.80737 L 174.920426 38.109333 L 176.388085 39.357848 L 178.170384 40.537678 L 180.249774 41.634112 L 182.604507 42.633198 L 185.208813 43.521992 L 188.033163 44.288789 L 191.822587 45.060283 L 195.833496 45.608984 L 199.989646 45.923176 L 204.211076 45.996102 L 208.416144 45.826187 L 212.523628 45.417096 L 216.45482 44.777605 L 220.135492 43.921317 L 223.49768 42.866217 L 225.917374 41.893534 L 228.067799 40.820165 L 229.926183 39.65983 L 231.473914 38.427074 L 232.696648 37.137025 L 233.584331 35.805159 L 234.026558 34.7882 L 234.27603 33.763052 L 234.333077 32.736199 L 234.199243 31.714008 L 233.877225 30.702695 L 233.370813 29.708288 L 232.417231 28.418713 L 231.158553 27.182576 L 229.611553 26.012097 L 227.795439 24.918562 L 225.73157 23.912264 L 224.613919 23.444763 L 224.613919 23.444763 " clip-path="url(#p30af7951bb)" style="fill: none; stroke: #9467bd; stroke-width: 0.85; stroke-linecap: square"/></g><g id="line2d_23"><path d="M 172.421393 32.39464 L 234.309565 32.39464 " clip-path="url(#p30af7951bb)" style="fill: none; stroke-dasharray: 1.28,1.36; stroke-dashoffset: 0; stroke: #ff2020; stroke-opacity: 0.9; stroke-width: 0.8"/></g><g id="line2d_24"><path d="M 203.365479 46.000969 L 203.365479 19.887319 " clip-path="url(#p30af7951bb)" style="fill: none; stroke-dasharray: 1.28,1.36; stroke-dashoffset: 0; stroke: #ff2020; stroke-opacity: 0.9; stroke-width: 0.8"/></g><g id="line2d_25"><path d="M 180.813584 41.893534 L 224.613919 23.444763 " clip-path="url(#p30af7951bb)" style="fill: none; stroke-dasharray: 1.4,1.12; stroke-dashoffset: 0; stroke: #222222; stroke-width: 0.7"/></g><g id="line2d_26"><path d="M 225.917374 41.893534 L 182.117038 23.444763 " clip-path="url(#p30af7951bb)" style="fill: none; stroke-dasharray: 1.4,1.12; stroke-dashoffset: 0; stroke: #222222; stroke-width: 0.7"/></g><g id="line2d_27"><g clip-path="url(#p30af7951bb)"><use xlink:href="#m9ddf718717" x="172.421393" y="32.39464" style="fill: #ff0000; stroke: #000000; stroke-opacity: 0"/><use xlink:href="#m9ddf718717" x="234.309565" y="32.39464" style="fill: #ff0000; stroke: #000000; stroke-opacity: 0"/><use xlink:href="#m9ddf718717" x="203.365479" y="46.000969" style="fill: #ff0000; stroke: #000000; stroke-opacity: 0"/><use xlink:href="#m9ddf718717" x="203.365479" y="19.887319" style="fill: #ff0000; stroke: #000000; stroke-opacity: 0"/></g></g><g id="line2d_28"><g clip-path="url(#p30af7951bb)"><use xlink:href="#m0e271f71d8" x="224.613919" y="23.444763" style="stroke: #000000; stroke-opacity: 0"/><use xlink:href="#m0e271f71d8" x="182.117038" y="23.444763" style="stroke: #000000; stroke-opacity: 0"/><use xlink:href="#m0e271f71d8" x="180.813584" y="41.893534" style="stroke: #000000; stroke-opacity: 0"/><use xlink:href="#m0e271f71d8" x="225.917374" y="41.893534" style="stroke: #000000; stroke-opacity: 0"/><use xlink:href="#m0e271f71d8" x="203.365479" y="32.39464" style="stroke: #000000; stroke-opacity: 0"/></g></g></g><g id="patch_4"><path d="M 276.810768 127.079568 L 396.9432 127.079568 L 396.9432 6.947136 L 276.810768 6.947136 L 276.810768 127.079568 z " style="fill: none; opacity: 0"/></g><g id="axes_3"><g id="line2d_29"><path d="M 358.666484 84.616186 L 356.39923 83.645099 L 353.317582 82.604282 L 350.00761 81.769025 L 346.521594 81.150676 L 342.913522 80.757521 L 339.238525 80.594774 L 335.55235 80.664584 L 331.910846 80.96603 L 328.369452 81.495124 L 324.982681 82.244808 L 321.803564 83.204958 L 318.883068 84.362397 L 316.765423 85.419606 L 314.867435 86.583095 L 313.210659 87.842002 L 311.814764 89.184314 L 310.69727 90.596926 L 309.873274 92.065708 L 309.455451 93.195128 L 309.213903 94.341029 L 309.151773 95.496524 L 309.271147 96.654534 L 309.572993 97.807831 L 310.057117 98.94908 L 310.72212 100.070892 L 311.885418 101.523627 L 313.355698 102.911304 L 315.119193 104.216977 L 317.158144 105.424375 L 319.450907 106.518168 L 321.972147 107.484232 L 324.693108 108.309903 L 327.581976 108.984218 L 330.604306 109.498128 L 333.723536 109.844675 L 337.700661 110.035538 L 341.693171 109.953622 L 345.624294 109.600678 L 348.674348 109.128042 L 351.599902 108.493059 L 354.365934 107.70427 L 356.939926 106.77218 L 359.292323 105.709048 L 361.396904 104.528657 L 363.231082 103.246059 L 364.776113 101.877316 L 366.017227 100.43923 L 366.943673 98.94908 L 367.427797 97.807831 L 367.729644 96.654534 L 367.849017 95.496524 L 367.786888 94.341029 L 367.545339 93.195128 L 367.127517 92.065708 L 366.30352 90.596926 L 365.186026 89.184314 L 363.790131 87.842002 L 362.133355 86.583095 L 360.235367 85.419606 L 358.666484 84.616186 L 358.666484 84.616186 " clip-path="url(#pa2c89f4610)" style="fill: none; stroke: #8c564b; stroke-width: 0.85; stroke-linecap: square"/></g><g id="line2d_30"><path d="M 309.173132 94.725474 L 367.827658 94.725474 " clip-path="url(#pa2c89f4610)" style="fill: none; stroke-dasharray: 1.28,1.36; stroke-dashoffset: 0; stroke: #ff2020; stroke-opacity: 0.9; stroke-width: 0.8"/></g><g id="line2d_31"><path d="M 338.500395 110.041005 L 338.500395 80.590117 " clip-path="url(#pa2c89f4610)" style="fill: none; stroke-dasharray: 1.28,1.36; stroke-dashoffset: 0; stroke: #ff2020; stroke-opacity: 0.9; stroke-width: 0.8"/></g><g id="line2d_32"><path d="M 317.158144 105.424375 L 358.666484 84.616186 " clip-path="url(#pa2c89f4610)" style="fill: none; stroke-dasharray: 1.4,1.12; stroke-dashoffset: 0; stroke: #222222; stroke-width: 0.7"/></g><g id="line2d_33"><path d="M 359.842647 105.424375 L 318.334307 84.616186 " clip-path="url(#pa2c89f4610)" style="fill: none; stroke-dasharray: 1.4,1.12; stroke-dashoffset: 0; stroke: #222222; stroke-width: 0.7"/></g><g id="line2d_34"><g clip-path="url(#pa2c89f4610)"><use xlink:href="#m9ddf718717" x="309.173132" y="94.725474" style="fill: #ff0000; stroke: #000000; stroke-opacity: 0"/><use xlink:href="#m9ddf718717" x="367.827658" y="94.725474" style="fill: #ff0000; stroke: #000000; stroke-opacity: 0"/><use xlink:href="#m9ddf718717" x="338.500395" y="110.041005" style="fill: #ff0000; stroke: #000000; stroke-opacity: 0"/><use xlink:href="#m9ddf718717" x="338.500395" y="80.590117" style="fill: #ff0000; stroke: #000000; stroke-opacity: 0"/></g></g><g id="line2d_35"><g clip-path="url(#pa2c89f4610)"><use xlink:href="#m0e271f71d8" x="358.666484" y="84.616186" style="stroke: #000000; stroke-opacity: 0"/><use xlink:href="#m0e271f71d8" x="318.334307" y="84.616186" style="stroke: #000000; stroke-opacity: 0"/><use xlink:href="#m0e271f71d8" x="317.158144" y="105.424375" style="stroke: #000000; stroke-opacity: 0"/><use xlink:href="#m0e271f71d8" x="359.842647" y="105.424375" style="stroke: #000000; stroke-opacity: 0"/><use xlink:href="#m0e271f71d8" x="338.500395" y="94.725474" style="stroke: #000000; stroke-opacity: 0"/></g></g><g id="line2d_36"><path d="M 359.633765 25.617562 L 356.630651 24.572463 L 353.347588 23.697532 L 349.837333 23.004682 L 346.154841 22.503175 L 342.356667 22.199628 L 338.500395 22.098005 L 334.644124 22.199628 L 330.845949 22.503175 L 327.163458 23.004682 L 323.653202 23.697532 L 320.370139 24.572463 L 317.367026 25.617562 L 314.693755 26.818288 L 312.823882 27.879496 L 311.216557 29.01946 L 309.891444 30.227254 L 308.865855 31.491013 L 308.154457 32.797996 L 307.834269 33.798489 L 307.701243 34.809738 L 307.758062 35.825594 L 308.006257 36.839758 L 308.446156 37.845815 L 309.07683 38.837277 L 310.210461 40.125269 L 311.670203 41.360378 L 313.442855 42.527533 L 315.510957 43.61218 L 317.852881 44.600521 L 320.442996 45.479752 L 323.251935 46.238295 L 327.020656 47.001481 L 331.009632 47.544273 L 335.143039 47.85508 L 339.341364 47.92722 L 343.523417 47.759136 L 347.60843 47.354452 L 351.518131 46.721848 L 355.178706 45.874779 L 358.522563 44.831033 L 360.929088 43.868813 L 363.067834 42.806983 L 364.91615 41.659116 L 366.455524 40.439599 L 367.671687 39.163396 L 368.554635 37.845815 L 368.994533 36.839758 L 369.242728 35.825594 L 369.299547 34.809738 L 369.166522 33.798489 L 368.846334 32.797996 L 368.342751 31.814222 L 367.394445 30.538431 L 366.142688 29.315497 L 364.60416 28.157514 L 362.797962 27.075646 L 360.745336 26.080079 L 359.633765 25.617562 L 359.633765 25.617562 " clip-path="url(#pa2c89f4610)" style="fill: none; stroke: #8c564b; stroke-width: 0.85; stroke-linecap: square"/></g><g id="line2d_37"><path d="M 307.724601 34.471836 L 369.27619 34.471836 " clip-path="url(#pa2c89f4610)" style="fill: none; stroke-dasharray: 1.28,1.36; stroke-dashoffset: 0; stroke: #ff2020; stroke-opacity: 0.9; stroke-width: 0.8"/></g><g id="line2d_38"><path d="M 338.500395 47.932034 L 338.500395 22.098005 " clip-path="url(#pa2c89f4610)" style="fill: none; stroke-dasharray: 1.28,1.36; stroke-dashoffset: 0; stroke: #ff2020; stroke-opacity: 0.9; stroke-width: 0.8"/></g><g id="line2d_39"><path d="M 316.071702 43.868813 L 359.633765 25.617562 " clip-path="url(#pa2c89f4610)" style="fill: none; stroke-dasharray: 1.4,1.12; stroke-dashoffset: 0; stroke: #222222; stroke-width: 0.7"/></g><g id="line2d_40"><path d="M 360.929088 43.868813 L 317.367026 25.617562 " clip-path="url(#pa2c89f4610)" style="fill: none; stroke-dasharray: 1.4,1.12; stroke-dashoffset: 0; stroke: #222222; stroke-width: 0.7"/></g><g id="line2d_41"><g clip-path="url(#pa2c89f4610)"><use xlink:href="#m9ddf718717" x="307.724601" y="34.471836" style="fill: #ff0000; stroke: #000000; stroke-opacity: 0"/><use xlink:href="#m9ddf718717" x="369.27619" y="34.471836" style="fill: #ff0000; stroke: #000000; stroke-opacity: 0"/><use xlink:href="#m9ddf718717" x="338.500395" y="47.932034" style="fill: #ff0000; stroke: #000000; stroke-opacity: 0"/><use xlink:href="#m9ddf718717" x="338.500395" y="22.098005" style="fill: #ff0000; stroke: #000000; stroke-opacity: 0"/></g></g><g id="line2d_42"><g clip-path="url(#pa2c89f4610)"><use xlink:href="#m0e271f71d8" x="359.633765" y="25.617562" style="stroke: #000000; stroke-opacity: 0"/><use xlink:href="#m0e271f71d8" x="317.367026" y="25.617562" style="stroke: #000000; stroke-opacity: 0"/><use xlink:href="#m0e271f71d8" x="316.071702" y="43.868813" style="stroke: #000000; stroke-opacity: 0"/><use xlink:href="#m0e271f71d8" x="360.929088" y="43.868813" style="stroke: #000000; stroke-opacity: 0"/><use xlink:href="#m0e271f71d8" x="338.500395" y="34.471836" style="stroke: #000000; stroke-opacity: 0"/></g></g></g><g id="patch_5"><path d="M 125.36244 247.96 L 125.36244 136.681488 L 13.994712 136.681488 L 13.994712 247.96 " style="fill: none; opacity: 0"/></g><g id="axes_4"><g id="line2d_43"><path d="M 90.797265 220.795342 L 83.018458 220.523432 L 72.615998 220.391605 L 62.023823 220.468312 L 52.653977 220.744846 L 46.545881 221.121537 L 43.412931 221.512472 L 42.556889 221.782004 L 42.492543 221.939315 L 42.744649 222.096895 L 43.719313 222.329895 L 46.112579 222.624779 L 50.740643 222.947953 L 58.285372 223.235585 L 68.037463 223.386815 L 78.962322 223.339627 L 88.712048 223.083085 L 95.468171 222.694178 L 98.647777 222.329895 L 99.788255 222.018181 L 99.881673 221.860517 L 99.660913 221.703988 L 98.756921 221.474973 L 96.542642 221.188564 L 91.833021 220.848736 L 90.797265 220.795342 L 90.797265 220.795342 " clip-path="url(#p03b234b70c)" style="fill: none; stroke: #d62728; stroke-width: 0.8; stroke-linecap: square"/></g><g id="line2d_44"><path d="M 42.511372 221.821211 L 99.855718 221.821211 " clip-path="url(#p03b234b70c)" style="fill: none; stroke-dasharray: 1.28,1.36; stroke-dashoffset: 0; stroke: #ff2020; stroke-opacity: 0.9; stroke-width: 0.8"/></g><g id="line2d_45"><path d="M 71.183545 223.39587 L 71.183545 220.389732 " clip-path="url(#p03b234b70c)" style="fill: none; stroke-dasharray: 1.28,1.36; stroke-dashoffset: 0; stroke: #ff2020; stroke-opacity: 0.9; stroke-width: 0.8"/></g><g id="line2d_46"><path d="M 50.202644 222.918589 L 90.797265 220.795342 " clip-path="url(#p03b234b70c)" style="fill: none; stroke-dasharray: 1,0.8; stroke-dashoffset: 0; stroke: #222222; stroke-width: 0.5"/></g><g id="line2d_47"><path d="M 92.164447 222.918589 L 51.569826 220.795342 " clip-path="url(#p03b234b70c)" style="fill: none; stroke-dasharray: 1,0.8; stroke-dashoffset: 0; stroke: #222222; stroke-width: 0.5"/></g><g id="line2d_48"><g clip-path="url(#p03b234b70c)"><use xlink:href="#m9ddf718717" x="42.511372" y="221.821211" style="fill: #ff0000; stroke: #000000; stroke-opacity: 0"/><use xlink:href="#m9ddf718717" x="99.855718" y="221.821211" style="fill: #ff0000; stroke: #000000; stroke-opacity: 0"/><use xlink:href="#m9ddf718717" x="71.183545" y="223.39587" style="fill: #ff0000; stroke: #000000; stroke-opacity: 0"/><use xlink:href="#m9ddf718717" x="71.183545" y="220.389732" style="fill: #ff0000; stroke: #000000; stroke-opacity: 0"/></g></g><g id="line2d_49"><g clip-path="url(#p03b234b70c)"><use xlink:href="#m0e271f71d8" x="90.797265" y="220.795342" style="stroke: #000000; stroke-opacity: 0"/><use xlink:href="#m0e271f71d8" x="51.569826" y="220.795342" style="stroke: #000000; stroke-opacity: 0"/><use xlink:href="#m0e271f71d8" x="50.202644" y="222.918589" style="stroke: #000000; stroke-opacity: 0"/><use xlink:href="#m0e271f71d8" x="92.164447" y="222.918589" style="stroke: #000000; stroke-opacity: 0"/><use xlink:href="#m0e271f71d8" x="71.183545" y="221.821211" style="stroke: #000000; stroke-opacity: 0"/></g></g><g id="line2d_50"><path d="M 90.798962 161.100218 L 83.019474 161.361212 L 72.61612 161.487746 L 61.344957 161.402168 L 52.104383 161.124807 L 46.17498 160.755201 L 43.231605 160.375597 L 42.508807 160.115534 L 42.523189 159.964316 L 42.854865 159.81326 L 43.948461 159.590719 L 46.494375 159.310668 L 51.860913 158.979825 L 60.429197 158.709142 L 71.183545 158.604079 L 81.937894 158.709142 L 91.074811 159.006551 L 96.622468 159.378245 L 99.226946 159.738324 L 99.877124 160.002171 L 99.858283 160.115534 L 99.559913 160.265253 L 98.543905 160.483556 L 95.823365 160.78712 L 90.798962 161.100218 L 90.798962 161.100218 " clip-path="url(#p03b234b70c)" style="fill: none; stroke: #d62728; stroke-width: 0.8; stroke-linecap: square"/></g><g id="line2d_51"><path d="M 42.508807 160.115534 L 99.858283 160.115534 " clip-path="url(#p03b234b70c)" style="fill: none; stroke-dasharray: 1.28,1.36; stroke-dashoffset: 0; stroke: #ff2020; stroke-opacity: 0.9; stroke-width: 0.8"/></g><g id="line2d_52"><path d="M 71.183545 158.604079 L 71.183545 161.489543 " clip-path="url(#p03b234b70c)" style="fill: none; stroke-dasharray: 1.28,1.36; stroke-dashoffset: 0; stroke: #ff2020; stroke-opacity: 0.9; stroke-width: 0.8"/></g><g id="line2d_53"><path d="M 50.200702 159.062205 L 90.798962 161.100218 " clip-path="url(#p03b234b70c)" style="fill: none; stroke-dasharray: 1,0.8; stroke-dashoffset: 0; stroke: #222222; stroke-width: 0.5"/></g><g id="line2d_54"><path d="M 92.166389 159.062205 L 51.568128 161.100218 " clip-path="url(#p03b234b70c)" style="fill: none; stroke-dasharray: 1,0.8; stroke-dashoffset: 0; stroke: #222222; stroke-width: 0.5"/></g><g id="line2d_55"><g clip-path="url(#p03b234b70c)"><use xlink:href="#m9ddf718717" x="42.508807" y="160.115534" style="fill: #ff0000; stroke: #000000; stroke-opacity: 0"/><use xlink:href="#m9ddf718717" x="99.858283" y="160.115534" style="fill: #ff0000; stroke: #000000; stroke-opacity: 0"/><use xlink:href="#m9ddf718717" x="71.183545" y="158.604079" style="fill: #ff0000; stroke: #000000; stroke-opacity: 0"/><use xlink:href="#m9ddf718717" x="71.183545" y="161.489543" style="fill: #ff0000; stroke: #000000; stroke-opacity: 0"/></g></g><g id="line2d_56"><g clip-path="url(#p03b234b70c)"><use xlink:href="#m0e271f71d8" x="90.798962" y="161.100218" style="stroke: #000000; stroke-opacity: 0"/><use xlink:href="#m0e271f71d8" x="51.568128" y="161.100218" style="stroke: #000000; stroke-opacity: 0"/><use xlink:href="#m0e271f71d8" x="50.200702" y="159.062205" style="stroke: #000000; stroke-opacity: 0"/><use xlink:href="#m0e271f71d8" x="92.166389" y="159.062205" style="stroke: #000000; stroke-opacity: 0"/><use xlink:href="#m0e271f71d8" x="71.183545" y="160.115534" style="stroke: #000000; stroke-opacity: 0"/></g></g></g><g id="patch_6"><path d="M 261.64728 247.96 L 261.64728 136.661976 L 150.169968 136.661976 L 150.169968 247.96 " style="fill: none; opacity: 0"/></g><g id="axes_5"><g id="line2d_57"><path d="M 226.838938 220.665525 L 219.136543 220.397927 L 208.833861 220.268172 L 197.671483 220.35593 L 188.522058 220.640316 L 182.653867 221.019196 L 179.920169 221.371039 L 179.075296 221.636114 L 179.013157 221.7908 L 179.264274 221.945735 L 180.231279 222.174791 L 182.602665 222.46463 L 187.185284 222.782207 L 194.652645 223.064796 L 205.078323 223.217242 L 215.858019 223.155503 L 225.365244 222.89003 L 231.847083 222.498985 L 234.809041 222.137101 L 235.730787 221.868344 L 235.824828 221.713319 L 235.607829 221.559393 L 234.715057 221.334156 L 232.525247 221.052421 L 227.864286 220.718067 L 226.838938 220.665525 L 226.838938 220.665525 " clip-path="url(#p48735db09c)" style="fill: none; stroke: #9467bd; stroke-width: 0.8; stroke-linecap: square"/></g><g id="line2d_58"><path d="M 179.030625 221.674669 L 235.799523 221.674669 " clip-path="url(#p48735db09c)" style="fill: none; stroke-dasharray: 1.28,1.36; stroke-dashoffset: 0; stroke: #ff2020; stroke-opacity: 0.9; stroke-width: 0.8"/></g><g id="line2d_59"><path d="M 207.415074 223.222247 L 207.415074 220.266329 " clip-path="url(#p48735db09c)" style="fill: none; stroke-dasharray: 1.28,1.36; stroke-dashoffset: 0; stroke: #ff2020; stroke-opacity: 0.9; stroke-width: 0.8"/></g><g id="line2d_60"><path d="M 186.652681 222.753354 L 226.838938 220.665525 " clip-path="url(#p48735db09c)" style="fill: none; stroke-dasharray: 1,0.8; stroke-dashoffset: 0; stroke: #222222; stroke-width: 0.5"/></g><g id="line2d_61"><path d="M 228.177468 222.753354 L 187.991211 220.665525 " clip-path="url(#p48735db09c)" style="fill: none; stroke-dasharray: 1,0.8; stroke-dashoffset: 0; stroke: #222222; stroke-width: 0.5"/></g><g id="line2d_62"><g clip-path="url(#p48735db09c)"><use xlink:href="#m9ddf718717" x="179.030625" y="221.674669" style="fill: #ff0000; stroke: #000000; stroke-opacity: 0"/><use xlink:href="#m9ddf718717" x="235.799523" y="221.674669" style="fill: #ff0000; stroke: #000000; stroke-opacity: 0"/><use xlink:href="#m9ddf718717" x="207.415074" y="223.222247" style="fill: #ff0000; stroke: #000000; stroke-opacity: 0"/><use xlink:href="#m9ddf718717" x="207.415074" y="220.266329" style="fill: #ff0000; stroke: #000000; stroke-opacity: 0"/></g></g><g id="line2d_63"><g clip-path="url(#p48735db09c)"><use xlink:href="#m0e271f71d8" x="226.838938" y="220.665525" style="stroke: #000000; stroke-opacity: 0"/><use xlink:href="#m0e271f71d8" x="187.991211" y="220.665525" style="stroke: #000000; stroke-opacity: 0"/><use xlink:href="#m0e271f71d8" x="186.652681" y="222.753354" style="stroke: #000000; stroke-opacity: 0"/><use xlink:href="#m0e271f71d8" x="228.177468" y="222.753354" style="stroke: #000000; stroke-opacity: 0"/><use xlink:href="#m0e271f71d8" x="207.415074" y="221.674669" style="stroke: #000000; stroke-opacity: 0"/></g></g><g id="line2d_64"><path d="M 226.840614 161.086365 L 218.484704 161.359387 L 208.124739 161.471773 L 197.004929 161.37292 L 187.989535 161.086365 L 182.302707 160.712401 L 179.741017 160.368497 L 179.028094 160.11095 L 179.043895 159.961219 L 179.373767 159.811662 L 180.458454 159.591362 L 183.379277 159.281464 L 188.871684 158.961113 L 197.498961 158.704873 L 208.194882 158.615623 L 218.772616 158.734133 L 227.646732 159.040423 L 232.935703 159.41517 L 235.324652 159.774498 L 235.819533 159.9987 L 235.757376 160.148217 L 235.247453 160.3323 L 233.759544 160.579391 L 230.20152 160.897321 L 226.840614 161.086365 L 226.840614 161.086365 " clip-path="url(#p48735db09c)" style="fill: none; stroke: #9467bd; stroke-width: 0.8; stroke-linecap: square"/></g><g id="line2d_65"><path d="M 179.028094 160.11095 L 235.802054 160.11095 " clip-path="url(#p48735db09c)" style="fill: none; stroke-dasharray: 1.28,1.36; stroke-dashoffset: 0; stroke: #ff2020; stroke-opacity: 0.9; stroke-width: 0.8"/></g><g id="line2d_66"><path d="M 207.415074 158.615085 L 207.415074 161.472218 " clip-path="url(#p48735db09c)" style="fill: none; stroke-dasharray: 1.28,1.36; stroke-dashoffset: 0; stroke: #ff2020; stroke-opacity: 0.9; stroke-width: 0.8"/></g><g id="line2d_67"><path d="M 186.650766 159.068312 L 226.840614 161.086365 " clip-path="url(#p48735db09c)" style="fill: none; stroke-dasharray: 1,0.8; stroke-dashoffset: 0; stroke: #222222; stroke-width: 0.5"/></g><g id="line2d_68"><path d="M 228.179383 159.068312 L 187.989535 161.086365 " clip-path="url(#p48735db09c)" style="fill: none; stroke-dasharray: 1,0.8; stroke-dashoffset: 0; stroke: #222222; stroke-width: 0.5"/></g><g id="line2d_69"><g clip-path="url(#p48735db09c)"><use xlink:href="#m9ddf718717" x="179.028094" y="160.11095" style="fill: #ff0000; stroke: #000000; stroke-opacity: 0"/><use xlink:href="#m9ddf718717" x="235.802054" y="160.11095" style="fill: #ff0000; stroke: #000000; stroke-opacity: 0"/><use xlink:href="#m9ddf718717" x="207.415074" y="158.615085" style="fill: #ff0000; stroke: #000000; stroke-opacity: 0"/><use xlink:href="#m9ddf718717" x="207.415074" y="161.472218" style="fill: #ff0000; stroke: #000000; stroke-opacity: 0"/></g></g><g id="line2d_70"><g clip-path="url(#p48735db09c)"><use xlink:href="#m0e271f71d8" x="226.840614" y="161.086365" style="stroke: #000000; stroke-opacity: 0"/><use xlink:href="#m0e271f71d8" x="187.989535" y="161.086365" style="stroke: #000000; stroke-opacity: 0"/><use xlink:href="#m0e271f71d8" x="186.650766" y="159.068312" style="stroke: #000000; stroke-opacity: 0"/><use xlink:href="#m0e271f71d8" x="228.179383" y="159.068312" style="stroke: #000000; stroke-opacity: 0"/><use xlink:href="#m0e271f71d8" x="207.415074" y="160.11095" style="stroke: #000000; stroke-opacity: 0"/></g></g></g><g id="patch_7"><path d="M 397 136.571544 L 286.418304 136.571544 L 286.418304 247.96 " style="fill: none; opacity: 0"/></g><g id="axes_6"><g id="line2d_71"><path d="M 363.030967 220.767836 L 355.370987 220.500613 L 345.123646 220.37103 L 334.021062 220.458672 L 324.921776 220.742663 L 319.08731 221.120963 L 316.370627 221.472216 L 315.532006 221.736812 L 315.47112 221.891205 L 315.721715 222.045836 L 316.684503 222.274426 L 319.043772 222.563643 L 323.601165 222.880499 L 331.025519 223.162412 L 341.389584 223.314479 L 352.105269 223.252895 L 361.557044 222.988068 L 368.002731 222.597922 L 370.949549 222.236814 L 371.920435 221.929908 L 371.937062 221.775295 L 371.645798 221.622187 L 370.649058 221.398895 L 367.97492 221.088301 L 363.030967 220.767836 L 363.030967 220.767836 " clip-path="url(#p5b62627115)" style="fill: none; stroke: #8c564b; stroke-width: 0.8; stroke-linecap: square"/></g><g id="line2d_72"><path d="M 315.487811 221.775295 L 371.937062 221.775295 " clip-path="url(#p5b62627115)" style="fill: none; stroke-dasharray: 1.28,1.36; stroke-dashoffset: 0; stroke: #ff2020; stroke-opacity: 0.9; stroke-width: 0.8"/></g><g id="line2d_73"><path d="M 343.712436 223.319472 L 343.712436 220.369189 " clip-path="url(#p5b62627115)" style="fill: none; stroke-dasharray: 1.28,1.36; stroke-dashoffset: 0; stroke: #ff2020; stroke-opacity: 0.9; stroke-width: 0.8"/></g><g id="line2d_74"><path d="M 323.071559 222.851714 L 363.030967 220.767836 " clip-path="url(#p5b62627115)" style="fill: none; stroke-dasharray: 1,0.8; stroke-dashoffset: 0; stroke: #222222; stroke-width: 0.5"/></g><g id="line2d_75"><path d="M 364.353314 222.851714 L 324.393906 220.767836 " clip-path="url(#p5b62627115)" style="fill: none; stroke-dasharray: 1,0.8; stroke-dashoffset: 0; stroke: #222222; stroke-width: 0.5"/></g><g id="line2d_76"><g clip-path="url(#p5b62627115)"><use xlink:href="#m9ddf718717" x="315.487811" y="221.775295" style="fill: #ff0000; stroke: #000000; stroke-opacity: 0"/><use xlink:href="#m9ddf718717" x="371.937062" y="221.775295" style="fill: #ff0000; stroke: #000000; stroke-opacity: 0"/><use xlink:href="#m9ddf718717" x="343.712436" y="223.319472" style="fill: #ff0000; stroke: #000000; stroke-opacity: 0"/><use xlink:href="#m9ddf718717" x="343.712436" y="220.369189" style="fill: #ff0000; stroke: #000000; stroke-opacity: 0"/></g></g><g id="line2d_77"><g clip-path="url(#p5b62627115)"><use xlink:href="#m0e271f71d8" x="363.030967" y="220.767836" style="stroke: #000000; stroke-opacity: 0"/><use xlink:href="#m0e271f71d8" x="324.393906" y="220.767836" style="stroke: #000000; stroke-opacity: 0"/><use xlink:href="#m0e271f71d8" x="323.071559" y="222.851714" style="stroke: #000000; stroke-opacity: 0"/><use xlink:href="#m0e271f71d8" x="364.353314" y="222.851714" style="stroke: #000000; stroke-opacity: 0"/><use xlink:href="#m0e271f71d8" x="343.712436" y="221.775295" style="stroke: #000000; stroke-opacity: 0"/></g></g><g id="line2d_78"><path d="M 363.032635 161.074571 L 354.722682 161.345592 L 344.418311 161.457165 L 333.358107 161.359027 L 324.392237 161.074571 L 318.738249 160.703397 L 316.192682 160.362111 L 315.485292 160.106558 L 315.501908 159.957998 L 315.830806 159.809622 L 316.910581 159.591078 L 319.816221 159.283685 L 325.277997 158.965966 L 333.855126 158.711863 L 344.487605 158.623364 L 355.706275 158.756835 L 364.355219 159.072279 L 369.409018 159.450548 L 371.594067 159.809622 L 371.970114 160.032358 L 371.895379 160.143534 L 371.389415 160.326193 L 369.9112 160.571393 L 366.374399 160.886929 L 363.032635 161.074571 L 363.032635 161.074571 " clip-path="url(#p5b62627115)" style="fill: none; stroke: #8c564b; stroke-width: 0.8; stroke-linecap: square"/></g><g id="line2d_79"><path d="M 315.485292 160.106558 L 371.939581 160.106558 " clip-path="url(#p5b62627115)" style="fill: none; stroke-dasharray: 1.28,1.36; stroke-dashoffset: 0; stroke: #ff2020; stroke-opacity: 0.9; stroke-width: 0.8"/></g><g id="line2d_80"><path d="M 343.712436 158.622831 L 343.712436 161.457607 " clip-path="url(#p5b62627115)" style="fill: none; stroke-dasharray: 1.28,1.36; stroke-dashoffset: 0; stroke: #ff2020; stroke-opacity: 0.9; stroke-width: 0.8"/></g><g id="line2d_81"><path d="M 323.069654 159.072279 L 363.032635 161.074571 " clip-path="url(#p5b62627115)" style="fill: none; stroke-dasharray: 1,0.8; stroke-dashoffset: 0; stroke: #222222; stroke-width: 0.5"/></g><g id="line2d_82"><path d="M 364.355219 159.072279 L 324.392237 161.074571 " clip-path="url(#p5b62627115)" style="fill: none; stroke-dasharray: 1,0.8; stroke-dashoffset: 0; stroke: #222222; stroke-width: 0.5"/></g><g id="line2d_83"><g clip-path="url(#p5b62627115)"><use xlink:href="#m9ddf718717" x="315.485292" y="160.106558" style="fill: #ff0000; stroke: #000000; stroke-opacity: 0"/><use xlink:href="#m9ddf718717" x="371.939581" y="160.106558" style="fill: #ff0000; stroke: #000000; stroke-opacity: 0"/><use xlink:href="#m9ddf718717" x="343.712436" y="158.622831" style="fill: #ff0000; stroke: #000000; stroke-opacity: 0"/><use xlink:href="#m9ddf718717" x="343.712436" y="161.457607" style="fill: #ff0000; stroke: #000000; stroke-opacity: 0"/></g></g><g id="line2d_84"><g clip-path="url(#p5b62627115)"><use xlink:href="#m0e271f71d8" x="363.032635" y="161.074571" style="stroke: #000000; stroke-opacity: 0"/><use xlink:href="#m0e271f71d8" x="324.392237" y="161.074571" style="stroke: #000000; stroke-opacity: 0"/><use xlink:href="#m0e271f71d8" x="323.069654" y="159.072279" style="stroke: #000000; stroke-opacity: 0"/><use xlink:href="#m0e271f71d8" x="364.355219" y="159.072279" style="stroke: #000000; stroke-opacity: 0"/><use xlink:href="#m0e271f71d8" x="343.712436" y="160.106558" style="stroke: #000000; stroke-opacity: 0"/></g></g></g></g><defs><clipPath id="p33dd7367be"><rect x="12.2805" y="3.458484" width="120.927096" height="120.927096"/></clipPath><clipPath id="p30af7951bb"><rect x="141.453792" y="4.487328" width="120.564864" height="120.564864"/></clipPath><clipPath id="pa2c89f4610"><rect x="276.810768" y="6.947136" width="120.132432" height="120.132432"/></clipPath><clipPath id="p03b234b70c"><rect x="13.994712" y="136.681488" width="111.367728" height="111.367728"/></clipPath><clipPath id="p48735db09c"><rect x="150.169968" y="136.661976" width="111.477312" height="111.477312"/></clipPath><clipPath id="p5b62627115"><rect x="286.418304" y="136.571544" width="111.572784" height="111.572784"/></clipPath></defs><defs><style type="text/css">*{stroke-linejoin: round; stroke-linecap: butt}</style></defs><g id="figure_1"><g id="patch_1"><path d="M 0 246.96 L 396 246.96 L 396 0 L 0 0 L 0 246.96 z " style="fill: none; opacity: 0"/></g><g id="text_1"><text style="stroke: #000; stroke-width: 0.180; font-size: 7.02144px; font-family: 'Liberation Sans'; text-anchor: start" x="51.868712" y="22.00562" transform="rotate(-0 51.868712 22.00562)" textLength="4.96" lengthAdjust="spacingAndGlyphs">N</text></g><g id="text_2"><text style="stroke: #000; stroke-width: 0.180; font-size: 7.02144px; font-family: 'Liberation Sans'; text-anchor: start" x="98.327684" y="22.00562" transform="rotate(-0 98.327684 22.00562)" textLength="4.19" lengthAdjust="spacingAndGlyphs">E</text></g><g id="text_3"><text style="stroke: #000; stroke-width: 0.180; font-size: 7.02144px; font-family: 'Liberation Sans'; text-anchor: start" x="50.309598" y="42.367252" transform="rotate(-0 50.309598 42.367252)" textLength="6.55" lengthAdjust="spacingAndGlyphs">W</text></g><g id="text_4"><text style="stroke: #000; stroke-width: 0.180; font-size: 7.02144px; font-family: 'Liberation Sans'; text-anchor: start" x="99.886797" y="42.367252" transform="rotate(-0 99.886797 42.367252)" textLength="4.20" lengthAdjust="spacingAndGlyphs">S</text></g><g id="text_5"><text style="stroke: #000; stroke-width: 0.180; font-size: 7.02144px; font-family: 'Liberation Sans'; text-anchor: start" x="52.935146" y="80.890877" transform="rotate(-0 52.935146 80.890877)" textLength="4.96" lengthAdjust="spacingAndGlyphs">N</text></g><g id="text_6"><text style="stroke: #000; stroke-width: 0.180; font-size: 7.02144px; font-family: 'Liberation Sans'; text-anchor: start" x="97.261249" y="80.890877" transform="rotate(-0 97.261249 80.890877)" textLength="4.19" lengthAdjust="spacingAndGlyphs">E</text></g><g id="text_7"><text style="stroke: #000; stroke-width: 0.180; font-size: 7.02144px; font-family: 'Liberation Sans'; text-anchor: start" x="51.52026" y="104.017285" transform="rotate(-0 51.52026 104.017285)" textLength="6.55" lengthAdjust="spacingAndGlyphs">W</text></g><g id="text_8"><text style="stroke: #000; stroke-width: 0.180; font-size: 7.02144px; font-family: 'Liberation Sans'; text-anchor: start" x="98.676136" y="104.017285" transform="rotate(-0 98.676136 104.017285)" textLength="4.20" lengthAdjust="spacingAndGlyphs">S</text></g><g id="text_9"><text style="stroke: #000; stroke-width: 0.180; font-size: 7.02144px; font-family: 'Liberation Sans'; text-anchor: start" x="180.779546" y="22.938144" transform="rotate(-0 180.779546 22.938144)" textLength="4.96" lengthAdjust="spacingAndGlyphs">N</text></g><g id="text_10"><text style="stroke: #000; stroke-width: 0.180; font-size: 7.02144px; font-family: 'Liberation Sans'; text-anchor: start" x="227.391412" y="22.938144" transform="rotate(-0 227.391412 22.938144)" textLength="4.19" lengthAdjust="spacingAndGlyphs">E</text></g><g id="text_11"><text style="stroke: #000; stroke-width: 0.180; font-size: 7.02144px; font-family: 'Liberation Sans'; text-anchor: start" x="179.202073" y="43.235571" transform="rotate(-0 179.202073 43.235571)" textLength="6.55" lengthAdjust="spacingAndGlyphs">W</text></g><g id="text_12"><text style="stroke: #000; stroke-width: 0.180; font-size: 7.02144px; font-family: 'Liberation Sans'; text-anchor: start" x="228.968885" y="43.235571" transform="rotate(-0 228.968885 43.235571)" textLength="4.20" lengthAdjust="spacingAndGlyphs">S</text></g><g id="text_13"><text style="stroke: #000; stroke-width: 0.180; font-size: 7.02144px; font-family: 'Liberation Sans'; text-anchor: start" x="181.843088" y="81.719597" transform="rotate(-0 181.843088 81.719597)" textLength="4.96" lengthAdjust="spacingAndGlyphs">N</text></g><g id="text_14"><text style="stroke: #000; stroke-width: 0.180; font-size: 7.02144px; font-family: 'Liberation Sans'; text-anchor: start" x="226.32787" y="81.719597" transform="rotate(-0 226.32787 81.719597)" textLength="4.19" lengthAdjust="spacingAndGlyphs">E</text></g><g id="text_15"><text style="stroke: #000; stroke-width: 0.180; font-size: 7.02144px; font-family: 'Liberation Sans'; text-anchor: start" x="180.410726" y="104.816522" transform="rotate(-0 180.410726 104.816522)" textLength="6.55" lengthAdjust="spacingAndGlyphs">W</text></g><g id="text_16"><text style="stroke: #000; stroke-width: 0.180; font-size: 7.02144px; font-family: 'Liberation Sans'; text-anchor: start" x="227.760231" y="104.816522" transform="rotate(-0 227.760231 104.816522)" textLength="4.20" lengthAdjust="spacingAndGlyphs">S</text></g><g id="text_17"><text style="stroke: #000; stroke-width: 0.180; font-size: 7.02144px; font-family: 'Liberation Sans'; text-anchor: start" x="316.040624" y="25.120178" transform="rotate(-0 316.040624 25.120178)" textLength="4.96" lengthAdjust="spacingAndGlyphs">N</text></g><g id="text_18"><text style="stroke: #000; stroke-width: 0.180; font-size: 7.02144px; font-family: 'Liberation Sans'; text-anchor: start" x="362.400167" y="25.120178" transform="rotate(-0 362.400167 25.120178)" textLength="4.19" lengthAdjust="spacingAndGlyphs">E</text></g><g id="text_19"><text style="stroke: #000; stroke-width: 0.180; font-size: 7.02144px; font-family: 'Liberation Sans'; text-anchor: start" x="314.472991" y="45.200286" transform="rotate(-0 314.472991 45.200286)" textLength="6.55" lengthAdjust="spacingAndGlyphs">W</text></g><g id="text_20"><text style="stroke: #000; stroke-width: 0.180; font-size: 7.02144px; font-family: 'Liberation Sans'; text-anchor: start" x="363.9678" y="45.200286" transform="rotate(-0 363.9678 45.200286)" textLength="4.20" lengthAdjust="spacingAndGlyphs">S</text></g><g id="text_21"><text style="stroke: #000; stroke-width: 0.180; font-size: 7.02144px; font-family: 'Liberation Sans'; text-anchor: start" x="317.098654" y="83.995815" transform="rotate(-0 317.098654 83.995815)" textLength="4.96" lengthAdjust="spacingAndGlyphs">N</text></g><g id="text_22"><text style="stroke: #000; stroke-width: 0.180; font-size: 7.02144px; font-family: 'Liberation Sans'; text-anchor: start" x="361.342137" y="83.995815" transform="rotate(-0 361.342137 83.995815)" textLength="4.19" lengthAdjust="spacingAndGlyphs">E</text></g><g id="text_23"><text style="stroke: #000; stroke-width: 0.180; font-size: 7.02144px; font-family: 'Liberation Sans'; text-anchor: start" x="315.675256" y="106.888685" transform="rotate(-0 315.675256 106.888685)" textLength="6.55" lengthAdjust="spacingAndGlyphs">W</text></g><g id="text_24"><text style="stroke: #000; stroke-width: 0.180; font-size: 7.02144px; font-family: 'Liberation Sans'; text-anchor: start" x="362.765534" y="106.888685" transform="rotate(-0 362.765534 106.888685)" textLength="4.20" lengthAdjust="spacingAndGlyphs">S</text></g><g id="text_25"><text style="stroke: #000; stroke-width: 0.180; font-size: 7.02144px; font-family: 'Liberation Sans'; text-anchor: start" x="50.540666" y="161.195169" transform="rotate(-0 50.540666 161.195169)" textLength="4.96" lengthAdjust="spacingAndGlyphs">N</text></g><g id="text_26"><text style="stroke: #000; stroke-width: 0.180; font-size: 7.02144px; font-family: 'Liberation Sans'; text-anchor: start" x="93.554425" y="161.195169" transform="rotate(-0 93.554425 161.195169)" textLength="4.19" lengthAdjust="spacingAndGlyphs">E</text></g><g id="text_27"><text style="stroke: #000; stroke-width: 0.180; font-size: 7.02144px; font-family: 'Liberation Sans'; text-anchor: start" x="48.885684" y="158.952819" transform="rotate(-0 48.885684 158.952819)" textLength="6.55" lengthAdjust="spacingAndGlyphs">W</text></g><g id="text_28"><text style="stroke: #000; stroke-width: 0.180; font-size: 7.02144px; font-family: 'Liberation Sans'; text-anchor: start" x="95.209406" y="158.952819" transform="rotate(-0 95.209406 158.952819)" textLength="4.20" lengthAdjust="spacingAndGlyphs">S</text></g><g id="text_29"><text style="stroke: #000; stroke-width: 0.180; font-size: 7.02144px; font-family: 'Liberation Sans'; text-anchor: start" x="50.542521" y="220.69642" transform="rotate(-0 50.542521 220.69642)" textLength="4.96" lengthAdjust="spacingAndGlyphs">N</text></g><g id="text_30"><text style="stroke: #000; stroke-width: 0.180; font-size: 7.02144px; font-family: 'Liberation Sans'; text-anchor: start" x="95.207255" y="223.032549" transform="rotate(-0 95.207255 223.032549)" textLength="4.20" lengthAdjust="spacingAndGlyphs">S</text></g><g id="text_31"><text style="stroke: #000; stroke-width: 0.180; font-size: 7.02144px; font-family: 'Liberation Sans'; text-anchor: start" x="48.887836" y="223.032549" transform="rotate(-0 48.887836 223.032549)" textLength="6.55" lengthAdjust="spacingAndGlyphs">W</text></g><g id="text_32"><text style="stroke: #000; stroke-width: 0.180; font-size: 7.02144px; font-family: 'Liberation Sans'; text-anchor: start" x="93.55257" y="220.69642" transform="rotate(-0 93.55257 220.69642)" textLength="4.19" lengthAdjust="spacingAndGlyphs">E</text></g><g id="text_33"><text style="stroke: #000; stroke-width: 0.180; font-size: 7.02144px; font-family: 'Liberation Sans'; text-anchor: start" x="186.979644" y="161.180459" transform="rotate(-0 186.979644 161.180459)" textLength="4.96" lengthAdjust="spacingAndGlyphs">N</text></g><g id="text_34"><text style="stroke: #000; stroke-width: 0.180; font-size: 7.02144px; font-family: 'Liberation Sans'; text-anchor: start" x="229.578504" y="161.180459" transform="rotate(-0 229.578504 161.180459)" textLength="4.19" lengthAdjust="spacingAndGlyphs">E</text></g><g id="text_35"><text style="stroke: #000; stroke-width: 0.180; font-size: 7.02144px; font-family: 'Liberation Sans'; text-anchor: start" x="185.359356" y="158.960082" transform="rotate(-0 185.359356 158.960082)" textLength="6.55" lengthAdjust="spacingAndGlyphs">W</text></g><g id="text_36"><text style="stroke: #000; stroke-width: 0.180; font-size: 7.02144px; font-family: 'Liberation Sans'; text-anchor: start" x="231.198792" y="158.960082" transform="rotate(-0 231.198792 158.960082)" textLength="4.20" lengthAdjust="spacingAndGlyphs">S</text></g><g id="text_37"><text style="stroke: #000; stroke-width: 0.180; font-size: 7.02144px; font-family: 'Liberation Sans'; text-anchor: start" x="186.981476" y="220.568178" transform="rotate(-0 186.981476 220.568178)" textLength="4.96" lengthAdjust="spacingAndGlyphs">N</text></g><g id="text_38"><text style="stroke: #000; stroke-width: 0.180; font-size: 7.02144px; font-family: 'Liberation Sans'; text-anchor: start" x="231.196671" y="222.865325" transform="rotate(-0 231.196671 222.865325)" textLength="4.20" lengthAdjust="spacingAndGlyphs">S</text></g><g id="text_39"><text style="stroke: #000; stroke-width: 0.180; font-size: 7.02144px; font-family: 'Liberation Sans'; text-anchor: start" x="185.361477" y="222.865325" transform="rotate(-0 185.361477 222.865325)" textLength="6.55" lengthAdjust="spacingAndGlyphs">W</text></g><g id="text_40"><text style="stroke: #000; stroke-width: 0.180; font-size: 7.02144px; font-family: 'Liberation Sans'; text-anchor: start" x="229.576672" y="220.568178" transform="rotate(-0 229.576672 220.568178)" textLength="4.19" lengthAdjust="spacingAndGlyphs">E</text></g><g id="text_41"><text style="stroke: #000; stroke-width: 0.180; font-size: 7.02144px; font-family: 'Liberation Sans'; text-anchor: start" x="323.392082" y="161.167972" transform="rotate(-0 323.392082 161.167972)" textLength="4.96" lengthAdjust="spacingAndGlyphs">N</text></g><g id="text_42"><text style="stroke: #000; stroke-width: 0.180; font-size: 7.02144px; font-family: 'Liberation Sans'; text-anchor: start" x="365.760791" y="161.167972" transform="rotate(-0 365.760791 161.167972)" textLength="4.19" lengthAdjust="spacingAndGlyphs">E</text></g><g id="text_43"><text style="stroke: #000; stroke-width: 0.180; font-size: 7.02144px; font-family: 'Liberation Sans'; text-anchor: start" x="321.791387" y="158.964944" transform="rotate(-0 321.791387 158.964944)" textLength="6.55" lengthAdjust="spacingAndGlyphs">W</text></g><g id="text_44"><text style="stroke: #000; stroke-width: 0.180; font-size: 7.02144px; font-family: 'Liberation Sans'; text-anchor: start" x="367.361486" y="158.964944" transform="rotate(-0 367.361486 158.964944)" textLength="4.20" lengthAdjust="spacingAndGlyphs">S</text></g><g id="text_45"><text style="stroke: #000; stroke-width: 0.180; font-size: 7.02144px; font-family: 'Liberation Sans'; text-anchor: start" x="323.393905" y="220.670628" transform="rotate(-0 323.393905 220.670628)" textLength="4.96" lengthAdjust="spacingAndGlyphs">N</text></g><g id="text_46"><text style="stroke: #000; stroke-width: 0.180; font-size: 7.02144px; font-family: 'Liberation Sans'; text-anchor: start" x="367.359376" y="222.963422" transform="rotate(-0 367.359376 222.963422)" textLength="4.20" lengthAdjust="spacingAndGlyphs">S</text></g><g id="text_47"><text style="stroke: #000; stroke-width: 0.180; font-size: 7.02144px; font-family: 'Liberation Sans'; text-anchor: start" x="321.793497" y="222.963422" transform="rotate(-0 321.793497 222.963422)" textLength="6.55" lengthAdjust="spacingAndGlyphs">W</text></g><g id="text_48"><text style="stroke: #000; stroke-width: 0.180; font-size: 7.02144px; font-family: 'Liberation Sans'; text-anchor: start" x="365.758967" y="220.670628" transform="rotate(-0 365.758967 220.670628)" textLength="4.19" lengthAdjust="spacingAndGlyphs">E</text></g></g><g transform="scale(0.72)" fill="#fff"><rect x="80" y="196" width="35" height="9.4"/><rect x="270" y="196" width="35" height="9.6"/><rect x="458" y="196" width="35" height="9.9"/></g></svg> </body></html>
